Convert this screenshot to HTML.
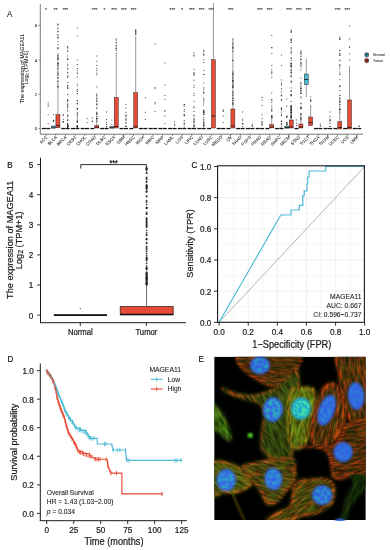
<!DOCTYPE html><html><head><meta charset="utf-8"><style>html,body{margin:0;padding:0;background:#fff;width:390px;height:550px;overflow:hidden}svg{display:block}text{stroke:#1a1a1a;stroke-width:0.2px}.pa text{stroke-width:0.06px}</style></head><body>
<svg width="390" height="550" viewBox="0 0 390 550" font-family='"Liberation Sans", Arial, Helvetica, sans-serif'>
<rect width="390" height="550" fill="#fff"/>
<g class="pa">
<text transform="translate(7,17.2) scale(1,1.1)" font-size="8" fill="#111">A</text>
<line x1="40.3" y1="4" x2="40.3" y2="134.2" stroke="#222" stroke-width="0.6" />
<line x1="40.3" y1="134.2" x2="363" y2="134.2" stroke="#222" stroke-width="0.6" />
<line x1="38.5" y1="128.6" x2="40.3" y2="128.6" stroke="#222" stroke-width="0.5" />
<text x="37.3" y="130.2" font-size="4.4" text-anchor="end" fill="#333"  style="stroke-width:0.08px">0</text>
<line x1="38.5" y1="94.26" x2="40.3" y2="94.26" stroke="#222" stroke-width="0.5" />
<text x="37.3" y="95.86" font-size="4.4" text-anchor="end" fill="#333"  style="stroke-width:0.08px">2</text>
<line x1="38.5" y1="59.92" x2="40.3" y2="59.92" stroke="#222" stroke-width="0.5" />
<text x="37.3" y="61.52" font-size="4.4" text-anchor="end" fill="#333"  style="stroke-width:0.08px">4</text>
<line x1="38.5" y1="25.58" x2="40.3" y2="25.58" stroke="#222" stroke-width="0.5" />
<text x="37.3" y="27.18" font-size="4.4" text-anchor="end" fill="#333"  style="stroke-width:0.08px">6</text>
<text transform="translate(23.5,68.5) rotate(-90)" font-size="5.4" text-anchor="middle" fill="#222">The expression of MAGEA11</text>
<text transform="translate(27.6,67.5) rotate(-90)" font-size="5.4" text-anchor="middle" fill="#222">Log<tspan font-size="3.8" dy="1">2</tspan><tspan dy="-1"> (TPM+1)</tspan></text>
<line x1="46" y1="134.2" x2="46" y2="135.9" stroke="#222" stroke-width="0.5" />
<text transform="translate(47.6,137.5) rotate(-45)" font-size="4.3" text-anchor="end" fill="#222">ACC</text>
<text x="46" y="11.5" font-size="4.8" text-anchor="middle" fill="#444"  style="stroke-width:0.08px">*</text>
<rect x="41.8" y="127.9" width="4.0" height="1.3" fill="#111"/>
<rect x="47.65" y="102.55" width="1.1" height="0.9" fill="#222" fill-opacity="0.85"/>
<rect x="47.65" y="123.31" width="1.1" height="0.9" fill="#222" fill-opacity="0.85"/>
<rect x="47.65" y="114.42" width="1.1" height="0.9" fill="#222" fill-opacity="0.85"/>
<rect x="47.65" y="104.46" width="1.1" height="0.9" fill="#222" fill-opacity="0.85"/>
<rect x="47.65" y="105.77" width="1.1" height="0.9" fill="#222" fill-opacity="0.85"/>
<rect x="46.2" y="127.9" width="4.0" height="1.3" fill="#111"/>
<line x1="55.72" y1="134.2" x2="55.72" y2="135.9" stroke="#222" stroke-width="0.5" />
<text transform="translate(57.32,137.5) rotate(-45)" font-size="4.3" text-anchor="end" fill="#222">BLCA</text>
<text x="55.72" y="11.5" font-size="4.8" text-anchor="middle" fill="#444"  style="stroke-width:0.08px">**</text>
<rect x="52.97" y="114.25" width="1.1" height="0.9" fill="#222" fill-opacity="0.85"/>
<rect x="52.97" y="120.93" width="1.1" height="0.9" fill="#222" fill-opacity="0.85"/>
<rect x="52.97" y="120.25" width="1.1" height="0.9" fill="#222" fill-opacity="0.85"/>
<rect x="52.97" y="119.95" width="1.1" height="0.9" fill="#222" fill-opacity="0.85"/>
<rect x="52.97" y="119.87" width="1.1" height="0.9" fill="#222" fill-opacity="0.85"/>
<rect x="51.52" y="126" width="4.0" height="2.2" fill="#4DBBD5" stroke="#222" stroke-width="0.45"/>
<line x1="51.52" y1="127.2" x2="55.52" y2="127.2" stroke="#111" stroke-width="0.8" />
<rect x="57.37" y="23.55" width="1.1" height="0.9" fill="#222" fill-opacity="0.85"/>
<rect x="57.37" y="31.33" width="1.1" height="0.9" fill="#222" fill-opacity="0.85"/>
<rect x="57.37" y="80.6" width="1.1" height="0.9" fill="#222" fill-opacity="0.85"/>
<rect x="57.37" y="75.15" width="1.1" height="0.9" fill="#222" fill-opacity="0.85"/>
<rect x="57.37" y="37.33" width="1.1" height="0.9" fill="#222" fill-opacity="0.85"/>
<rect x="57.37" y="47.1" width="1.1" height="0.9" fill="#222" fill-opacity="0.85"/>
<rect x="57.37" y="55.32" width="1.1" height="0.9" fill="#222" fill-opacity="0.85"/>
<rect x="57.37" y="47.88" width="1.1" height="0.9" fill="#222" fill-opacity="0.85"/>
<rect x="57.37" y="72.59" width="1.1" height="0.9" fill="#222" fill-opacity="0.85"/>
<rect x="57.37" y="74.52" width="1.1" height="0.9" fill="#222" fill-opacity="0.85"/>
<rect x="57.37" y="40.9" width="1.1" height="0.9" fill="#222" fill-opacity="0.85"/>
<rect x="57.37" y="62.27" width="1.1" height="0.9" fill="#222" fill-opacity="0.85"/>
<rect x="57.37" y="69.7" width="1.1" height="0.9" fill="#222" fill-opacity="0.85"/>
<rect x="57.37" y="34.33" width="1.1" height="0.9" fill="#222" fill-opacity="0.85"/>
<rect x="57.37" y="27.55" width="1.1" height="0.9" fill="#222" fill-opacity="0.85"/>
<rect x="57.37" y="55.92" width="1.1" height="0.9" fill="#222" fill-opacity="0.85"/>
<rect x="57.37" y="68.48" width="1.1" height="0.9" fill="#222" fill-opacity="0.85"/>
<rect x="57.37" y="62.89" width="1.1" height="0.9" fill="#222" fill-opacity="0.85"/>
<rect x="57.37" y="81.32" width="1.1" height="0.9" fill="#222" fill-opacity="0.85"/>
<rect x="57.37" y="83.03" width="1.1" height="0.9" fill="#222" fill-opacity="0.85"/>
<rect x="57.37" y="78.24" width="1.1" height="0.9" fill="#222" fill-opacity="0.85"/>
<rect x="57.37" y="63.46" width="1.1" height="0.9" fill="#222" fill-opacity="0.85"/>
<rect x="57.37" y="67.59" width="1.1" height="0.9" fill="#222" fill-opacity="0.85"/>
<rect x="57.37" y="71.41" width="1.1" height="0.9" fill="#222" fill-opacity="0.85"/>
<rect x="57.37" y="67.94" width="1.1" height="0.9" fill="#222" fill-opacity="0.85"/>
<rect x="57.37" y="24.2" width="1.1" height="0.9" fill="#222" fill-opacity="0.85"/>
<rect x="57.37" y="37.45" width="1.1" height="0.9" fill="#222" fill-opacity="0.85"/>
<rect x="57.37" y="31.14" width="1.1" height="0.9" fill="#222" fill-opacity="0.85"/>
<rect x="57.37" y="43.97" width="1.1" height="0.9" fill="#222" fill-opacity="0.85"/>
<rect x="57.37" y="58.01" width="1.1" height="0.9" fill="#222" fill-opacity="0.85"/>
<rect x="57.37" y="86.47" width="1.1" height="0.9" fill="#222" fill-opacity="0.85"/>
<rect x="57.37" y="56.78" width="1.1" height="0.9" fill="#222" fill-opacity="0.85"/>
<rect x="57.37" y="63.18" width="1.1" height="0.9" fill="#222" fill-opacity="0.85"/>
<rect x="57.37" y="58.03" width="1.1" height="0.9" fill="#222" fill-opacity="0.85"/>
<rect x="57.37" y="85.89" width="1.1" height="0.9" fill="#222" fill-opacity="0.85"/>
<rect x="57.37" y="35.19" width="1.1" height="0.9" fill="#222" fill-opacity="0.85"/>
<rect x="57.37" y="77.2" width="1.1" height="0.9" fill="#222" fill-opacity="0.85"/>
<rect x="57.37" y="59.7" width="1.1" height="0.9" fill="#222" fill-opacity="0.85"/>
<rect x="57.37" y="24.62" width="1.1" height="0.9" fill="#222" fill-opacity="0.85"/>
<rect x="57.37" y="58.05" width="1.1" height="0.9" fill="#222" fill-opacity="0.85"/>
<rect x="57.37" y="65.14" width="1.1" height="0.9" fill="#222" fill-opacity="0.85"/>
<rect x="57.37" y="36.99" width="1.1" height="0.9" fill="#222" fill-opacity="0.85"/>
<rect x="57.37" y="53.33" width="1.1" height="0.9" fill="#222" fill-opacity="0.85"/>
<rect x="57.37" y="63.88" width="1.1" height="0.9" fill="#222" fill-opacity="0.85"/>
<rect x="57.37" y="48.31" width="1.1" height="0.9" fill="#222" fill-opacity="0.85"/>
<rect x="57.37" y="28.64" width="1.1" height="0.9" fill="#222" fill-opacity="0.85"/>
<rect x="57.37" y="66.08" width="1.1" height="0.9" fill="#222" fill-opacity="0.85"/>
<rect x="57.37" y="80.73" width="1.1" height="0.9" fill="#222" fill-opacity="0.85"/>
<rect x="57.37" y="54.83" width="1.1" height="0.9" fill="#222" fill-opacity="0.85"/>
<rect x="57.37" y="76.92" width="1.1" height="0.9" fill="#222" fill-opacity="0.85"/>
<rect x="57.37" y="72.69" width="1.1" height="0.9" fill="#222" fill-opacity="0.85"/>
<rect x="57.37" y="84.75" width="1.1" height="0.9" fill="#222" fill-opacity="0.85"/>
<rect x="57.37" y="86.29" width="1.1" height="0.9" fill="#222" fill-opacity="0.85"/>
<rect x="57.37" y="73.54" width="1.1" height="0.9" fill="#222" fill-opacity="0.85"/>
<rect x="57.37" y="59.16" width="1.1" height="0.9" fill="#222" fill-opacity="0.85"/>
<line x1="57.92" y1="87" x2="57.92" y2="114.6" stroke="#333" stroke-width="0.5" />
<rect x="55.92" y="114.6" width="4.0" height="13.2" fill="#E64B35" stroke="#222" stroke-width="0.45"/>
<line x1="55.92" y1="125.4" x2="59.92" y2="125.4" stroke="#111" stroke-width="0.8" />
<line x1="65.44" y1="134.2" x2="65.44" y2="135.9" stroke="#222" stroke-width="0.5" />
<text transform="translate(67.04,137.5) rotate(-45)" font-size="4.3" text-anchor="end" fill="#222">BRCA</text>
<text x="65.44" y="11.5" font-size="4.8" text-anchor="middle" fill="#444"  style="stroke-width:0.08px">***</text>
<rect x="62.69" y="114.25" width="1.1" height="0.9" fill="#222" fill-opacity="0.85"/>
<rect x="62.69" y="121.25" width="1.1" height="0.9" fill="#222" fill-opacity="0.85"/>
<rect x="62.69" y="121.81" width="1.1" height="0.9" fill="#222" fill-opacity="0.85"/>
<rect x="62.69" y="115.24" width="1.1" height="0.9" fill="#222" fill-opacity="0.85"/>
<rect x="62.69" y="120.96" width="1.1" height="0.9" fill="#222" fill-opacity="0.85"/>
<rect x="62.69" y="118.77" width="1.1" height="0.9" fill="#222" fill-opacity="0.85"/>
<rect x="61.24" y="127.9" width="4.0" height="1.3" fill="#111"/>
<rect x="67.09" y="46.05" width="1.1" height="0.9" fill="#222" fill-opacity="0.85"/>
<rect x="67.09" y="126.38" width="1.1" height="0.9" fill="#222" fill-opacity="0.85"/>
<rect x="67.09" y="85.57" width="1.1" height="0.9" fill="#222" fill-opacity="0.85"/>
<rect x="67.09" y="125.2" width="1.1" height="0.9" fill="#222" fill-opacity="0.85"/>
<rect x="67.09" y="65.58" width="1.1" height="0.9" fill="#222" fill-opacity="0.85"/>
<rect x="67.09" y="115.78" width="1.1" height="0.9" fill="#222" fill-opacity="0.85"/>
<rect x="67.09" y="118.6" width="1.1" height="0.9" fill="#222" fill-opacity="0.85"/>
<rect x="67.09" y="99.49" width="1.1" height="0.9" fill="#222" fill-opacity="0.85"/>
<rect x="67.09" y="126.17" width="1.1" height="0.9" fill="#222" fill-opacity="0.85"/>
<rect x="67.09" y="125.5" width="1.1" height="0.9" fill="#222" fill-opacity="0.85"/>
<rect x="67.09" y="77.05" width="1.1" height="0.9" fill="#222" fill-opacity="0.85"/>
<rect x="67.09" y="126.55" width="1.1" height="0.9" fill="#222" fill-opacity="0.85"/>
<rect x="67.09" y="107.41" width="1.1" height="0.9" fill="#222" fill-opacity="0.85"/>
<rect x="67.09" y="82.04" width="1.1" height="0.9" fill="#222" fill-opacity="0.85"/>
<rect x="67.09" y="94.1" width="1.1" height="0.9" fill="#222" fill-opacity="0.85"/>
<rect x="67.09" y="104.31" width="1.1" height="0.9" fill="#222" fill-opacity="0.85"/>
<rect x="67.09" y="50.48" width="1.1" height="0.9" fill="#222" fill-opacity="0.85"/>
<rect x="67.09" y="115.45" width="1.1" height="0.9" fill="#222" fill-opacity="0.85"/>
<rect x="67.09" y="63.77" width="1.1" height="0.9" fill="#222" fill-opacity="0.85"/>
<rect x="67.09" y="75.54" width="1.1" height="0.9" fill="#222" fill-opacity="0.85"/>
<rect x="67.09" y="68.04" width="1.1" height="0.9" fill="#222" fill-opacity="0.85"/>
<rect x="67.09" y="71.9" width="1.1" height="0.9" fill="#222" fill-opacity="0.85"/>
<rect x="67.09" y="103.31" width="1.1" height="0.9" fill="#222" fill-opacity="0.85"/>
<rect x="67.09" y="124.42" width="1.1" height="0.9" fill="#222" fill-opacity="0.85"/>
<rect x="67.09" y="85.36" width="1.1" height="0.9" fill="#222" fill-opacity="0.85"/>
<rect x="67.09" y="75.56" width="1.1" height="0.9" fill="#222" fill-opacity="0.85"/>
<rect x="67.09" y="86.68" width="1.1" height="0.9" fill="#222" fill-opacity="0.85"/>
<rect x="67.09" y="68.58" width="1.1" height="0.9" fill="#222" fill-opacity="0.85"/>
<rect x="67.09" y="125.94" width="1.1" height="0.9" fill="#222" fill-opacity="0.85"/>
<rect x="67.09" y="99.5" width="1.1" height="0.9" fill="#222" fill-opacity="0.85"/>
<rect x="67.09" y="122.98" width="1.1" height="0.9" fill="#222" fill-opacity="0.85"/>
<rect x="67.09" y="126.53" width="1.1" height="0.9" fill="#222" fill-opacity="0.85"/>
<rect x="67.09" y="47.6" width="1.1" height="0.9" fill="#222" fill-opacity="0.85"/>
<rect x="67.09" y="50.65" width="1.1" height="0.9" fill="#222" fill-opacity="0.85"/>
<rect x="67.09" y="125.57" width="1.1" height="0.9" fill="#222" fill-opacity="0.85"/>
<rect x="67.09" y="124.13" width="1.1" height="0.9" fill="#222" fill-opacity="0.85"/>
<rect x="67.09" y="126.34" width="1.1" height="0.9" fill="#222" fill-opacity="0.85"/>
<rect x="67.09" y="105.07" width="1.1" height="0.9" fill="#222" fill-opacity="0.85"/>
<rect x="67.09" y="106.38" width="1.1" height="0.9" fill="#222" fill-opacity="0.85"/>
<rect x="67.09" y="101.01" width="1.1" height="0.9" fill="#222" fill-opacity="0.85"/>
<rect x="67.09" y="125.5" width="1.1" height="0.9" fill="#222" fill-opacity="0.85"/>
<rect x="67.09" y="124.62" width="1.1" height="0.9" fill="#222" fill-opacity="0.85"/>
<rect x="67.09" y="123.36" width="1.1" height="0.9" fill="#222" fill-opacity="0.85"/>
<rect x="67.09" y="87.72" width="1.1" height="0.9" fill="#222" fill-opacity="0.85"/>
<rect x="67.09" y="46.49" width="1.1" height="0.9" fill="#222" fill-opacity="0.85"/>
<rect x="67.09" y="126.42" width="1.1" height="0.9" fill="#222" fill-opacity="0.85"/>
<rect x="67.09" y="59.14" width="1.1" height="0.9" fill="#222" fill-opacity="0.85"/>
<rect x="67.09" y="59.11" width="1.1" height="0.9" fill="#222" fill-opacity="0.85"/>
<rect x="67.09" y="55.57" width="1.1" height="0.9" fill="#222" fill-opacity="0.85"/>
<rect x="67.09" y="119.77" width="1.1" height="0.9" fill="#222" fill-opacity="0.85"/>
<rect x="67.09" y="109.65" width="1.1" height="0.9" fill="#222" fill-opacity="0.85"/>
<rect x="67.09" y="126.38" width="1.1" height="0.9" fill="#222" fill-opacity="0.85"/>
<rect x="67.09" y="119.99" width="1.1" height="0.9" fill="#222" fill-opacity="0.85"/>
<rect x="67.09" y="110.6" width="1.1" height="0.9" fill="#222" fill-opacity="0.85"/>
<rect x="67.09" y="125.44" width="1.1" height="0.9" fill="#222" fill-opacity="0.85"/>
<rect x="67.09" y="87.69" width="1.1" height="0.9" fill="#222" fill-opacity="0.85"/>
<rect x="67.09" y="72.53" width="1.1" height="0.9" fill="#222" fill-opacity="0.85"/>
<rect x="67.09" y="58.23" width="1.1" height="0.9" fill="#222" fill-opacity="0.85"/>
<rect x="67.09" y="114.6" width="1.1" height="0.9" fill="#222" fill-opacity="0.85"/>
<rect x="67.09" y="99.72" width="1.1" height="0.9" fill="#222" fill-opacity="0.85"/>
<rect x="65.64" y="127.9" width="4.0" height="1.3" fill="#111"/>
<line x1="75.16" y1="134.2" x2="75.16" y2="135.9" stroke="#222" stroke-width="0.5" />
<text transform="translate(76.76,137.5) rotate(-45)" font-size="4.3" text-anchor="end" fill="#222">CESC</text>
<rect x="70.96" y="127.9" width="4.0" height="1.3" fill="#111"/>
<rect x="76.81" y="27.55" width="1.1" height="0.9" fill="#222" fill-opacity="0.85"/>
<rect x="76.81" y="35.68" width="1.1" height="0.9" fill="#222" fill-opacity="0.85"/>
<rect x="76.81" y="85.45" width="1.1" height="0.9" fill="#222" fill-opacity="0.85"/>
<rect x="76.81" y="121.73" width="1.1" height="0.9" fill="#222" fill-opacity="0.85"/>
<rect x="76.81" y="88.97" width="1.1" height="0.9" fill="#222" fill-opacity="0.85"/>
<rect x="76.81" y="70.28" width="1.1" height="0.9" fill="#222" fill-opacity="0.85"/>
<rect x="76.81" y="68" width="1.1" height="0.9" fill="#222" fill-opacity="0.85"/>
<rect x="76.81" y="59.64" width="1.1" height="0.9" fill="#222" fill-opacity="0.85"/>
<rect x="76.81" y="83.46" width="1.1" height="0.9" fill="#222" fill-opacity="0.85"/>
<rect x="76.81" y="126.16" width="1.1" height="0.9" fill="#222" fill-opacity="0.85"/>
<rect x="76.81" y="125.21" width="1.1" height="0.9" fill="#222" fill-opacity="0.85"/>
<rect x="76.81" y="121.38" width="1.1" height="0.9" fill="#222" fill-opacity="0.85"/>
<rect x="76.81" y="72.58" width="1.1" height="0.9" fill="#222" fill-opacity="0.85"/>
<rect x="76.81" y="116.48" width="1.1" height="0.9" fill="#222" fill-opacity="0.85"/>
<rect x="76.81" y="125.32" width="1.1" height="0.9" fill="#222" fill-opacity="0.85"/>
<rect x="76.81" y="115.45" width="1.1" height="0.9" fill="#222" fill-opacity="0.85"/>
<rect x="76.81" y="99.88" width="1.1" height="0.9" fill="#222" fill-opacity="0.85"/>
<rect x="76.81" y="118.61" width="1.1" height="0.9" fill="#222" fill-opacity="0.85"/>
<rect x="76.81" y="126.53" width="1.1" height="0.9" fill="#222" fill-opacity="0.85"/>
<rect x="76.81" y="90.85" width="1.1" height="0.9" fill="#222" fill-opacity="0.85"/>
<rect x="76.81" y="100.6" width="1.1" height="0.9" fill="#222" fill-opacity="0.85"/>
<rect x="76.81" y="121.99" width="1.1" height="0.9" fill="#222" fill-opacity="0.85"/>
<rect x="76.81" y="113.93" width="1.1" height="0.9" fill="#222" fill-opacity="0.85"/>
<rect x="76.81" y="126.38" width="1.1" height="0.9" fill="#222" fill-opacity="0.85"/>
<rect x="76.81" y="64.08" width="1.1" height="0.9" fill="#222" fill-opacity="0.85"/>
<rect x="76.81" y="113.52" width="1.1" height="0.9" fill="#222" fill-opacity="0.85"/>
<rect x="76.81" y="103.42" width="1.1" height="0.9" fill="#222" fill-opacity="0.85"/>
<rect x="76.81" y="92.96" width="1.1" height="0.9" fill="#222" fill-opacity="0.85"/>
<rect x="76.81" y="126.29" width="1.1" height="0.9" fill="#222" fill-opacity="0.85"/>
<rect x="76.81" y="120.1" width="1.1" height="0.9" fill="#222" fill-opacity="0.85"/>
<rect x="76.81" y="109.01" width="1.1" height="0.9" fill="#222" fill-opacity="0.85"/>
<rect x="76.81" y="126.13" width="1.1" height="0.9" fill="#222" fill-opacity="0.85"/>
<rect x="76.81" y="125.43" width="1.1" height="0.9" fill="#222" fill-opacity="0.85"/>
<rect x="76.81" y="125.93" width="1.1" height="0.9" fill="#222" fill-opacity="0.85"/>
<rect x="76.81" y="121.01" width="1.1" height="0.9" fill="#222" fill-opacity="0.85"/>
<rect x="76.81" y="107.91" width="1.1" height="0.9" fill="#222" fill-opacity="0.85"/>
<rect x="76.81" y="126.55" width="1.1" height="0.9" fill="#222" fill-opacity="0.85"/>
<rect x="76.81" y="102.94" width="1.1" height="0.9" fill="#222" fill-opacity="0.85"/>
<rect x="76.81" y="93.3" width="1.1" height="0.9" fill="#222" fill-opacity="0.85"/>
<rect x="76.81" y="90.76" width="1.1" height="0.9" fill="#222" fill-opacity="0.85"/>
<rect x="76.81" y="111.94" width="1.1" height="0.9" fill="#222" fill-opacity="0.85"/>
<rect x="76.81" y="76.59" width="1.1" height="0.9" fill="#222" fill-opacity="0.85"/>
<rect x="76.81" y="126.51" width="1.1" height="0.9" fill="#222" fill-opacity="0.85"/>
<rect x="76.81" y="72.8" width="1.1" height="0.9" fill="#222" fill-opacity="0.85"/>
<rect x="76.81" y="107.95" width="1.1" height="0.9" fill="#222" fill-opacity="0.85"/>
<rect x="75.36" y="127.9" width="4.0" height="1.3" fill="#111"/>
<line x1="84.88" y1="134.2" x2="84.88" y2="135.9" stroke="#222" stroke-width="0.5" />
<text transform="translate(86.48,137.5) rotate(-45)" font-size="4.3" text-anchor="end" fill="#222">CHOL</text>
<rect x="80.68" y="127.9" width="4.0" height="1.3" fill="#111"/>
<rect x="86.53" y="118.25" width="1.1" height="0.9" fill="#222" fill-opacity="0.85"/>
<rect x="86.53" y="122.22" width="1.1" height="0.9" fill="#222" fill-opacity="0.85"/>
<rect x="85.08" y="127.9" width="4.0" height="1.3" fill="#111"/>
<line x1="94.6" y1="134.2" x2="94.6" y2="135.9" stroke="#222" stroke-width="0.5" />
<text transform="translate(96.2,137.5) rotate(-45)" font-size="4.3" text-anchor="end" fill="#222">COAD</text>
<text x="94.6" y="11.5" font-size="4.8" text-anchor="middle" fill="#444"  style="stroke-width:0.08px">***</text>
<rect x="91.85" y="117.55" width="1.1" height="0.9" fill="#222" fill-opacity="0.85"/>
<rect x="91.85" y="120.77" width="1.1" height="0.9" fill="#222" fill-opacity="0.85"/>
<rect x="91.85" y="120.84" width="1.1" height="0.9" fill="#222" fill-opacity="0.85"/>
<rect x="90.4" y="127.9" width="4.0" height="1.3" fill="#111"/>
<rect x="96.25" y="55.55" width="1.1" height="0.9" fill="#222" fill-opacity="0.85"/>
<rect x="96.25" y="115.68" width="1.1" height="0.9" fill="#222" fill-opacity="0.85"/>
<rect x="96.25" y="68.24" width="1.1" height="0.9" fill="#222" fill-opacity="0.85"/>
<rect x="96.25" y="95.57" width="1.1" height="0.9" fill="#222" fill-opacity="0.85"/>
<rect x="96.25" y="104.29" width="1.1" height="0.9" fill="#222" fill-opacity="0.85"/>
<rect x="96.25" y="118.36" width="1.1" height="0.9" fill="#222" fill-opacity="0.85"/>
<rect x="96.25" y="74.25" width="1.1" height="0.9" fill="#222" fill-opacity="0.85"/>
<rect x="96.25" y="118.18" width="1.1" height="0.9" fill="#222" fill-opacity="0.85"/>
<rect x="96.25" y="121.05" width="1.1" height="0.9" fill="#222" fill-opacity="0.85"/>
<rect x="96.25" y="97.39" width="1.1" height="0.9" fill="#222" fill-opacity="0.85"/>
<rect x="96.25" y="117.96" width="1.1" height="0.9" fill="#222" fill-opacity="0.85"/>
<rect x="96.25" y="102.74" width="1.1" height="0.9" fill="#222" fill-opacity="0.85"/>
<rect x="96.25" y="116.38" width="1.1" height="0.9" fill="#222" fill-opacity="0.85"/>
<rect x="96.25" y="117.82" width="1.1" height="0.9" fill="#222" fill-opacity="0.85"/>
<rect x="96.25" y="108.35" width="1.1" height="0.9" fill="#222" fill-opacity="0.85"/>
<rect x="96.25" y="98.05" width="1.1" height="0.9" fill="#222" fill-opacity="0.85"/>
<rect x="96.25" y="86.42" width="1.1" height="0.9" fill="#222" fill-opacity="0.85"/>
<rect x="96.25" y="114.19" width="1.1" height="0.9" fill="#222" fill-opacity="0.85"/>
<rect x="96.25" y="100.76" width="1.1" height="0.9" fill="#222" fill-opacity="0.85"/>
<rect x="96.25" y="113.31" width="1.1" height="0.9" fill="#222" fill-opacity="0.85"/>
<rect x="96.25" y="60.74" width="1.1" height="0.9" fill="#222" fill-opacity="0.85"/>
<rect x="96.25" y="104.44" width="1.1" height="0.9" fill="#222" fill-opacity="0.85"/>
<rect x="96.25" y="93.42" width="1.1" height="0.9" fill="#222" fill-opacity="0.85"/>
<rect x="96.25" y="99.56" width="1.1" height="0.9" fill="#222" fill-opacity="0.85"/>
<rect x="96.25" y="111.77" width="1.1" height="0.9" fill="#222" fill-opacity="0.85"/>
<rect x="96.25" y="112.61" width="1.1" height="0.9" fill="#222" fill-opacity="0.85"/>
<rect x="96.25" y="64.81" width="1.1" height="0.9" fill="#222" fill-opacity="0.85"/>
<rect x="96.25" y="100.53" width="1.1" height="0.9" fill="#222" fill-opacity="0.85"/>
<rect x="96.25" y="70.24" width="1.1" height="0.9" fill="#222" fill-opacity="0.85"/>
<rect x="96.25" y="72.66" width="1.1" height="0.9" fill="#222" fill-opacity="0.85"/>
<rect x="96.25" y="119.25" width="1.1" height="0.9" fill="#222" fill-opacity="0.85"/>
<rect x="96.25" y="107.2" width="1.1" height="0.9" fill="#222" fill-opacity="0.85"/>
<rect x="96.25" y="120.39" width="1.1" height="0.9" fill="#222" fill-opacity="0.85"/>
<rect x="96.25" y="113.28" width="1.1" height="0.9" fill="#222" fill-opacity="0.85"/>
<rect x="96.25" y="94.77" width="1.1" height="0.9" fill="#222" fill-opacity="0.85"/>
<line x1="96.8" y1="122" x2="96.8" y2="125.6" stroke="#333" stroke-width="0.5" />
<rect x="94.8" y="125.6" width="4.0" height="2.4" fill="#E64B35" stroke="#222" stroke-width="0.45"/>
<line x1="94.8" y1="127.2" x2="98.8" y2="127.2" stroke="#111" stroke-width="0.8" />
<line x1="104.32" y1="134.2" x2="104.32" y2="135.9" stroke="#222" stroke-width="0.5" />
<text transform="translate(105.92,137.5) rotate(-45)" font-size="4.3" text-anchor="end" fill="#222">DLBC</text>
<text x="104.32" y="11.5" font-size="4.8" text-anchor="middle" fill="#444"  style="stroke-width:0.08px">*</text>
<rect x="100.12" y="127.9" width="4.0" height="1.3" fill="#111"/>
<rect x="105.97" y="111.55" width="1.1" height="0.9" fill="#222" fill-opacity="0.85"/>
<rect x="105.97" y="124.16" width="1.1" height="0.9" fill="#222" fill-opacity="0.85"/>
<rect x="105.97" y="126.17" width="1.1" height="0.9" fill="#222" fill-opacity="0.85"/>
<rect x="105.97" y="122.39" width="1.1" height="0.9" fill="#222" fill-opacity="0.85"/>
<rect x="105.97" y="126.49" width="1.1" height="0.9" fill="#222" fill-opacity="0.85"/>
<rect x="105.97" y="119.2" width="1.1" height="0.9" fill="#222" fill-opacity="0.85"/>
<rect x="104.52" y="127.9" width="4.0" height="1.3" fill="#111"/>
<line x1="114.04" y1="134.2" x2="114.04" y2="135.9" stroke="#222" stroke-width="0.5" />
<text transform="translate(115.64,137.5) rotate(-45)" font-size="4.3" text-anchor="end" fill="#222">ESCA</text>
<text x="114.04" y="11.5" font-size="4.8" text-anchor="middle" fill="#444"  style="stroke-width:0.08px">***</text>
<rect x="111.29" y="119.55" width="1.1" height="0.9" fill="#222" fill-opacity="0.85"/>
<rect x="111.29" y="123.94" width="1.1" height="0.9" fill="#222" fill-opacity="0.85"/>
<rect x="109.84" y="126.6" width="4.0" height="1.6" fill="#4DBBD5" stroke="#222" stroke-width="0.45"/>
<line x1="109.84" y1="127.6" x2="113.84" y2="127.6" stroke="#111" stroke-width="0.8" />
<rect x="115.69" y="38.55" width="1.1" height="0.9" fill="#222" fill-opacity="0.85"/>
<rect x="115.69" y="48.28" width="1.1" height="0.9" fill="#222" fill-opacity="0.85"/>
<rect x="115.69" y="45.9" width="1.1" height="0.9" fill="#222" fill-opacity="0.85"/>
<rect x="115.69" y="39.68" width="1.1" height="0.9" fill="#222" fill-opacity="0.85"/>
<rect x="115.69" y="42.38" width="1.1" height="0.9" fill="#222" fill-opacity="0.85"/>
<rect x="115.69" y="44.84" width="1.1" height="0.9" fill="#222" fill-opacity="0.85"/>
<rect x="115.69" y="42.14" width="1.1" height="0.9" fill="#222" fill-opacity="0.85"/>
<rect x="115.69" y="48.17" width="1.1" height="0.9" fill="#222" fill-opacity="0.85"/>
<rect x="115.69" y="47.57" width="1.1" height="0.9" fill="#222" fill-opacity="0.85"/>
<rect x="115.69" y="49.97" width="1.1" height="0.9" fill="#222" fill-opacity="0.85"/>
<line x1="116.24" y1="52" x2="116.24" y2="97.4" stroke="#333" stroke-width="0.5" />
<rect x="114.24" y="97.4" width="4.0" height="30.6" fill="#E64B35" stroke="#222" stroke-width="0.45"/>
<line x1="114.24" y1="126.5" x2="118.24" y2="126.5" stroke="#111" stroke-width="0.8" />
<line x1="123.76" y1="134.2" x2="123.76" y2="135.9" stroke="#222" stroke-width="0.5" />
<text transform="translate(125.36,137.5) rotate(-45)" font-size="4.3" text-anchor="end" fill="#222">GBM</text>
<text x="123.76" y="11.5" font-size="4.8" text-anchor="middle" fill="#444"  style="stroke-width:0.08px">***</text>
<rect x="119.56" y="127.9" width="4.0" height="1.3" fill="#111"/>
<rect x="125.41" y="104.15" width="1.1" height="0.9" fill="#222" fill-opacity="0.85"/>
<rect x="125.41" y="125.56" width="1.1" height="0.9" fill="#222" fill-opacity="0.85"/>
<rect x="125.41" y="118.56" width="1.1" height="0.9" fill="#222" fill-opacity="0.85"/>
<rect x="125.41" y="107.58" width="1.1" height="0.9" fill="#222" fill-opacity="0.85"/>
<rect x="125.41" y="120.03" width="1.1" height="0.9" fill="#222" fill-opacity="0.85"/>
<rect x="125.41" y="115.12" width="1.1" height="0.9" fill="#222" fill-opacity="0.85"/>
<rect x="125.41" y="126.11" width="1.1" height="0.9" fill="#222" fill-opacity="0.85"/>
<rect x="125.41" y="118.72" width="1.1" height="0.9" fill="#222" fill-opacity="0.85"/>
<rect x="125.41" y="114.66" width="1.1" height="0.9" fill="#222" fill-opacity="0.85"/>
<rect x="125.41" y="126.1" width="1.1" height="0.9" fill="#222" fill-opacity="0.85"/>
<rect x="125.41" y="122.38" width="1.1" height="0.9" fill="#222" fill-opacity="0.85"/>
<rect x="125.41" y="112.16" width="1.1" height="0.9" fill="#222" fill-opacity="0.85"/>
<rect x="125.41" y="116.43" width="1.1" height="0.9" fill="#222" fill-opacity="0.85"/>
<rect x="125.41" y="122.36" width="1.1" height="0.9" fill="#222" fill-opacity="0.85"/>
<rect x="123.96" y="127.9" width="4.0" height="1.3" fill="#111"/>
<line x1="133.48" y1="134.2" x2="133.48" y2="135.9" stroke="#222" stroke-width="0.5" />
<text transform="translate(135.08,137.5) rotate(-45)" font-size="4.3" text-anchor="end" fill="#222">HNSC</text>
<text x="133.48" y="11.5" font-size="4.8" text-anchor="middle" fill="#444"  style="stroke-width:0.08px">***</text>
<rect x="129.28" y="127.9" width="4.0" height="1.3" fill="#111"/>
<rect x="135.13" y="29.55" width="1.1" height="0.9" fill="#222" fill-opacity="0.85"/>
<rect x="135.13" y="29.66" width="1.1" height="0.9" fill="#222" fill-opacity="0.85"/>
<rect x="135.13" y="34.66" width="1.1" height="0.9" fill="#222" fill-opacity="0.85"/>
<rect x="135.13" y="31.2" width="1.1" height="0.9" fill="#222" fill-opacity="0.85"/>
<rect x="135.13" y="37.14" width="1.1" height="0.9" fill="#222" fill-opacity="0.85"/>
<rect x="135.13" y="32.76" width="1.1" height="0.9" fill="#222" fill-opacity="0.85"/>
<rect x="135.13" y="32.37" width="1.1" height="0.9" fill="#222" fill-opacity="0.85"/>
<rect x="135.13" y="30.6" width="1.1" height="0.9" fill="#222" fill-opacity="0.85"/>
<rect x="135.13" y="33" width="1.1" height="0.9" fill="#222" fill-opacity="0.85"/>
<rect x="135.13" y="33.3" width="1.1" height="0.9" fill="#222" fill-opacity="0.85"/>
<line x1="135.68" y1="38" x2="135.68" y2="92.6" stroke="#333" stroke-width="0.5" />
<rect x="133.68" y="92.6" width="4.0" height="35.4" fill="#E64B35" stroke="#222" stroke-width="0.45"/>
<line x1="133.68" y1="126.8" x2="137.68" y2="126.8" stroke="#111" stroke-width="0.8" />
<line x1="143.2" y1="134.2" x2="143.2" y2="135.9" stroke="#222" stroke-width="0.5" />
<text transform="translate(144.8,137.5) rotate(-45)" font-size="4.3" text-anchor="end" fill="#222">KICH</text>
<rect x="139" y="127.9" width="4.0" height="1.3" fill="#111"/>
<rect x="144.85" y="97.25" width="1.1" height="0.9" fill="#222" fill-opacity="0.85"/>
<rect x="144.85" y="111.78" width="1.1" height="0.9" fill="#222" fill-opacity="0.85"/>
<rect x="144.85" y="119.08" width="1.1" height="0.9" fill="#222" fill-opacity="0.85"/>
<rect x="143.4" y="127.9" width="4.0" height="1.3" fill="#111"/>
<line x1="152.92" y1="134.2" x2="152.92" y2="135.9" stroke="#222" stroke-width="0.5" />
<text transform="translate(154.52,137.5) rotate(-45)" font-size="4.3" text-anchor="end" fill="#222">KIRC</text>
<rect x="148.72" y="127.9" width="4.0" height="1.3" fill="#111"/>
<rect x="154.57" y="43.55" width="1.1" height="0.9" fill="#222" fill-opacity="0.85"/>
<rect x="154.57" y="103.41" width="1.1" height="0.9" fill="#222" fill-opacity="0.85"/>
<rect x="154.57" y="88.33" width="1.1" height="0.9" fill="#222" fill-opacity="0.85"/>
<rect x="154.57" y="111.16" width="1.1" height="0.9" fill="#222" fill-opacity="0.85"/>
<rect x="154.57" y="101.99" width="1.1" height="0.9" fill="#222" fill-opacity="0.85"/>
<rect x="154.57" y="87.17" width="1.1" height="0.9" fill="#222" fill-opacity="0.85"/>
<rect x="153.12" y="127.9" width="4.0" height="1.3" fill="#111"/>
<line x1="162.64" y1="134.2" x2="162.64" y2="135.9" stroke="#222" stroke-width="0.5" />
<text transform="translate(164.24,137.5) rotate(-45)" font-size="4.3" text-anchor="end" fill="#222">KIRP</text>
<rect x="158.44" y="127.9" width="4.0" height="1.3" fill="#111"/>
<rect x="164.29" y="62.55" width="1.1" height="0.9" fill="#222" fill-opacity="0.85"/>
<rect x="164.29" y="84.54" width="1.1" height="0.9" fill="#222" fill-opacity="0.85"/>
<rect x="164.29" y="94.97" width="1.1" height="0.9" fill="#222" fill-opacity="0.85"/>
<rect x="164.29" y="110.41" width="1.1" height="0.9" fill="#222" fill-opacity="0.85"/>
<rect x="164.29" y="98.88" width="1.1" height="0.9" fill="#222" fill-opacity="0.85"/>
<rect x="164.29" y="110.6" width="1.1" height="0.9" fill="#222" fill-opacity="0.85"/>
<rect x="164.29" y="115.37" width="1.1" height="0.9" fill="#222" fill-opacity="0.85"/>
<rect x="164.29" y="123.15" width="1.1" height="0.9" fill="#222" fill-opacity="0.85"/>
<rect x="162.84" y="127.9" width="4.0" height="1.3" fill="#111"/>
<line x1="172.36" y1="134.2" x2="172.36" y2="135.9" stroke="#222" stroke-width="0.5" />
<text transform="translate(173.96,137.5) rotate(-45)" font-size="4.3" text-anchor="end" fill="#222">LAML</text>
<text x="172.36" y="11.5" font-size="4.8" text-anchor="middle" fill="#444"  style="stroke-width:0.08px">***</text>
<rect x="168.16" y="127.9" width="4.0" height="1.3" fill="#111"/>
<rect x="174.01" y="121.55" width="1.1" height="0.9" fill="#222" fill-opacity="0.85"/>
<rect x="174.01" y="124.27" width="1.1" height="0.9" fill="#222" fill-opacity="0.85"/>
<rect x="174.01" y="125.25" width="1.1" height="0.9" fill="#222" fill-opacity="0.85"/>
<rect x="172.56" y="127.9" width="4.0" height="1.3" fill="#111"/>
<line x1="182.08" y1="134.2" x2="182.08" y2="135.9" stroke="#222" stroke-width="0.5" />
<text transform="translate(183.68,137.5) rotate(-45)" font-size="4.3" text-anchor="end" fill="#222">LGG</text>
<text x="182.08" y="11.5" font-size="4.8" text-anchor="middle" fill="#444"  style="stroke-width:0.08px">*</text>
<rect x="177.88" y="127.9" width="4.0" height="1.3" fill="#111"/>
<rect x="183.73" y="104.15" width="1.1" height="0.9" fill="#222" fill-opacity="0.85"/>
<rect x="183.73" y="120.06" width="1.1" height="0.9" fill="#222" fill-opacity="0.85"/>
<rect x="183.73" y="122.34" width="1.1" height="0.9" fill="#222" fill-opacity="0.85"/>
<rect x="183.73" y="114.95" width="1.1" height="0.9" fill="#222" fill-opacity="0.85"/>
<rect x="183.73" y="123.51" width="1.1" height="0.9" fill="#222" fill-opacity="0.85"/>
<rect x="183.73" y="126.55" width="1.1" height="0.9" fill="#222" fill-opacity="0.85"/>
<rect x="183.73" y="110.92" width="1.1" height="0.9" fill="#222" fill-opacity="0.85"/>
<rect x="183.73" y="115.32" width="1.1" height="0.9" fill="#222" fill-opacity="0.85"/>
<rect x="183.73" y="105.57" width="1.1" height="0.9" fill="#222" fill-opacity="0.85"/>
<rect x="183.73" y="115.07" width="1.1" height="0.9" fill="#222" fill-opacity="0.85"/>
<rect x="183.73" y="113.75" width="1.1" height="0.9" fill="#222" fill-opacity="0.85"/>
<rect x="183.73" y="104.33" width="1.1" height="0.9" fill="#222" fill-opacity="0.85"/>
<rect x="183.73" y="123.6" width="1.1" height="0.9" fill="#222" fill-opacity="0.85"/>
<rect x="183.73" y="109.03" width="1.1" height="0.9" fill="#222" fill-opacity="0.85"/>
<rect x="182.28" y="127.9" width="4.0" height="1.3" fill="#111"/>
<line x1="191.8" y1="134.2" x2="191.8" y2="135.9" stroke="#222" stroke-width="0.5" />
<text transform="translate(193.4,137.5) rotate(-45)" font-size="4.3" text-anchor="end" fill="#222">LIHC</text>
<text x="191.8" y="11.5" font-size="4.8" text-anchor="middle" fill="#444"  style="stroke-width:0.08px">***</text>
<rect x="187.6" y="127.9" width="4.0" height="1.3" fill="#111"/>
<rect x="193.45" y="52.55" width="1.1" height="0.9" fill="#222" fill-opacity="0.85"/>
<rect x="193.45" y="117.84" width="1.1" height="0.9" fill="#222" fill-opacity="0.85"/>
<rect x="193.45" y="118.92" width="1.1" height="0.9" fill="#222" fill-opacity="0.85"/>
<rect x="193.45" y="107.25" width="1.1" height="0.9" fill="#222" fill-opacity="0.85"/>
<rect x="193.45" y="86.98" width="1.1" height="0.9" fill="#222" fill-opacity="0.85"/>
<rect x="193.45" y="73.26" width="1.1" height="0.9" fill="#222" fill-opacity="0.85"/>
<rect x="193.45" y="111" width="1.1" height="0.9" fill="#222" fill-opacity="0.85"/>
<rect x="193.45" y="74.64" width="1.1" height="0.9" fill="#222" fill-opacity="0.85"/>
<rect x="193.45" y="125.57" width="1.1" height="0.9" fill="#222" fill-opacity="0.85"/>
<rect x="193.45" y="68.8" width="1.1" height="0.9" fill="#222" fill-opacity="0.85"/>
<rect x="193.45" y="115.25" width="1.1" height="0.9" fill="#222" fill-opacity="0.85"/>
<rect x="193.45" y="55.57" width="1.1" height="0.9" fill="#222" fill-opacity="0.85"/>
<rect x="193.45" y="92.91" width="1.1" height="0.9" fill="#222" fill-opacity="0.85"/>
<rect x="193.45" y="126.55" width="1.1" height="0.9" fill="#222" fill-opacity="0.85"/>
<rect x="193.45" y="126.07" width="1.1" height="0.9" fill="#222" fill-opacity="0.85"/>
<rect x="193.45" y="121.25" width="1.1" height="0.9" fill="#222" fill-opacity="0.85"/>
<rect x="193.45" y="79.78" width="1.1" height="0.9" fill="#222" fill-opacity="0.85"/>
<rect x="193.45" y="125.05" width="1.1" height="0.9" fill="#222" fill-opacity="0.85"/>
<rect x="193.45" y="123.83" width="1.1" height="0.9" fill="#222" fill-opacity="0.85"/>
<rect x="193.45" y="120.92" width="1.1" height="0.9" fill="#222" fill-opacity="0.85"/>
<rect x="193.45" y="122.5" width="1.1" height="0.9" fill="#222" fill-opacity="0.85"/>
<rect x="193.45" y="106.45" width="1.1" height="0.9" fill="#222" fill-opacity="0.85"/>
<rect x="193.45" y="54.68" width="1.1" height="0.9" fill="#222" fill-opacity="0.85"/>
<rect x="193.45" y="94.99" width="1.1" height="0.9" fill="#222" fill-opacity="0.85"/>
<rect x="193.45" y="115.27" width="1.1" height="0.9" fill="#222" fill-opacity="0.85"/>
<rect x="193.45" y="72.17" width="1.1" height="0.9" fill="#222" fill-opacity="0.85"/>
<rect x="193.45" y="100.8" width="1.1" height="0.9" fill="#222" fill-opacity="0.85"/>
<rect x="193.45" y="74.2" width="1.1" height="0.9" fill="#222" fill-opacity="0.85"/>
<rect x="193.45" y="119.76" width="1.1" height="0.9" fill="#222" fill-opacity="0.85"/>
<rect x="193.45" y="84.73" width="1.1" height="0.9" fill="#222" fill-opacity="0.85"/>
<rect x="192" y="127.9" width="4.0" height="1.3" fill="#111"/>
<line x1="201.52" y1="134.2" x2="201.52" y2="135.9" stroke="#222" stroke-width="0.5" />
<text transform="translate(203.12,137.5) rotate(-45)" font-size="4.3" text-anchor="end" fill="#222">LUAD</text>
<text x="201.52" y="11.5" font-size="4.8" text-anchor="middle" fill="#444"  style="stroke-width:0.08px">***</text>
<rect x="197.32" y="127.9" width="4.0" height="1.3" fill="#111"/>
<rect x="203.17" y="50.35" width="1.1" height="0.9" fill="#222" fill-opacity="0.85"/>
<rect x="203.17" y="110.7" width="1.1" height="0.9" fill="#222" fill-opacity="0.85"/>
<rect x="203.17" y="121.36" width="1.1" height="0.9" fill="#222" fill-opacity="0.85"/>
<rect x="203.17" y="110.96" width="1.1" height="0.9" fill="#222" fill-opacity="0.85"/>
<rect x="203.17" y="125.05" width="1.1" height="0.9" fill="#222" fill-opacity="0.85"/>
<rect x="203.17" y="74.08" width="1.1" height="0.9" fill="#222" fill-opacity="0.85"/>
<rect x="203.17" y="109.49" width="1.1" height="0.9" fill="#222" fill-opacity="0.85"/>
<rect x="203.17" y="70" width="1.1" height="0.9" fill="#222" fill-opacity="0.85"/>
<rect x="203.17" y="91.95" width="1.1" height="0.9" fill="#222" fill-opacity="0.85"/>
<rect x="203.17" y="124.52" width="1.1" height="0.9" fill="#222" fill-opacity="0.85"/>
<rect x="203.17" y="88.91" width="1.1" height="0.9" fill="#222" fill-opacity="0.85"/>
<rect x="203.17" y="87.42" width="1.1" height="0.9" fill="#222" fill-opacity="0.85"/>
<rect x="203.17" y="122.31" width="1.1" height="0.9" fill="#222" fill-opacity="0.85"/>
<rect x="203.17" y="119.27" width="1.1" height="0.9" fill="#222" fill-opacity="0.85"/>
<rect x="203.17" y="50.51" width="1.1" height="0.9" fill="#222" fill-opacity="0.85"/>
<rect x="203.17" y="124.4" width="1.1" height="0.9" fill="#222" fill-opacity="0.85"/>
<rect x="203.17" y="123.06" width="1.1" height="0.9" fill="#222" fill-opacity="0.85"/>
<rect x="203.17" y="54.64" width="1.1" height="0.9" fill="#222" fill-opacity="0.85"/>
<rect x="203.17" y="112.37" width="1.1" height="0.9" fill="#222" fill-opacity="0.85"/>
<rect x="203.17" y="111.26" width="1.1" height="0.9" fill="#222" fill-opacity="0.85"/>
<rect x="203.17" y="59.34" width="1.1" height="0.9" fill="#222" fill-opacity="0.85"/>
<rect x="203.17" y="97.74" width="1.1" height="0.9" fill="#222" fill-opacity="0.85"/>
<rect x="203.17" y="73.9" width="1.1" height="0.9" fill="#222" fill-opacity="0.85"/>
<rect x="203.17" y="54.44" width="1.1" height="0.9" fill="#222" fill-opacity="0.85"/>
<rect x="203.17" y="104.73" width="1.1" height="0.9" fill="#222" fill-opacity="0.85"/>
<rect x="203.17" y="82.51" width="1.1" height="0.9" fill="#222" fill-opacity="0.85"/>
<rect x="203.17" y="102.73" width="1.1" height="0.9" fill="#222" fill-opacity="0.85"/>
<rect x="203.17" y="112.46" width="1.1" height="0.9" fill="#222" fill-opacity="0.85"/>
<rect x="203.17" y="52.82" width="1.1" height="0.9" fill="#222" fill-opacity="0.85"/>
<rect x="203.17" y="119.61" width="1.1" height="0.9" fill="#222" fill-opacity="0.85"/>
<rect x="203.17" y="113.8" width="1.1" height="0.9" fill="#222" fill-opacity="0.85"/>
<rect x="203.17" y="92.79" width="1.1" height="0.9" fill="#222" fill-opacity="0.85"/>
<rect x="203.17" y="112.31" width="1.1" height="0.9" fill="#222" fill-opacity="0.85"/>
<rect x="203.17" y="125.2" width="1.1" height="0.9" fill="#222" fill-opacity="0.85"/>
<rect x="203.17" y="110.24" width="1.1" height="0.9" fill="#222" fill-opacity="0.85"/>
<rect x="203.17" y="117.3" width="1.1" height="0.9" fill="#222" fill-opacity="0.85"/>
<rect x="203.17" y="126.53" width="1.1" height="0.9" fill="#222" fill-opacity="0.85"/>
<rect x="203.17" y="125.41" width="1.1" height="0.9" fill="#222" fill-opacity="0.85"/>
<rect x="203.17" y="122.4" width="1.1" height="0.9" fill="#222" fill-opacity="0.85"/>
<rect x="203.17" y="114.29" width="1.1" height="0.9" fill="#222" fill-opacity="0.85"/>
<rect x="203.17" y="99.37" width="1.1" height="0.9" fill="#222" fill-opacity="0.85"/>
<rect x="203.17" y="112.52" width="1.1" height="0.9" fill="#222" fill-opacity="0.85"/>
<rect x="203.17" y="62.17" width="1.1" height="0.9" fill="#222" fill-opacity="0.85"/>
<rect x="203.17" y="91.4" width="1.1" height="0.9" fill="#222" fill-opacity="0.85"/>
<rect x="203.17" y="100.63" width="1.1" height="0.9" fill="#222" fill-opacity="0.85"/>
<rect x="201.72" y="127.9" width="4.0" height="1.3" fill="#111"/>
<line x1="211.24" y1="134.2" x2="211.24" y2="135.9" stroke="#222" stroke-width="0.5" />
<text transform="translate(212.84,137.5) rotate(-45)" font-size="4.3" text-anchor="end" fill="#222">LUSC</text>
<text x="211.24" y="11.5" font-size="4.8" text-anchor="middle" fill="#444"  style="stroke-width:0.08px">***</text>
<rect x="207.04" y="127.9" width="4.0" height="1.3" fill="#111"/>
<line x1="213.44" y1="3" x2="213.44" y2="59.7" stroke="#333" stroke-width="0.5" />
<rect x="211.44" y="59.7" width="4.0" height="68.3" fill="#E64B35" stroke="#222" stroke-width="0.45"/>
<line x1="211.44" y1="116" x2="215.44" y2="116" stroke="#111" stroke-width="0.8" />
<line x1="220.96" y1="134.2" x2="220.96" y2="135.9" stroke="#222" stroke-width="0.5" />
<text transform="translate(222.56,137.5) rotate(-45)" font-size="4.3" text-anchor="end" fill="#222">MESO</text>
<rect x="216.76" y="127.9" width="4.0" height="1.3" fill="#111"/>
<rect x="222.61" y="109.55" width="1.1" height="0.9" fill="#222" fill-opacity="0.85"/>
<rect x="222.61" y="110.77" width="1.1" height="0.9" fill="#222" fill-opacity="0.85"/>
<rect x="222.61" y="110.55" width="1.1" height="0.9" fill="#222" fill-opacity="0.85"/>
<rect x="222.61" y="115.61" width="1.1" height="0.9" fill="#222" fill-opacity="0.85"/>
<rect x="222.61" y="121.93" width="1.1" height="0.9" fill="#222" fill-opacity="0.85"/>
<rect x="221.16" y="127.9" width="4.0" height="1.3" fill="#111"/>
<line x1="230.68" y1="134.2" x2="230.68" y2="135.9" stroke="#222" stroke-width="0.5" />
<text transform="translate(232.28,137.5) rotate(-45)" font-size="4.3" text-anchor="end" fill="#222">OV</text>
<text x="230.68" y="11.5" font-size="4.8" text-anchor="middle" fill="#444"  style="stroke-width:0.08px">***</text>
<rect x="226.48" y="127.9" width="4.0" height="1.3" fill="#111"/>
<rect x="232.33" y="38.55" width="1.1" height="0.9" fill="#222" fill-opacity="0.85"/>
<rect x="232.33" y="84.71" width="1.1" height="0.9" fill="#222" fill-opacity="0.85"/>
<rect x="232.33" y="85.94" width="1.1" height="0.9" fill="#222" fill-opacity="0.85"/>
<rect x="232.33" y="79.95" width="1.1" height="0.9" fill="#222" fill-opacity="0.85"/>
<rect x="232.33" y="102.49" width="1.1" height="0.9" fill="#222" fill-opacity="0.85"/>
<rect x="232.33" y="48" width="1.1" height="0.9" fill="#222" fill-opacity="0.85"/>
<rect x="232.33" y="74.24" width="1.1" height="0.9" fill="#222" fill-opacity="0.85"/>
<rect x="232.33" y="73.24" width="1.1" height="0.9" fill="#222" fill-opacity="0.85"/>
<rect x="232.33" y="42.63" width="1.1" height="0.9" fill="#222" fill-opacity="0.85"/>
<rect x="232.33" y="78.14" width="1.1" height="0.9" fill="#222" fill-opacity="0.85"/>
<rect x="232.33" y="81.34" width="1.1" height="0.9" fill="#222" fill-opacity="0.85"/>
<rect x="232.33" y="79.77" width="1.1" height="0.9" fill="#222" fill-opacity="0.85"/>
<rect x="232.33" y="91.39" width="1.1" height="0.9" fill="#222" fill-opacity="0.85"/>
<rect x="232.33" y="59.96" width="1.1" height="0.9" fill="#222" fill-opacity="0.85"/>
<rect x="232.33" y="76.56" width="1.1" height="0.9" fill="#222" fill-opacity="0.85"/>
<rect x="232.33" y="97.98" width="1.1" height="0.9" fill="#222" fill-opacity="0.85"/>
<rect x="232.33" y="93.68" width="1.1" height="0.9" fill="#222" fill-opacity="0.85"/>
<rect x="232.33" y="72.99" width="1.1" height="0.9" fill="#222" fill-opacity="0.85"/>
<rect x="232.33" y="86.34" width="1.1" height="0.9" fill="#222" fill-opacity="0.85"/>
<rect x="232.33" y="46.7" width="1.1" height="0.9" fill="#222" fill-opacity="0.85"/>
<rect x="232.33" y="102.36" width="1.1" height="0.9" fill="#222" fill-opacity="0.85"/>
<rect x="232.33" y="75.46" width="1.1" height="0.9" fill="#222" fill-opacity="0.85"/>
<rect x="232.33" y="86.73" width="1.1" height="0.9" fill="#222" fill-opacity="0.85"/>
<rect x="232.33" y="92.01" width="1.1" height="0.9" fill="#222" fill-opacity="0.85"/>
<rect x="232.33" y="94.89" width="1.1" height="0.9" fill="#222" fill-opacity="0.85"/>
<rect x="232.33" y="60.09" width="1.1" height="0.9" fill="#222" fill-opacity="0.85"/>
<rect x="232.33" y="100.18" width="1.1" height="0.9" fill="#222" fill-opacity="0.85"/>
<rect x="232.33" y="71.58" width="1.1" height="0.9" fill="#222" fill-opacity="0.85"/>
<rect x="232.33" y="87.17" width="1.1" height="0.9" fill="#222" fill-opacity="0.85"/>
<rect x="232.33" y="82.86" width="1.1" height="0.9" fill="#222" fill-opacity="0.85"/>
<rect x="232.33" y="97.31" width="1.1" height="0.9" fill="#222" fill-opacity="0.85"/>
<rect x="232.33" y="99.83" width="1.1" height="0.9" fill="#222" fill-opacity="0.85"/>
<rect x="232.33" y="104.02" width="1.1" height="0.9" fill="#222" fill-opacity="0.85"/>
<rect x="232.33" y="50.91" width="1.1" height="0.9" fill="#222" fill-opacity="0.85"/>
<rect x="232.33" y="81.17" width="1.1" height="0.9" fill="#222" fill-opacity="0.85"/>
<rect x="232.33" y="80.36" width="1.1" height="0.9" fill="#222" fill-opacity="0.85"/>
<rect x="232.33" y="85.01" width="1.1" height="0.9" fill="#222" fill-opacity="0.85"/>
<rect x="232.33" y="103.27" width="1.1" height="0.9" fill="#222" fill-opacity="0.85"/>
<rect x="232.33" y="44.23" width="1.1" height="0.9" fill="#222" fill-opacity="0.85"/>
<rect x="232.33" y="46.82" width="1.1" height="0.9" fill="#222" fill-opacity="0.85"/>
<line x1="232.88" y1="39" x2="232.88" y2="109" stroke="#333" stroke-width="0.5" />
<rect x="230.88" y="109" width="4.0" height="19" fill="#E64B35" stroke="#222" stroke-width="0.45"/>
<line x1="230.88" y1="126" x2="234.88" y2="126" stroke="#111" stroke-width="0.8" />
<line x1="240.4" y1="134.2" x2="240.4" y2="135.9" stroke="#222" stroke-width="0.5" />
<text transform="translate(242,137.5) rotate(-45)" font-size="4.3" text-anchor="end" fill="#222">PAAD</text>
<rect x="236.2" y="127.9" width="4.0" height="1.3" fill="#111"/>
<rect x="242.05" y="111.55" width="1.1" height="0.9" fill="#222" fill-opacity="0.85"/>
<rect x="242.05" y="120.35" width="1.1" height="0.9" fill="#222" fill-opacity="0.85"/>
<rect x="242.05" y="126.31" width="1.1" height="0.9" fill="#222" fill-opacity="0.85"/>
<rect x="242.05" y="123.39" width="1.1" height="0.9" fill="#222" fill-opacity="0.85"/>
<rect x="242.05" y="118.71" width="1.1" height="0.9" fill="#222" fill-opacity="0.85"/>
<rect x="242.05" y="123.31" width="1.1" height="0.9" fill="#222" fill-opacity="0.85"/>
<rect x="242.05" y="123.42" width="1.1" height="0.9" fill="#222" fill-opacity="0.85"/>
<rect x="240.6" y="127.9" width="4.0" height="1.3" fill="#111"/>
<line x1="250.12" y1="134.2" x2="250.12" y2="135.9" stroke="#222" stroke-width="0.5" />
<text transform="translate(251.72,137.5) rotate(-45)" font-size="4.3" text-anchor="end" fill="#222">PCPG</text>
<rect x="245.92" y="127.9" width="4.0" height="1.3" fill="#111"/>
<rect x="251.77" y="123.55" width="1.1" height="0.9" fill="#222" fill-opacity="0.85"/>
<rect x="251.77" y="126.1" width="1.1" height="0.9" fill="#222" fill-opacity="0.85"/>
<rect x="251.77" y="125.17" width="1.1" height="0.9" fill="#222" fill-opacity="0.85"/>
<rect x="250.32" y="127.9" width="4.0" height="1.3" fill="#111"/>
<line x1="259.84" y1="134.2" x2="259.84" y2="135.9" stroke="#222" stroke-width="0.5" />
<text transform="translate(261.44,137.5) rotate(-45)" font-size="4.3" text-anchor="end" fill="#222">PRAD</text>
<text x="259.84" y="11.5" font-size="4.8" text-anchor="middle" fill="#444"  style="stroke-width:0.08px">***</text>
<rect x="255.64" y="127.9" width="4.0" height="1.3" fill="#111"/>
<rect x="261.49" y="96.95" width="1.1" height="0.9" fill="#222" fill-opacity="0.85"/>
<rect x="261.49" y="123.98" width="1.1" height="0.9" fill="#222" fill-opacity="0.85"/>
<rect x="261.49" y="122.29" width="1.1" height="0.9" fill="#222" fill-opacity="0.85"/>
<rect x="261.49" y="121.09" width="1.1" height="0.9" fill="#222" fill-opacity="0.85"/>
<rect x="261.49" y="122.93" width="1.1" height="0.9" fill="#222" fill-opacity="0.85"/>
<rect x="261.49" y="104.86" width="1.1" height="0.9" fill="#222" fill-opacity="0.85"/>
<rect x="261.49" y="118.22" width="1.1" height="0.9" fill="#222" fill-opacity="0.85"/>
<rect x="261.49" y="124.99" width="1.1" height="0.9" fill="#222" fill-opacity="0.85"/>
<rect x="261.49" y="99.67" width="1.1" height="0.9" fill="#222" fill-opacity="0.85"/>
<rect x="261.49" y="114.34" width="1.1" height="0.9" fill="#222" fill-opacity="0.85"/>
<rect x="260.04" y="127.9" width="4.0" height="1.3" fill="#111"/>
<line x1="269.56" y1="134.2" x2="269.56" y2="135.9" stroke="#222" stroke-width="0.5" />
<text transform="translate(271.16,137.5) rotate(-45)" font-size="4.3" text-anchor="end" fill="#222">READ</text>
<text x="269.56" y="11.5" font-size="4.8" text-anchor="middle" fill="#444"  style="stroke-width:0.08px">***</text>
<rect x="265.36" y="127.9" width="4.0" height="1.3" fill="#111"/>
<rect x="271.21" y="34.95" width="1.1" height="0.9" fill="#222" fill-opacity="0.85"/>
<rect x="271.21" y="110.66" width="1.1" height="0.9" fill="#222" fill-opacity="0.85"/>
<rect x="271.21" y="99.13" width="1.1" height="0.9" fill="#222" fill-opacity="0.85"/>
<rect x="271.21" y="47.39" width="1.1" height="0.9" fill="#222" fill-opacity="0.85"/>
<rect x="271.21" y="73.47" width="1.1" height="0.9" fill="#222" fill-opacity="0.85"/>
<rect x="271.21" y="92.46" width="1.1" height="0.9" fill="#222" fill-opacity="0.85"/>
<rect x="271.21" y="71.38" width="1.1" height="0.9" fill="#222" fill-opacity="0.85"/>
<rect x="271.21" y="110.24" width="1.1" height="0.9" fill="#222" fill-opacity="0.85"/>
<rect x="271.21" y="107.73" width="1.1" height="0.9" fill="#222" fill-opacity="0.85"/>
<rect x="271.21" y="115.7" width="1.1" height="0.9" fill="#222" fill-opacity="0.85"/>
<rect x="271.21" y="76.88" width="1.1" height="0.9" fill="#222" fill-opacity="0.85"/>
<rect x="271.21" y="69.42" width="1.1" height="0.9" fill="#222" fill-opacity="0.85"/>
<rect x="271.21" y="72.36" width="1.1" height="0.9" fill="#222" fill-opacity="0.85"/>
<rect x="271.21" y="115.46" width="1.1" height="0.9" fill="#222" fill-opacity="0.85"/>
<rect x="271.21" y="65.01" width="1.1" height="0.9" fill="#222" fill-opacity="0.85"/>
<rect x="271.21" y="53.27" width="1.1" height="0.9" fill="#222" fill-opacity="0.85"/>
<rect x="271.21" y="47.14" width="1.1" height="0.9" fill="#222" fill-opacity="0.85"/>
<rect x="271.21" y="109.3" width="1.1" height="0.9" fill="#222" fill-opacity="0.85"/>
<rect x="271.21" y="115.17" width="1.1" height="0.9" fill="#222" fill-opacity="0.85"/>
<rect x="271.21" y="105.49" width="1.1" height="0.9" fill="#222" fill-opacity="0.85"/>
<rect x="271.21" y="117.44" width="1.1" height="0.9" fill="#222" fill-opacity="0.85"/>
<rect x="271.21" y="101.88" width="1.1" height="0.9" fill="#222" fill-opacity="0.85"/>
<rect x="271.21" y="99.93" width="1.1" height="0.9" fill="#222" fill-opacity="0.85"/>
<rect x="271.21" y="116.27" width="1.1" height="0.9" fill="#222" fill-opacity="0.85"/>
<rect x="271.21" y="116.46" width="1.1" height="0.9" fill="#222" fill-opacity="0.85"/>
<rect x="271.21" y="117.29" width="1.1" height="0.9" fill="#222" fill-opacity="0.85"/>
<line x1="271.76" y1="118" x2="271.76" y2="124.6" stroke="#333" stroke-width="0.5" />
<rect x="269.76" y="124.6" width="4.0" height="3.4" fill="#E64B35" stroke="#222" stroke-width="0.45"/>
<line x1="269.76" y1="127" x2="273.76" y2="127" stroke="#111" stroke-width="0.8" />
<line x1="279.28" y1="134.2" x2="279.28" y2="135.9" stroke="#222" stroke-width="0.5" />
<text transform="translate(280.88,137.5) rotate(-45)" font-size="4.3" text-anchor="end" fill="#222">SARC</text>
<rect x="275.08" y="127.9" width="4.0" height="1.3" fill="#111"/>
<rect x="280.93" y="54.55" width="1.1" height="0.9" fill="#222" fill-opacity="0.85"/>
<rect x="280.93" y="108.73" width="1.1" height="0.9" fill="#222" fill-opacity="0.85"/>
<rect x="280.93" y="95.55" width="1.1" height="0.9" fill="#222" fill-opacity="0.85"/>
<rect x="280.93" y="115.3" width="1.1" height="0.9" fill="#222" fill-opacity="0.85"/>
<rect x="280.93" y="107.51" width="1.1" height="0.9" fill="#222" fill-opacity="0.85"/>
<rect x="280.93" y="94.52" width="1.1" height="0.9" fill="#222" fill-opacity="0.85"/>
<rect x="280.93" y="88.39" width="1.1" height="0.9" fill="#222" fill-opacity="0.85"/>
<rect x="280.93" y="91.39" width="1.1" height="0.9" fill="#222" fill-opacity="0.85"/>
<rect x="280.93" y="123.44" width="1.1" height="0.9" fill="#222" fill-opacity="0.85"/>
<rect x="280.93" y="120.9" width="1.1" height="0.9" fill="#222" fill-opacity="0.85"/>
<rect x="280.93" y="109.16" width="1.1" height="0.9" fill="#222" fill-opacity="0.85"/>
<rect x="280.93" y="120.94" width="1.1" height="0.9" fill="#222" fill-opacity="0.85"/>
<rect x="280.93" y="100.21" width="1.1" height="0.9" fill="#222" fill-opacity="0.85"/>
<rect x="280.93" y="84.34" width="1.1" height="0.9" fill="#222" fill-opacity="0.85"/>
<rect x="280.93" y="123.48" width="1.1" height="0.9" fill="#222" fill-opacity="0.85"/>
<rect x="280.93" y="108.56" width="1.1" height="0.9" fill="#222" fill-opacity="0.85"/>
<rect x="280.93" y="111.59" width="1.1" height="0.9" fill="#222" fill-opacity="0.85"/>
<rect x="280.93" y="126.49" width="1.1" height="0.9" fill="#222" fill-opacity="0.85"/>
<rect x="280.93" y="120.6" width="1.1" height="0.9" fill="#222" fill-opacity="0.85"/>
<rect x="280.93" y="64.82" width="1.1" height="0.9" fill="#222" fill-opacity="0.85"/>
<rect x="280.93" y="114.21" width="1.1" height="0.9" fill="#222" fill-opacity="0.85"/>
<rect x="280.93" y="79.51" width="1.1" height="0.9" fill="#222" fill-opacity="0.85"/>
<rect x="280.93" y="99.03" width="1.1" height="0.9" fill="#222" fill-opacity="0.85"/>
<rect x="280.93" y="84.51" width="1.1" height="0.9" fill="#222" fill-opacity="0.85"/>
<rect x="280.93" y="95.09" width="1.1" height="0.9" fill="#222" fill-opacity="0.85"/>
<rect x="280.93" y="82.42" width="1.1" height="0.9" fill="#222" fill-opacity="0.85"/>
<rect x="280.93" y="124.37" width="1.1" height="0.9" fill="#222" fill-opacity="0.85"/>
<rect x="280.93" y="108.63" width="1.1" height="0.9" fill="#222" fill-opacity="0.85"/>
<rect x="279.48" y="127.9" width="4.0" height="1.3" fill="#111"/>
<line x1="289" y1="134.2" x2="289" y2="135.9" stroke="#222" stroke-width="0.5" />
<text transform="translate(290.6,137.5) rotate(-45)" font-size="4.3" text-anchor="end" fill="#222">SKCM</text>
<text x="289" y="11.5" font-size="4.8" text-anchor="middle" fill="#444"  style="stroke-width:0.08px">***</text>
<rect x="286.25" y="98.55" width="1.1" height="0.9" fill="#222" fill-opacity="0.85"/>
<rect x="286.25" y="122.27" width="1.1" height="0.9" fill="#222" fill-opacity="0.85"/>
<rect x="286.25" y="116.9" width="1.1" height="0.9" fill="#222" fill-opacity="0.85"/>
<rect x="286.25" y="115.7" width="1.1" height="0.9" fill="#222" fill-opacity="0.85"/>
<rect x="286.25" y="116.11" width="1.1" height="0.9" fill="#222" fill-opacity="0.85"/>
<rect x="286.25" y="124.31" width="1.1" height="0.9" fill="#222" fill-opacity="0.85"/>
<rect x="286.25" y="121.74" width="1.1" height="0.9" fill="#222" fill-opacity="0.85"/>
<rect x="286.25" y="105.55" width="1.1" height="0.9" fill="#222" fill-opacity="0.85"/>
<rect x="286.25" y="124.31" width="1.1" height="0.9" fill="#222" fill-opacity="0.85"/>
<rect x="286.25" y="123.27" width="1.1" height="0.9" fill="#222" fill-opacity="0.85"/>
<rect x="286.25" y="122.36" width="1.1" height="0.9" fill="#222" fill-opacity="0.85"/>
<rect x="286.25" y="124.49" width="1.1" height="0.9" fill="#222" fill-opacity="0.85"/>
<rect x="286.25" y="124.21" width="1.1" height="0.9" fill="#222" fill-opacity="0.85"/>
<rect x="286.25" y="116.36" width="1.1" height="0.9" fill="#222" fill-opacity="0.85"/>
<rect x="284.8" y="126.2" width="4.0" height="2" fill="#4DBBD5" stroke="#222" stroke-width="0.45"/>
<line x1="284.8" y1="127.5" x2="288.8" y2="127.5" stroke="#111" stroke-width="0.8" />
<rect x="290.65" y="29.55" width="1.1" height="0.9" fill="#222" fill-opacity="0.85"/>
<rect x="290.65" y="95.39" width="1.1" height="0.9" fill="#222" fill-opacity="0.85"/>
<rect x="290.65" y="104.99" width="1.1" height="0.9" fill="#222" fill-opacity="0.85"/>
<rect x="290.65" y="59.94" width="1.1" height="0.9" fill="#222" fill-opacity="0.85"/>
<rect x="290.65" y="40.12" width="1.1" height="0.9" fill="#222" fill-opacity="0.85"/>
<rect x="290.65" y="106.09" width="1.1" height="0.9" fill="#222" fill-opacity="0.85"/>
<rect x="290.65" y="52.8" width="1.1" height="0.9" fill="#222" fill-opacity="0.85"/>
<rect x="290.65" y="94.92" width="1.1" height="0.9" fill="#222" fill-opacity="0.85"/>
<rect x="290.65" y="107.78" width="1.1" height="0.9" fill="#222" fill-opacity="0.85"/>
<rect x="290.65" y="115.18" width="1.1" height="0.9" fill="#222" fill-opacity="0.85"/>
<rect x="290.65" y="109.57" width="1.1" height="0.9" fill="#222" fill-opacity="0.85"/>
<rect x="290.65" y="47.31" width="1.1" height="0.9" fill="#222" fill-opacity="0.85"/>
<rect x="290.65" y="112.03" width="1.1" height="0.9" fill="#222" fill-opacity="0.85"/>
<rect x="290.65" y="94.49" width="1.1" height="0.9" fill="#222" fill-opacity="0.85"/>
<rect x="290.65" y="115.64" width="1.1" height="0.9" fill="#222" fill-opacity="0.85"/>
<rect x="290.65" y="91.04" width="1.1" height="0.9" fill="#222" fill-opacity="0.85"/>
<rect x="290.65" y="117.09" width="1.1" height="0.9" fill="#222" fill-opacity="0.85"/>
<rect x="290.65" y="112.66" width="1.1" height="0.9" fill="#222" fill-opacity="0.85"/>
<rect x="290.65" y="63.51" width="1.1" height="0.9" fill="#222" fill-opacity="0.85"/>
<rect x="290.65" y="106.69" width="1.1" height="0.9" fill="#222" fill-opacity="0.85"/>
<rect x="290.65" y="38.36" width="1.1" height="0.9" fill="#222" fill-opacity="0.85"/>
<rect x="290.65" y="105.41" width="1.1" height="0.9" fill="#222" fill-opacity="0.85"/>
<rect x="290.65" y="106.82" width="1.1" height="0.9" fill="#222" fill-opacity="0.85"/>
<rect x="290.65" y="107.7" width="1.1" height="0.9" fill="#222" fill-opacity="0.85"/>
<rect x="290.65" y="108.82" width="1.1" height="0.9" fill="#222" fill-opacity="0.85"/>
<rect x="290.65" y="75.58" width="1.1" height="0.9" fill="#222" fill-opacity="0.85"/>
<rect x="290.65" y="41.8" width="1.1" height="0.9" fill="#222" fill-opacity="0.85"/>
<rect x="290.65" y="116.21" width="1.1" height="0.9" fill="#222" fill-opacity="0.85"/>
<rect x="290.65" y="31.8" width="1.1" height="0.9" fill="#222" fill-opacity="0.85"/>
<rect x="290.65" y="81.8" width="1.1" height="0.9" fill="#222" fill-opacity="0.85"/>
<rect x="290.65" y="94.52" width="1.1" height="0.9" fill="#222" fill-opacity="0.85"/>
<rect x="290.65" y="106.88" width="1.1" height="0.9" fill="#222" fill-opacity="0.85"/>
<rect x="290.65" y="81.34" width="1.1" height="0.9" fill="#222" fill-opacity="0.85"/>
<rect x="290.65" y="31.41" width="1.1" height="0.9" fill="#222" fill-opacity="0.85"/>
<rect x="290.65" y="68.91" width="1.1" height="0.9" fill="#222" fill-opacity="0.85"/>
<rect x="290.65" y="109.63" width="1.1" height="0.9" fill="#222" fill-opacity="0.85"/>
<rect x="290.65" y="112.17" width="1.1" height="0.9" fill="#222" fill-opacity="0.85"/>
<rect x="290.65" y="110.4" width="1.1" height="0.9" fill="#222" fill-opacity="0.85"/>
<rect x="290.65" y="116.3" width="1.1" height="0.9" fill="#222" fill-opacity="0.85"/>
<rect x="290.65" y="50.74" width="1.1" height="0.9" fill="#222" fill-opacity="0.85"/>
<rect x="290.65" y="66.79" width="1.1" height="0.9" fill="#222" fill-opacity="0.85"/>
<rect x="290.65" y="111.72" width="1.1" height="0.9" fill="#222" fill-opacity="0.85"/>
<rect x="290.65" y="63.01" width="1.1" height="0.9" fill="#222" fill-opacity="0.85"/>
<rect x="290.65" y="117.54" width="1.1" height="0.9" fill="#222" fill-opacity="0.85"/>
<rect x="290.65" y="112.02" width="1.1" height="0.9" fill="#222" fill-opacity="0.85"/>
<rect x="290.65" y="87.46" width="1.1" height="0.9" fill="#222" fill-opacity="0.85"/>
<rect x="290.65" y="64.72" width="1.1" height="0.9" fill="#222" fill-opacity="0.85"/>
<rect x="290.65" y="109.13" width="1.1" height="0.9" fill="#222" fill-opacity="0.85"/>
<rect x="290.65" y="63.61" width="1.1" height="0.9" fill="#222" fill-opacity="0.85"/>
<rect x="290.65" y="57.52" width="1.1" height="0.9" fill="#222" fill-opacity="0.85"/>
<rect x="290.65" y="100.95" width="1.1" height="0.9" fill="#222" fill-opacity="0.85"/>
<rect x="290.65" y="30.83" width="1.1" height="0.9" fill="#222" fill-opacity="0.85"/>
<rect x="290.65" y="51.62" width="1.1" height="0.9" fill="#222" fill-opacity="0.85"/>
<rect x="290.65" y="76.53" width="1.1" height="0.9" fill="#222" fill-opacity="0.85"/>
<rect x="290.65" y="109.58" width="1.1" height="0.9" fill="#222" fill-opacity="0.85"/>
<rect x="290.65" y="75.12" width="1.1" height="0.9" fill="#222" fill-opacity="0.85"/>
<rect x="290.65" y="114.1" width="1.1" height="0.9" fill="#222" fill-opacity="0.85"/>
<rect x="290.65" y="66.39" width="1.1" height="0.9" fill="#222" fill-opacity="0.85"/>
<rect x="290.65" y="111.21" width="1.1" height="0.9" fill="#222" fill-opacity="0.85"/>
<rect x="290.65" y="65.64" width="1.1" height="0.9" fill="#222" fill-opacity="0.85"/>
<rect x="290.65" y="71.73" width="1.1" height="0.9" fill="#222" fill-opacity="0.85"/>
<rect x="290.65" y="80.66" width="1.1" height="0.9" fill="#222" fill-opacity="0.85"/>
<rect x="290.65" y="64.97" width="1.1" height="0.9" fill="#222" fill-opacity="0.85"/>
<rect x="290.65" y="72.14" width="1.1" height="0.9" fill="#222" fill-opacity="0.85"/>
<rect x="290.65" y="63.19" width="1.1" height="0.9" fill="#222" fill-opacity="0.85"/>
<rect x="290.65" y="117.49" width="1.1" height="0.9" fill="#222" fill-opacity="0.85"/>
<rect x="290.65" y="70.39" width="1.1" height="0.9" fill="#222" fill-opacity="0.85"/>
<rect x="290.65" y="48.39" width="1.1" height="0.9" fill="#222" fill-opacity="0.85"/>
<rect x="290.65" y="89.91" width="1.1" height="0.9" fill="#222" fill-opacity="0.85"/>
<rect x="290.65" y="116.28" width="1.1" height="0.9" fill="#222" fill-opacity="0.85"/>
<rect x="290.65" y="39.29" width="1.1" height="0.9" fill="#222" fill-opacity="0.85"/>
<rect x="290.65" y="69.76" width="1.1" height="0.9" fill="#222" fill-opacity="0.85"/>
<rect x="290.65" y="41.94" width="1.1" height="0.9" fill="#222" fill-opacity="0.85"/>
<rect x="290.65" y="39.43" width="1.1" height="0.9" fill="#222" fill-opacity="0.85"/>
<rect x="290.65" y="62.44" width="1.1" height="0.9" fill="#222" fill-opacity="0.85"/>
<rect x="290.65" y="65.74" width="1.1" height="0.9" fill="#222" fill-opacity="0.85"/>
<rect x="290.65" y="58.03" width="1.1" height="0.9" fill="#222" fill-opacity="0.85"/>
<rect x="290.65" y="94" width="1.1" height="0.9" fill="#222" fill-opacity="0.85"/>
<rect x="290.65" y="116.47" width="1.1" height="0.9" fill="#222" fill-opacity="0.85"/>
<rect x="290.65" y="72.69" width="1.1" height="0.9" fill="#222" fill-opacity="0.85"/>
<line x1="291.2" y1="105" x2="291.2" y2="120" stroke="#333" stroke-width="0.5" />
<rect x="289.2" y="120" width="4.0" height="8" fill="#E64B35" stroke="#222" stroke-width="0.45"/>
<line x1="289.2" y1="127" x2="293.2" y2="127" stroke="#111" stroke-width="0.8" />
<line x1="298.72" y1="134.2" x2="298.72" y2="135.9" stroke="#222" stroke-width="0.5" />
<text transform="translate(300.32,137.5) rotate(-45)" font-size="4.3" text-anchor="end" fill="#222">STAD</text>
<text x="298.72" y="11.5" font-size="4.8" text-anchor="middle" fill="#444"  style="stroke-width:0.08px">***</text>
<rect x="295.97" y="119.55" width="1.1" height="0.9" fill="#222" fill-opacity="0.85"/>
<rect x="295.97" y="122.73" width="1.1" height="0.9" fill="#222" fill-opacity="0.85"/>
<rect x="295.97" y="125.01" width="1.1" height="0.9" fill="#222" fill-opacity="0.85"/>
<rect x="294.52" y="127.9" width="4.0" height="1.3" fill="#111"/>
<rect x="300.37" y="50.35" width="1.1" height="0.9" fill="#222" fill-opacity="0.85"/>
<rect x="300.37" y="51.73" width="1.1" height="0.9" fill="#222" fill-opacity="0.85"/>
<rect x="300.37" y="102.93" width="1.1" height="0.9" fill="#222" fill-opacity="0.85"/>
<rect x="300.37" y="69.47" width="1.1" height="0.9" fill="#222" fill-opacity="0.85"/>
<rect x="300.37" y="118.47" width="1.1" height="0.9" fill="#222" fill-opacity="0.85"/>
<rect x="300.37" y="85.78" width="1.1" height="0.9" fill="#222" fill-opacity="0.85"/>
<rect x="300.37" y="81.9" width="1.1" height="0.9" fill="#222" fill-opacity="0.85"/>
<rect x="300.37" y="62.7" width="1.1" height="0.9" fill="#222" fill-opacity="0.85"/>
<rect x="300.37" y="88.11" width="1.1" height="0.9" fill="#222" fill-opacity="0.85"/>
<rect x="300.37" y="90.98" width="1.1" height="0.9" fill="#222" fill-opacity="0.85"/>
<rect x="300.37" y="92.31" width="1.1" height="0.9" fill="#222" fill-opacity="0.85"/>
<rect x="300.37" y="82.85" width="1.1" height="0.9" fill="#222" fill-opacity="0.85"/>
<rect x="300.37" y="117.72" width="1.1" height="0.9" fill="#222" fill-opacity="0.85"/>
<rect x="300.37" y="77.69" width="1.1" height="0.9" fill="#222" fill-opacity="0.85"/>
<rect x="300.37" y="113.22" width="1.1" height="0.9" fill="#222" fill-opacity="0.85"/>
<rect x="300.37" y="66.61" width="1.1" height="0.9" fill="#222" fill-opacity="0.85"/>
<rect x="300.37" y="117.15" width="1.1" height="0.9" fill="#222" fill-opacity="0.85"/>
<rect x="300.37" y="87.61" width="1.1" height="0.9" fill="#222" fill-opacity="0.85"/>
<rect x="300.37" y="52.61" width="1.1" height="0.9" fill="#222" fill-opacity="0.85"/>
<rect x="300.37" y="103.42" width="1.1" height="0.9" fill="#222" fill-opacity="0.85"/>
<rect x="300.37" y="107.66" width="1.1" height="0.9" fill="#222" fill-opacity="0.85"/>
<rect x="300.37" y="114.35" width="1.1" height="0.9" fill="#222" fill-opacity="0.85"/>
<rect x="300.37" y="86.42" width="1.1" height="0.9" fill="#222" fill-opacity="0.85"/>
<rect x="300.37" y="89.89" width="1.1" height="0.9" fill="#222" fill-opacity="0.85"/>
<rect x="300.37" y="96.27" width="1.1" height="0.9" fill="#222" fill-opacity="0.85"/>
<rect x="300.37" y="92.94" width="1.1" height="0.9" fill="#222" fill-opacity="0.85"/>
<rect x="300.37" y="88.19" width="1.1" height="0.9" fill="#222" fill-opacity="0.85"/>
<rect x="300.37" y="107.18" width="1.1" height="0.9" fill="#222" fill-opacity="0.85"/>
<rect x="300.37" y="107.79" width="1.1" height="0.9" fill="#222" fill-opacity="0.85"/>
<rect x="300.37" y="113.53" width="1.1" height="0.9" fill="#222" fill-opacity="0.85"/>
<rect x="300.37" y="57.8" width="1.1" height="0.9" fill="#222" fill-opacity="0.85"/>
<rect x="300.37" y="114.53" width="1.1" height="0.9" fill="#222" fill-opacity="0.85"/>
<rect x="300.37" y="107.6" width="1.1" height="0.9" fill="#222" fill-opacity="0.85"/>
<rect x="300.37" y="54.54" width="1.1" height="0.9" fill="#222" fill-opacity="0.85"/>
<rect x="300.37" y="59.2" width="1.1" height="0.9" fill="#222" fill-opacity="0.85"/>
<rect x="300.37" y="64.27" width="1.1" height="0.9" fill="#222" fill-opacity="0.85"/>
<rect x="300.37" y="62.56" width="1.1" height="0.9" fill="#222" fill-opacity="0.85"/>
<rect x="300.37" y="108.2" width="1.1" height="0.9" fill="#222" fill-opacity="0.85"/>
<rect x="300.37" y="90.07" width="1.1" height="0.9" fill="#222" fill-opacity="0.85"/>
<rect x="300.37" y="87.93" width="1.1" height="0.9" fill="#222" fill-opacity="0.85"/>
<rect x="300.37" y="106.38" width="1.1" height="0.9" fill="#222" fill-opacity="0.85"/>
<rect x="300.37" y="52.88" width="1.1" height="0.9" fill="#222" fill-opacity="0.85"/>
<rect x="300.37" y="65.04" width="1.1" height="0.9" fill="#222" fill-opacity="0.85"/>
<rect x="300.37" y="83.84" width="1.1" height="0.9" fill="#222" fill-opacity="0.85"/>
<rect x="300.37" y="97.64" width="1.1" height="0.9" fill="#222" fill-opacity="0.85"/>
<rect x="300.37" y="119.34" width="1.1" height="0.9" fill="#222" fill-opacity="0.85"/>
<rect x="300.37" y="62.47" width="1.1" height="0.9" fill="#222" fill-opacity="0.85"/>
<rect x="300.37" y="55.99" width="1.1" height="0.9" fill="#222" fill-opacity="0.85"/>
<rect x="300.37" y="93.09" width="1.1" height="0.9" fill="#222" fill-opacity="0.85"/>
<rect x="300.37" y="59.54" width="1.1" height="0.9" fill="#222" fill-opacity="0.85"/>
<line x1="300.92" y1="116" x2="300.92" y2="124" stroke="#333" stroke-width="0.5" />
<rect x="298.92" y="124" width="4.0" height="4" fill="#E64B35" stroke="#222" stroke-width="0.45"/>
<line x1="298.92" y1="127" x2="302.92" y2="127" stroke="#111" stroke-width="0.8" />
<line x1="308.44" y1="134.2" x2="308.44" y2="135.9" stroke="#222" stroke-width="0.5" />
<text transform="translate(310.04,137.5) rotate(-45)" font-size="4.3" text-anchor="end" fill="#222">TGCT</text>
<text x="308.44" y="11.5" font-size="4.8" text-anchor="middle" fill="#444"  style="stroke-width:0.08px">***</text>
<line x1="306.24" y1="58.5" x2="306.24" y2="74" stroke="#333" stroke-width="0.5" />
<line x1="306.24" y1="84.7" x2="306.24" y2="97" stroke="#333" stroke-width="0.5" />
<rect x="304.24" y="74" width="4.0" height="10.7" fill="#4DBBD5" stroke="#222" stroke-width="0.45"/>
<line x1="304.24" y1="79.5" x2="308.24" y2="79.5" stroke="#111" stroke-width="0.8" />
<rect x="310.09" y="96.55" width="1.1" height="0.9" fill="#222" fill-opacity="0.85"/>
<rect x="310.09" y="105.52" width="1.1" height="0.9" fill="#222" fill-opacity="0.85"/>
<rect x="310.09" y="99.45" width="1.1" height="0.9" fill="#222" fill-opacity="0.85"/>
<rect x="310.09" y="100.2" width="1.1" height="0.9" fill="#222" fill-opacity="0.85"/>
<rect x="310.09" y="99.88" width="1.1" height="0.9" fill="#222" fill-opacity="0.85"/>
<rect x="310.09" y="101.38" width="1.1" height="0.9" fill="#222" fill-opacity="0.85"/>
<line x1="310.64" y1="106" x2="310.64" y2="117" stroke="#333" stroke-width="0.5" />
<rect x="308.64" y="117" width="4.0" height="8.6" fill="#E64B35" stroke="#222" stroke-width="0.45"/>
<line x1="308.64" y1="122.6" x2="312.64" y2="122.6" stroke="#111" stroke-width="0.8" />
<line x1="318.16" y1="134.2" x2="318.16" y2="135.9" stroke="#222" stroke-width="0.5" />
<text transform="translate(319.76,137.5) rotate(-45)" font-size="4.3" text-anchor="end" fill="#222">THCA</text>
<rect x="313.96" y="127.9" width="4.0" height="1.3" fill="#111"/>
<rect x="319.81" y="123.55" width="1.1" height="0.9" fill="#222" fill-opacity="0.85"/>
<rect x="319.81" y="125.52" width="1.1" height="0.9" fill="#222" fill-opacity="0.85"/>
<rect x="319.81" y="125.59" width="1.1" height="0.9" fill="#222" fill-opacity="0.85"/>
<rect x="318.36" y="127.9" width="4.0" height="1.3" fill="#111"/>
<line x1="327.88" y1="134.2" x2="327.88" y2="135.9" stroke="#222" stroke-width="0.5" />
<text transform="translate(329.48,137.5) rotate(-45)" font-size="4.3" text-anchor="end" fill="#222">THYM</text>
<rect x="323.68" y="127.9" width="4.0" height="1.3" fill="#111"/>
<rect x="329.53" y="111.55" width="1.1" height="0.9" fill="#222" fill-opacity="0.85"/>
<rect x="329.53" y="119.64" width="1.1" height="0.9" fill="#222" fill-opacity="0.85"/>
<rect x="329.53" y="125.78" width="1.1" height="0.9" fill="#222" fill-opacity="0.85"/>
<rect x="329.53" y="122.88" width="1.1" height="0.9" fill="#222" fill-opacity="0.85"/>
<rect x="329.53" y="118.44" width="1.1" height="0.9" fill="#222" fill-opacity="0.85"/>
<rect x="329.53" y="126.1" width="1.1" height="0.9" fill="#222" fill-opacity="0.85"/>
<rect x="329.53" y="116.08" width="1.1" height="0.9" fill="#222" fill-opacity="0.85"/>
<rect x="329.53" y="120.7" width="1.1" height="0.9" fill="#222" fill-opacity="0.85"/>
<rect x="329.53" y="119.69" width="1.1" height="0.9" fill="#222" fill-opacity="0.85"/>
<rect x="328.08" y="127.9" width="4.0" height="1.3" fill="#111"/>
<line x1="337.6" y1="134.2" x2="337.6" y2="135.9" stroke="#222" stroke-width="0.5" />
<text transform="translate(339.2,137.5) rotate(-45)" font-size="4.3" text-anchor="end" fill="#222">UCEC</text>
<text x="337.6" y="11.5" font-size="4.8" text-anchor="middle" fill="#444"  style="stroke-width:0.08px">***</text>
<rect x="333.4" y="127.9" width="4.0" height="1.3" fill="#111"/>
<rect x="339.25" y="36.45" width="1.1" height="0.9" fill="#222" fill-opacity="0.85"/>
<rect x="339.25" y="97.99" width="1.1" height="0.9" fill="#222" fill-opacity="0.85"/>
<rect x="339.25" y="99.35" width="1.1" height="0.9" fill="#222" fill-opacity="0.85"/>
<rect x="339.25" y="85.92" width="1.1" height="0.9" fill="#222" fill-opacity="0.85"/>
<rect x="339.25" y="66.04" width="1.1" height="0.9" fill="#222" fill-opacity="0.85"/>
<rect x="339.25" y="53.79" width="1.1" height="0.9" fill="#222" fill-opacity="0.85"/>
<rect x="339.25" y="89.99" width="1.1" height="0.9" fill="#222" fill-opacity="0.85"/>
<rect x="339.25" y="55" width="1.1" height="0.9" fill="#222" fill-opacity="0.85"/>
<rect x="339.25" y="109.19" width="1.1" height="0.9" fill="#222" fill-opacity="0.85"/>
<rect x="339.25" y="49.97" width="1.1" height="0.9" fill="#222" fill-opacity="0.85"/>
<rect x="339.25" y="94.85" width="1.1" height="0.9" fill="#222" fill-opacity="0.85"/>
<rect x="339.25" y="38.91" width="1.1" height="0.9" fill="#222" fill-opacity="0.85"/>
<rect x="339.25" y="71.58" width="1.1" height="0.9" fill="#222" fill-opacity="0.85"/>
<rect x="339.25" y="111.53" width="1.1" height="0.9" fill="#222" fill-opacity="0.85"/>
<rect x="339.25" y="110.21" width="1.1" height="0.9" fill="#222" fill-opacity="0.85"/>
<rect x="339.25" y="102.44" width="1.1" height="0.9" fill="#222" fill-opacity="0.85"/>
<rect x="339.25" y="59.52" width="1.1" height="0.9" fill="#222" fill-opacity="0.85"/>
<rect x="339.25" y="108.23" width="1.1" height="0.9" fill="#222" fill-opacity="0.85"/>
<rect x="339.25" y="106.2" width="1.1" height="0.9" fill="#222" fill-opacity="0.85"/>
<rect x="339.25" y="101.99" width="1.1" height="0.9" fill="#222" fill-opacity="0.85"/>
<rect x="339.25" y="104.2" width="1.1" height="0.9" fill="#222" fill-opacity="0.85"/>
<rect x="339.25" y="85.07" width="1.1" height="0.9" fill="#222" fill-opacity="0.85"/>
<rect x="339.25" y="38.18" width="1.1" height="0.9" fill="#222" fill-opacity="0.85"/>
<rect x="339.25" y="73.57" width="1.1" height="0.9" fill="#222" fill-opacity="0.85"/>
<rect x="339.25" y="94.88" width="1.1" height="0.9" fill="#222" fill-opacity="0.85"/>
<rect x="339.25" y="52.85" width="1.1" height="0.9" fill="#222" fill-opacity="0.85"/>
<rect x="339.25" y="79.28" width="1.1" height="0.9" fill="#222" fill-opacity="0.85"/>
<rect x="339.25" y="54.61" width="1.1" height="0.9" fill="#222" fill-opacity="0.85"/>
<rect x="339.25" y="100.44" width="1.1" height="0.9" fill="#222" fill-opacity="0.85"/>
<rect x="339.25" y="63.98" width="1.1" height="0.9" fill="#222" fill-opacity="0.85"/>
<rect x="339.25" y="60.37" width="1.1" height="0.9" fill="#222" fill-opacity="0.85"/>
<rect x="339.25" y="49.81" width="1.1" height="0.9" fill="#222" fill-opacity="0.85"/>
<rect x="339.25" y="68.37" width="1.1" height="0.9" fill="#222" fill-opacity="0.85"/>
<rect x="339.25" y="86.24" width="1.1" height="0.9" fill="#222" fill-opacity="0.85"/>
<rect x="339.25" y="38.12" width="1.1" height="0.9" fill="#222" fill-opacity="0.85"/>
<rect x="339.25" y="97.4" width="1.1" height="0.9" fill="#222" fill-opacity="0.85"/>
<rect x="339.25" y="101.06" width="1.1" height="0.9" fill="#222" fill-opacity="0.85"/>
<rect x="339.25" y="73.81" width="1.1" height="0.9" fill="#222" fill-opacity="0.85"/>
<rect x="339.25" y="109.17" width="1.1" height="0.9" fill="#222" fill-opacity="0.85"/>
<rect x="339.25" y="107.88" width="1.1" height="0.9" fill="#222" fill-opacity="0.85"/>
<rect x="339.25" y="64.73" width="1.1" height="0.9" fill="#222" fill-opacity="0.85"/>
<rect x="339.25" y="103.93" width="1.1" height="0.9" fill="#222" fill-opacity="0.85"/>
<line x1="339.8" y1="112" x2="339.8" y2="121.6" stroke="#333" stroke-width="0.5" />
<rect x="337.8" y="121.6" width="4.0" height="7.4" fill="#E64B35" stroke="#222" stroke-width="0.45"/>
<line x1="337.8" y1="127.5" x2="341.8" y2="127.5" stroke="#111" stroke-width="0.8" />
<line x1="347.32" y1="134.2" x2="347.32" y2="135.9" stroke="#222" stroke-width="0.5" />
<text transform="translate(348.92,137.5) rotate(-45)" font-size="4.3" text-anchor="end" fill="#222">UCS</text>
<text x="347.32" y="11.5" font-size="4.8" text-anchor="middle" fill="#444"  style="stroke-width:0.08px">***</text>
<rect x="343.12" y="127.9" width="4.0" height="1.3" fill="#111"/>
<rect x="348.97" y="25.35" width="1.1" height="0.9" fill="#222" fill-opacity="0.85"/>
<rect x="348.97" y="53.34" width="1.1" height="0.9" fill="#222" fill-opacity="0.85"/>
<rect x="348.97" y="46.44" width="1.1" height="0.9" fill="#222" fill-opacity="0.85"/>
<rect x="348.97" y="38.54" width="1.1" height="0.9" fill="#222" fill-opacity="0.85"/>
<rect x="348.97" y="59.38" width="1.1" height="0.9" fill="#222" fill-opacity="0.85"/>
<rect x="348.97" y="46.68" width="1.1" height="0.9" fill="#222" fill-opacity="0.85"/>
<line x1="349.52" y1="66" x2="349.52" y2="100" stroke="#333" stroke-width="0.5" />
<rect x="347.52" y="100" width="4.0" height="29" fill="#E64B35" stroke="#222" stroke-width="0.45"/>
<line x1="347.52" y1="127.5" x2="351.52" y2="127.5" stroke="#111" stroke-width="0.8" />
<line x1="357.04" y1="134.2" x2="357.04" y2="135.9" stroke="#222" stroke-width="0.5" />
<text transform="translate(358.64,137.5) rotate(-45)" font-size="4.3" text-anchor="end" fill="#222">UVM</text>
<rect x="352.84" y="127.9" width="4.0" height="1.3" fill="#111"/>
<rect x="358.69" y="125.55" width="1.1" height="0.9" fill="#222" fill-opacity="0.85"/>
<rect x="358.69" y="125.87" width="1.1" height="0.9" fill="#222" fill-opacity="0.85"/>
<rect x="357.24" y="127.9" width="4.0" height="1.3" fill="#111"/>
<line x1="366.7" y1="51.8" x2="366.7" y2="63.6" stroke="#222" stroke-width="0.4" />
<rect x="364.9" y="53.1" width="3.6" height="3.5" rx="0.5" fill="#2f8fae" stroke="#1a1a1a" stroke-width="0.45"/>
<line x1="364.9" y1="54.85" x2="368.5" y2="54.85" stroke="#111" stroke-width="0.5" />
<rect x="364.9" y="58.8" width="3.6" height="3.5" rx="0.5" fill="#b02a1e" stroke="#1a1a1a" stroke-width="0.45"/>
<line x1="364.9" y1="60.55" x2="368.5" y2="60.55" stroke="#111" stroke-width="0.5" />
<text x="373" y="56.3" font-size="3.6" text-anchor="start" fill="#444"  style="stroke-width:0.08px">Normal</text>
<text x="373" y="61.8" font-size="3.6" text-anchor="start" fill="#444"  style="stroke-width:0.08px">Tumor</text>
</g>
<text transform="translate(7.3,167.5) scale(1,1.1)" font-size="8" fill="#111">B</text>
<line x1="40.5" y1="157.7" x2="40.5" y2="322.7" stroke="#1a1a1a" stroke-width="1.0" />
<line x1="40" y1="322.7" x2="186" y2="322.7" stroke="#1a1a1a" stroke-width="1.0" />
<line x1="37.2" y1="315.1" x2="40.5" y2="315.1" stroke="#1a1a1a" stroke-width="0.9" />
<text transform="translate(33.4,318.5) scale(1,1.17)" font-size="8.2" text-anchor="end" fill="#1a1a1a" >0</text>
<line x1="37.2" y1="285" x2="40.5" y2="285" stroke="#1a1a1a" stroke-width="0.9" />
<text transform="translate(33.4,288.4) scale(1,1.17)" font-size="8.2" text-anchor="end" fill="#1a1a1a" >1</text>
<line x1="37.2" y1="254.9" x2="40.5" y2="254.9" stroke="#1a1a1a" stroke-width="0.9" />
<text transform="translate(33.4,258.3) scale(1,1.17)" font-size="8.2" text-anchor="end" fill="#1a1a1a" >2</text>
<line x1="37.2" y1="224.8" x2="40.5" y2="224.8" stroke="#1a1a1a" stroke-width="0.9" />
<text transform="translate(33.4,228.2) scale(1,1.17)" font-size="8.2" text-anchor="end" fill="#1a1a1a" >3</text>
<line x1="37.2" y1="194.7" x2="40.5" y2="194.7" stroke="#1a1a1a" stroke-width="0.9" />
<text transform="translate(33.4,198.1) scale(1,1.17)" font-size="8.2" text-anchor="end" fill="#1a1a1a" >4</text>
<line x1="37.2" y1="164.6" x2="40.5" y2="164.6" stroke="#1a1a1a" stroke-width="0.9" />
<text transform="translate(33.4,168) scale(1,1.17)" font-size="8.2" text-anchor="end" fill="#1a1a1a" >5</text>
<text transform="translate(13.4,239.8) rotate(-90)" font-size="9.2" text-anchor="middle" fill="#1a1a1a">The expression of MAGEA11</text>
<text transform="translate(21.5,240.3) rotate(-90)" font-size="9.2" text-anchor="middle" fill="#1a1a1a">Log<tspan font-size="7" dy="1.9">2</tspan><tspan dy="-1.9"> (TPM+1)</tspan></text>
<rect x="53.8" y="314.2" width="53.2" height="1.8" fill="#111"/>
<circle cx="80.3" cy="308.7" r="0.65" fill="#444"/>
<line x1="146.6" y1="285" x2="146.6" y2="306.4" stroke="#222" stroke-width="0.65" />
<circle cx="146.6" cy="168" r="0.9" fill="#222" fill-opacity="0.85"/>
<circle cx="146.6" cy="230.31" r="0.9" fill="#222" fill-opacity="0.85"/>
<circle cx="146.6" cy="251.24" r="0.9" fill="#222" fill-opacity="0.85"/>
<circle cx="146.6" cy="222.71" r="0.9" fill="#222" fill-opacity="0.85"/>
<circle cx="146.6" cy="219.89" r="0.9" fill="#222" fill-opacity="0.85"/>
<circle cx="146.6" cy="281.12" r="0.9" fill="#222" fill-opacity="0.85"/>
<circle cx="146.6" cy="284.48" r="0.9" fill="#222" fill-opacity="0.85"/>
<circle cx="146.6" cy="191.27" r="0.9" fill="#222" fill-opacity="0.85"/>
<circle cx="146.6" cy="263.35" r="0.9" fill="#222" fill-opacity="0.85"/>
<circle cx="146.6" cy="265.92" r="0.9" fill="#222" fill-opacity="0.85"/>
<circle cx="146.6" cy="168.64" r="0.9" fill="#222" fill-opacity="0.85"/>
<circle cx="146.6" cy="239.44" r="0.9" fill="#222" fill-opacity="0.85"/>
<circle cx="146.6" cy="191.41" r="0.9" fill="#222" fill-opacity="0.85"/>
<circle cx="146.6" cy="238.7" r="0.9" fill="#222" fill-opacity="0.85"/>
<circle cx="146.6" cy="218.15" r="0.9" fill="#222" fill-opacity="0.85"/>
<circle cx="146.6" cy="274.02" r="0.9" fill="#222" fill-opacity="0.85"/>
<circle cx="146.6" cy="218.7" r="0.9" fill="#222" fill-opacity="0.85"/>
<circle cx="146.6" cy="186.97" r="0.9" fill="#222" fill-opacity="0.85"/>
<circle cx="146.6" cy="232.94" r="0.9" fill="#222" fill-opacity="0.85"/>
<circle cx="146.6" cy="204.53" r="0.9" fill="#222" fill-opacity="0.85"/>
<circle cx="146.6" cy="213.89" r="0.9" fill="#222" fill-opacity="0.85"/>
<circle cx="146.6" cy="281.23" r="0.9" fill="#222" fill-opacity="0.85"/>
<circle cx="146.6" cy="202.22" r="0.9" fill="#222" fill-opacity="0.85"/>
<circle cx="146.6" cy="224.36" r="0.9" fill="#222" fill-opacity="0.85"/>
<circle cx="146.6" cy="258.89" r="0.9" fill="#222" fill-opacity="0.85"/>
<circle cx="146.6" cy="283.48" r="0.9" fill="#222" fill-opacity="0.85"/>
<circle cx="146.6" cy="187.32" r="0.9" fill="#222" fill-opacity="0.85"/>
<circle cx="146.6" cy="239.14" r="0.9" fill="#222" fill-opacity="0.85"/>
<circle cx="146.6" cy="207.56" r="0.9" fill="#222" fill-opacity="0.85"/>
<circle cx="146.6" cy="185.45" r="0.9" fill="#222" fill-opacity="0.85"/>
<circle cx="146.6" cy="208.19" r="0.9" fill="#222" fill-opacity="0.85"/>
<circle cx="146.6" cy="179.42" r="0.9" fill="#222" fill-opacity="0.85"/>
<circle cx="146.6" cy="248.37" r="0.9" fill="#222" fill-opacity="0.85"/>
<circle cx="146.6" cy="196.35" r="0.9" fill="#222" fill-opacity="0.85"/>
<circle cx="146.6" cy="242.52" r="0.9" fill="#222" fill-opacity="0.85"/>
<circle cx="146.6" cy="177.34" r="0.9" fill="#222" fill-opacity="0.85"/>
<circle cx="146.6" cy="185.44" r="0.9" fill="#222" fill-opacity="0.85"/>
<circle cx="146.6" cy="278.63" r="0.9" fill="#222" fill-opacity="0.85"/>
<circle cx="146.6" cy="275.34" r="0.9" fill="#222" fill-opacity="0.85"/>
<circle cx="146.6" cy="267.67" r="0.9" fill="#222" fill-opacity="0.85"/>
<circle cx="146.6" cy="173.03" r="0.9" fill="#222" fill-opacity="0.85"/>
<circle cx="146.6" cy="243.53" r="0.9" fill="#222" fill-opacity="0.85"/>
<circle cx="146.6" cy="219.77" r="0.9" fill="#222" fill-opacity="0.85"/>
<circle cx="146.6" cy="258.91" r="0.9" fill="#222" fill-opacity="0.85"/>
<circle cx="146.6" cy="234.92" r="0.9" fill="#222" fill-opacity="0.85"/>
<circle cx="146.6" cy="249.42" r="0.9" fill="#222" fill-opacity="0.85"/>
<circle cx="146.6" cy="253.4" r="0.9" fill="#222" fill-opacity="0.85"/>
<circle cx="146.6" cy="225.13" r="0.9" fill="#222" fill-opacity="0.85"/>
<circle cx="146.6" cy="225.24" r="0.9" fill="#222" fill-opacity="0.85"/>
<circle cx="146.6" cy="181.84" r="0.9" fill="#222" fill-opacity="0.85"/>
<circle cx="146.6" cy="212.49" r="0.9" fill="#222" fill-opacity="0.85"/>
<circle cx="146.6" cy="178.3" r="0.9" fill="#222" fill-opacity="0.85"/>
<circle cx="146.6" cy="188.61" r="0.9" fill="#222" fill-opacity="0.85"/>
<circle cx="146.6" cy="169.32" r="0.9" fill="#222" fill-opacity="0.85"/>
<circle cx="146.6" cy="213.91" r="0.9" fill="#222" fill-opacity="0.85"/>
<circle cx="146.6" cy="272.87" r="0.9" fill="#222" fill-opacity="0.85"/>
<circle cx="146.6" cy="188.01" r="0.9" fill="#222" fill-opacity="0.85"/>
<circle cx="146.6" cy="173.15" r="0.9" fill="#222" fill-opacity="0.85"/>
<circle cx="146.6" cy="181.77" r="0.9" fill="#222" fill-opacity="0.85"/>
<circle cx="146.6" cy="227.17" r="0.9" fill="#222" fill-opacity="0.85"/>
<circle cx="146.6" cy="208.23" r="0.9" fill="#222" fill-opacity="0.85"/>
<circle cx="146.6" cy="268.26" r="0.9" fill="#222" fill-opacity="0.85"/>
<circle cx="146.6" cy="192.09" r="0.9" fill="#222" fill-opacity="0.85"/>
<circle cx="146.6" cy="226.6" r="0.9" fill="#222" fill-opacity="0.85"/>
<circle cx="146.6" cy="260.64" r="0.9" fill="#222" fill-opacity="0.85"/>
<circle cx="146.6" cy="281.27" r="0.9" fill="#222" fill-opacity="0.85"/>
<circle cx="146.6" cy="188.96" r="0.9" fill="#222" fill-opacity="0.85"/>
<circle cx="146.6" cy="169.49" r="0.9" fill="#222" fill-opacity="0.85"/>
<circle cx="146.6" cy="279.35" r="0.9" fill="#222" fill-opacity="0.85"/>
<circle cx="146.6" cy="196.4" r="0.9" fill="#222" fill-opacity="0.85"/>
<circle cx="146.6" cy="246.56" r="0.9" fill="#222" fill-opacity="0.85"/>
<circle cx="146.6" cy="274.01" r="0.9" fill="#222" fill-opacity="0.85"/>
<circle cx="146.6" cy="259.68" r="0.9" fill="#222" fill-opacity="0.85"/>
<circle cx="146.6" cy="200.77" r="0.9" fill="#222" fill-opacity="0.85"/>
<circle cx="146.6" cy="186.3" r="0.9" fill="#222" fill-opacity="0.85"/>
<circle cx="146.6" cy="282.63" r="0.9" fill="#222" fill-opacity="0.85"/>
<circle cx="146.6" cy="221.34" r="0.9" fill="#222" fill-opacity="0.85"/>
<circle cx="146.6" cy="282.58" r="0.9" fill="#222" fill-opacity="0.85"/>
<circle cx="146.6" cy="207.61" r="0.9" fill="#222" fill-opacity="0.85"/>
<circle cx="146.6" cy="255.63" r="0.9" fill="#222" fill-opacity="0.85"/>
<circle cx="146.6" cy="185.15" r="0.9" fill="#222" fill-opacity="0.85"/>
<circle cx="146.6" cy="170.83" r="0.9" fill="#222" fill-opacity="0.85"/>
<circle cx="146.6" cy="235.14" r="0.9" fill="#222" fill-opacity="0.85"/>
<circle cx="146.6" cy="168.22" r="0.9" fill="#222" fill-opacity="0.85"/>
<circle cx="146.6" cy="257.97" r="0.9" fill="#222" fill-opacity="0.85"/>
<circle cx="146.6" cy="280.26" r="0.9" fill="#222" fill-opacity="0.85"/>
<circle cx="146.6" cy="223.25" r="0.9" fill="#222" fill-opacity="0.85"/>
<circle cx="146.6" cy="283.45" r="0.9" fill="#222" fill-opacity="0.85"/>
<circle cx="146.6" cy="269.61" r="0.9" fill="#222" fill-opacity="0.85"/>
<circle cx="146.6" cy="246.86" r="0.9" fill="#222" fill-opacity="0.85"/>
<circle cx="146.6" cy="221.87" r="0.9" fill="#222" fill-opacity="0.85"/>
<circle cx="146.6" cy="273.51" r="0.9" fill="#222" fill-opacity="0.85"/>
<circle cx="146.6" cy="282.75" r="0.9" fill="#222" fill-opacity="0.85"/>
<circle cx="146.6" cy="187.01" r="0.9" fill="#222" fill-opacity="0.85"/>
<circle cx="146.6" cy="257.52" r="0.9" fill="#222" fill-opacity="0.85"/>
<circle cx="146.6" cy="284.3" r="0.9" fill="#222" fill-opacity="0.85"/>
<circle cx="146.6" cy="283.24" r="0.9" fill="#222" fill-opacity="0.85"/>
<circle cx="146.6" cy="274.42" r="0.9" fill="#222" fill-opacity="0.85"/>
<circle cx="146.6" cy="275.83" r="0.9" fill="#222" fill-opacity="0.85"/>
<circle cx="146.6" cy="276.84" r="0.9" fill="#222" fill-opacity="0.85"/>
<circle cx="146.6" cy="278.95" r="0.9" fill="#222" fill-opacity="0.85"/>
<circle cx="146.6" cy="278.13" r="0.9" fill="#222" fill-opacity="0.85"/>
<circle cx="146.6" cy="277.51" r="0.9" fill="#222" fill-opacity="0.85"/>
<circle cx="146.6" cy="278.54" r="0.9" fill="#222" fill-opacity="0.85"/>
<circle cx="146.6" cy="283.99" r="0.9" fill="#222" fill-opacity="0.85"/>
<circle cx="146.6" cy="276.62" r="0.9" fill="#222" fill-opacity="0.85"/>
<circle cx="146.6" cy="275.33" r="0.9" fill="#222" fill-opacity="0.85"/>
<circle cx="146.6" cy="280.25" r="0.9" fill="#222" fill-opacity="0.85"/>
<circle cx="146.6" cy="272.04" r="0.9" fill="#222" fill-opacity="0.85"/>
<circle cx="146.6" cy="273.12" r="0.9" fill="#222" fill-opacity="0.85"/>
<circle cx="146.6" cy="284.62" r="0.9" fill="#222" fill-opacity="0.85"/>
<circle cx="146.6" cy="276.86" r="0.9" fill="#222" fill-opacity="0.85"/>
<circle cx="146.6" cy="277.32" r="0.9" fill="#222" fill-opacity="0.85"/>
<circle cx="146.6" cy="268.19" r="0.9" fill="#222" fill-opacity="0.85"/>
<circle cx="146.6" cy="275.06" r="0.9" fill="#222" fill-opacity="0.85"/>
<circle cx="146.6" cy="277.86" r="0.9" fill="#222" fill-opacity="0.85"/>
<circle cx="146.6" cy="268.34" r="0.9" fill="#222" fill-opacity="0.85"/>
<circle cx="146.6" cy="278.47" r="0.9" fill="#222" fill-opacity="0.85"/>
<circle cx="146.6" cy="278.75" r="0.9" fill="#222" fill-opacity="0.85"/>
<circle cx="146.6" cy="269.02" r="0.9" fill="#222" fill-opacity="0.85"/>
<rect x="120.2" y="306.4" width="53" height="8.6" fill="#E64B35" stroke="#222" stroke-width="0.7"/>
<line x1="120.2" y1="314.4" x2="173.2" y2="314.4" stroke="#111" stroke-width="1.1" />
<path d="M80.8 168.6 V164.6 H146.4 V169.2" fill="none" stroke="#1a1a1a" stroke-width="0.9"/>
<text transform="translate(113.6,165.9) scale(1,1.17)" font-size="7.2" text-anchor="middle" fill="#1a1a1a" >***</text>
<line x1="80.3" y1="322.7" x2="80.3" y2="326" stroke="#1a1a1a" stroke-width="0.9" />
<text transform="translate(80.3,334.8) scale(1,1.17)" font-size="7.7" text-anchor="middle" fill="#1a1a1a" >Normal</text>
<line x1="146.4" y1="322.7" x2="146.4" y2="326" stroke="#1a1a1a" stroke-width="0.9" />
<text transform="translate(146.4,334.8) scale(1,1.17)" font-size="7.7" text-anchor="middle" fill="#1a1a1a" >Tumor</text>
<text transform="translate(191.4,167.9) scale(1,1.1)" font-size="8" fill="#111">C</text>
<line x1="233.66" y1="165.8" x2="233.66" y2="322.3" stroke="#F0F0F0" stroke-width="0.6" />
<line x1="217.6" y1="306.72" x2="364.4" y2="306.72" stroke="#F0F0F0" stroke-width="0.6" />
<line x1="248.22" y1="165.8" x2="248.22" y2="322.3" stroke="#E6E6E6" stroke-width="0.6" />
<line x1="217.6" y1="291.14" x2="364.4" y2="291.14" stroke="#E6E6E6" stroke-width="0.6" />
<line x1="262.78" y1="165.8" x2="262.78" y2="322.3" stroke="#F0F0F0" stroke-width="0.6" />
<line x1="217.6" y1="275.56" x2="364.4" y2="275.56" stroke="#F0F0F0" stroke-width="0.6" />
<line x1="277.34" y1="165.8" x2="277.34" y2="322.3" stroke="#E6E6E6" stroke-width="0.6" />
<line x1="217.6" y1="259.98" x2="364.4" y2="259.98" stroke="#E6E6E6" stroke-width="0.6" />
<line x1="291.9" y1="165.8" x2="291.9" y2="322.3" stroke="#F0F0F0" stroke-width="0.6" />
<line x1="217.6" y1="244.4" x2="364.4" y2="244.4" stroke="#F0F0F0" stroke-width="0.6" />
<line x1="306.46" y1="165.8" x2="306.46" y2="322.3" stroke="#E6E6E6" stroke-width="0.6" />
<line x1="217.6" y1="228.82" x2="364.4" y2="228.82" stroke="#E6E6E6" stroke-width="0.6" />
<line x1="321.02" y1="165.8" x2="321.02" y2="322.3" stroke="#F0F0F0" stroke-width="0.6" />
<line x1="217.6" y1="213.24" x2="364.4" y2="213.24" stroke="#F0F0F0" stroke-width="0.6" />
<line x1="335.58" y1="165.8" x2="335.58" y2="322.3" stroke="#E6E6E6" stroke-width="0.6" />
<line x1="217.6" y1="197.66" x2="364.4" y2="197.66" stroke="#E6E6E6" stroke-width="0.6" />
<line x1="350.14" y1="165.8" x2="350.14" y2="322.3" stroke="#F0F0F0" stroke-width="0.6" />
<line x1="217.6" y1="182.08" x2="364.4" y2="182.08" stroke="#F0F0F0" stroke-width="0.6" />
<line x1="219.1" y1="322.3" x2="364.7" y2="166.5" stroke="#A8A8A8" stroke-width="0.85" />
<path d="M219.1 322.3 L280.8 215 L291 215 L291 210 L299.2 210 L299.2 205.4 L302.8 205.4 L302.8 195.7 L304.2 195.7 L304.2 190.8 L307 190.8 L307 184 L307.7 184 L307.7 177 L309 177 L309 171 L325.7 171 L325.7 166.3 L364.4 166.3" fill="none" stroke="#4DBBD5" stroke-width="1.2"/>
<rect x="217.6" y="165.8" width="146.8" height="156.5" fill="none" stroke="#1a1a1a" stroke-width="1.1"/>
<line x1="219.1" y1="322.3" x2="219.1" y2="325.7" stroke="#1a1a1a" stroke-width="0.9" />
<text transform="translate(219.1,335.3) scale(1,1.17)" font-size="8.2" text-anchor="middle" fill="#1a1a1a" >0.0</text>
<line x1="214" y1="322.3" x2="217.6" y2="322.3" stroke="#1a1a1a" stroke-width="0.9" />
<text transform="translate(211.4,325.7) scale(1,1.17)" font-size="8.2" text-anchor="end" fill="#1a1a1a" >0.0</text>
<line x1="248.22" y1="322.3" x2="248.22" y2="325.7" stroke="#1a1a1a" stroke-width="0.9" />
<text transform="translate(248.22,335.3) scale(1,1.17)" font-size="8.2" text-anchor="middle" fill="#1a1a1a" >0.2</text>
<line x1="214" y1="291.14" x2="217.6" y2="291.14" stroke="#1a1a1a" stroke-width="0.9" />
<text transform="translate(211.4,294.54) scale(1,1.17)" font-size="8.2" text-anchor="end" fill="#1a1a1a" >0.2</text>
<line x1="277.34" y1="322.3" x2="277.34" y2="325.7" stroke="#1a1a1a" stroke-width="0.9" />
<text transform="translate(277.34,335.3) scale(1,1.17)" font-size="8.2" text-anchor="middle" fill="#1a1a1a" >0.4</text>
<line x1="214" y1="259.98" x2="217.6" y2="259.98" stroke="#1a1a1a" stroke-width="0.9" />
<text transform="translate(211.4,263.38) scale(1,1.17)" font-size="8.2" text-anchor="end" fill="#1a1a1a" >0.4</text>
<line x1="306.46" y1="322.3" x2="306.46" y2="325.7" stroke="#1a1a1a" stroke-width="0.9" />
<text transform="translate(306.46,335.3) scale(1,1.17)" font-size="8.2" text-anchor="middle" fill="#1a1a1a" >0.6</text>
<line x1="214" y1="228.82" x2="217.6" y2="228.82" stroke="#1a1a1a" stroke-width="0.9" />
<text transform="translate(211.4,232.22) scale(1,1.17)" font-size="8.2" text-anchor="end" fill="#1a1a1a" >0.6</text>
<line x1="335.58" y1="322.3" x2="335.58" y2="325.7" stroke="#1a1a1a" stroke-width="0.9" />
<text transform="translate(335.58,335.3) scale(1,1.17)" font-size="8.2" text-anchor="middle" fill="#1a1a1a" >0.8</text>
<line x1="214" y1="197.66" x2="217.6" y2="197.66" stroke="#1a1a1a" stroke-width="0.9" />
<text transform="translate(211.4,201.06) scale(1,1.17)" font-size="8.2" text-anchor="end" fill="#1a1a1a" >0.8</text>
<line x1="364.7" y1="322.3" x2="364.7" y2="325.7" stroke="#1a1a1a" stroke-width="0.9" />
<text transform="translate(364.7,335.3) scale(1,1.17)" font-size="8.2" text-anchor="middle" fill="#1a1a1a" >1.0</text>
<line x1="214" y1="166.5" x2="217.6" y2="166.5" stroke="#1a1a1a" stroke-width="0.9" />
<text transform="translate(211.4,169.9) scale(1,1.17)" font-size="8.2" text-anchor="end" fill="#1a1a1a" >1.0</text>
<text transform="translate(193.4,243.5) rotate(-90)" font-size="9.2" text-anchor="middle" fill="#1a1a1a">Sensitivity (TPR)</text>
<text transform="translate(291.8,347.9) scale(1,1.17)" font-size="9.2" text-anchor="middle" fill="#1a1a1a" >1−Specificity (FPR)</text>
<text transform="translate(361.4,298.6) scale(1,1.17)" font-size="6.75" text-anchor="end" fill="#1a1a1a"  style="stroke-width:0.08px">MAGEA11</text>
<text transform="translate(361.4,307.7) scale(1,1.17)" font-size="6.75" text-anchor="end" fill="#1a1a1a"  style="stroke-width:0.08px">AUC: 0.667</text>
<text transform="translate(361.4,317.1) scale(1,1.17)" font-size="6.75" text-anchor="end" fill="#1a1a1a"  style="stroke-width:0.08px">CI: 0.596−0.737</text>
<text transform="translate(7.5,362.4) scale(1,1.1)" font-size="8" fill="#111">D</text>
<line x1="40.3" y1="363.5" x2="40.3" y2="520.7" stroke="#1a1a1a" stroke-width="1.0" />
<line x1="39.8" y1="520.7" x2="186.8" y2="520.7" stroke="#1a1a1a" stroke-width="1.0" />
<line x1="37" y1="513.4" x2="40.3" y2="513.4" stroke="#1a1a1a" stroke-width="0.9" />
<text transform="translate(33.9,516.8) scale(1,1.17)" font-size="8.2" text-anchor="end" fill="#1a1a1a" >0.0</text>
<line x1="37" y1="484.84" x2="40.3" y2="484.84" stroke="#1a1a1a" stroke-width="0.9" />
<text transform="translate(33.9,488.24) scale(1,1.17)" font-size="8.2" text-anchor="end" fill="#1a1a1a" >0.2</text>
<line x1="37" y1="456.28" x2="40.3" y2="456.28" stroke="#1a1a1a" stroke-width="0.9" />
<text transform="translate(33.9,459.68) scale(1,1.17)" font-size="8.2" text-anchor="end" fill="#1a1a1a" >0.4</text>
<line x1="37" y1="427.72" x2="40.3" y2="427.72" stroke="#1a1a1a" stroke-width="0.9" />
<text transform="translate(33.9,431.12) scale(1,1.17)" font-size="8.2" text-anchor="end" fill="#1a1a1a" >0.6</text>
<line x1="37" y1="399.16" x2="40.3" y2="399.16" stroke="#1a1a1a" stroke-width="0.9" />
<text transform="translate(33.9,402.56) scale(1,1.17)" font-size="8.2" text-anchor="end" fill="#1a1a1a" >0.8</text>
<line x1="37" y1="370.6" x2="40.3" y2="370.6" stroke="#1a1a1a" stroke-width="0.9" />
<text transform="translate(33.9,374) scale(1,1.17)" font-size="8.2" text-anchor="end" fill="#1a1a1a" >1.0</text>
<line x1="46.7" y1="520.7" x2="46.7" y2="524" stroke="#1a1a1a" stroke-width="0.9" />
<text transform="translate(46.7,532.8) scale(1,1.17)" font-size="8.2" text-anchor="middle" fill="#1a1a1a" >0</text>
<line x1="73.7" y1="520.7" x2="73.7" y2="524" stroke="#1a1a1a" stroke-width="0.9" />
<text transform="translate(73.7,532.8) scale(1,1.17)" font-size="8.2" text-anchor="middle" fill="#1a1a1a" >25</text>
<line x1="100.7" y1="520.7" x2="100.7" y2="524" stroke="#1a1a1a" stroke-width="0.9" />
<text transform="translate(100.7,532.8) scale(1,1.17)" font-size="8.2" text-anchor="middle" fill="#1a1a1a" >50</text>
<line x1="127.7" y1="520.7" x2="127.7" y2="524" stroke="#1a1a1a" stroke-width="0.9" />
<text transform="translate(127.7,532.8) scale(1,1.17)" font-size="8.2" text-anchor="middle" fill="#1a1a1a" >75</text>
<line x1="154.7" y1="520.7" x2="154.7" y2="524" stroke="#1a1a1a" stroke-width="0.9" />
<text transform="translate(154.7,532.8) scale(1,1.17)" font-size="8.2" text-anchor="middle" fill="#1a1a1a" >100</text>
<line x1="181.7" y1="520.7" x2="181.7" y2="524" stroke="#1a1a1a" stroke-width="0.9" />
<text transform="translate(181.7,532.8) scale(1,1.17)" font-size="8.2" text-anchor="middle" fill="#1a1a1a" >125</text>
<text transform="translate(16.8,442.2) rotate(-90)" font-size="9.2" text-anchor="middle" fill="#1a1a1a">Survival probability</text>
<text transform="translate(114,544.7) scale(1,1.17)" font-size="9.2" text-anchor="middle" fill="#1a1a1a" >Time (months)</text>
<path d="M45.8 370.4 H47.22 V372.12 H48.65 V373.85 H50.08 V375.57 H51.5 V377.3 H52.2 V378.92 H52.9 V380.54 H53.6 V382.16 H54.3 V383.78 H55 V385.4 H55.7 V387.24 H56.4 V389.08 H57.1 V390.92 H57.8 V392.76 H58.5 V394.6 H59.18 V396.22 H59.86 V397.84 H60.54 V399.46 H61.22 V401.08 H61.9 V402.7 H62.6 V404.54 H63.3 V406.38 H64 V408.22 H64.7 V410.06 H65.4 V411.9 H66.53 V413.83 H67.67 V415.77 H68.8 V417.7 H70.55 V420 H72.3 V422.3 H73.47 V424.23 H74.63 V426.17 H75.8 V428.1 H80.4 V430.4 H86.2 V432.7 H87.33 V434.57 H88.47 V436.43 H89.6 V438.3 H97.2 V444 H111.5 H111.9 V446 H112.3 V448 H112.7 V450 H125.4 H125.58 V451.73 H125.77 V453.47 H125.95 V455.2 H126.13 V456.93 H126.32 V458.67 H126.5 V460.4 H182.2" fill="none" stroke="#4DBBD5" stroke-width="1.15"/>
<path d="M45.8 370.4 H47.33 V372.33 H48.87 V374.27 H50.4 V376.2 H51.25 V377.9 H52.1 V379.6 H52.95 V381.3 H53.8 V383 H54.28 V384.86 H54.76 V386.72 H55.24 V388.58 H55.72 V390.44 H56.2 V392.3 H56.48 V394.02 H56.75 V395.75 H57.02 V397.48 H57.3 V399.2 H57.88 V400.93 H58.47 V402.67 H59.05 V404.4 H59.63 V406.13 H60.22 V407.87 H60.8 V409.6 H61.48 V411.22 H62.16 V412.84 H62.84 V414.46 H63.52 V416.08 H64.2 V417.7 H64.66 V419.54 H65.12 V421.38 H65.58 V423.22 H66.04 V425.06 H66.5 V426.9 H67.08 V428.62 H67.65 V430.35 H68.22 V432.07 H68.8 V433.8 H69.97 V435.73 H71.13 V437.67 H72.3 V439.6 H73.47 V441.53 H74.63 V443.47 H75.8 V445.4 H76.53 V447.33 H77.27 V449.27 H78 V451.2 H82.7 V453.5 H89.6 V455.8 H91.9 V457.5 H94.2 V459.2 H106.9 H107.14 V460.82 H107.38 V462.44 H107.62 V464.06 H107.86 V465.68 H108.1 V467.3 H108.87 V469.23 H109.63 V471.17 H110.4 V473.1 H121.9 V493.8 H163" fill="none" stroke="#E64B35" stroke-width="1.15"/>
<line x1="47" y1="369.65" x2="47" y2="374.05" stroke="#4DBBD5" stroke-width="0.85" />
<line x1="48.5" y1="371.47" x2="48.5" y2="375.87" stroke="#4DBBD5" stroke-width="0.85" />
<line x1="50" y1="373.28" x2="50" y2="377.68" stroke="#4DBBD5" stroke-width="0.85" />
<line x1="51.5" y1="375.1" x2="51.5" y2="379.5" stroke="#4DBBD5" stroke-width="0.85" />
<line x1="53" y1="378.57" x2="53" y2="382.97" stroke="#4DBBD5" stroke-width="0.85" />
<line x1="54.5" y1="382.04" x2="54.5" y2="386.44" stroke="#4DBBD5" stroke-width="0.85" />
<line x1="56" y1="385.83" x2="56" y2="390.23" stroke="#4DBBD5" stroke-width="0.85" />
<line x1="57" y1="388.46" x2="57" y2="392.86" stroke="#4DBBD5" stroke-width="0.85" />
<line x1="58" y1="391.09" x2="58" y2="395.49" stroke="#4DBBD5" stroke-width="0.85" />
<line x1="59" y1="393.59" x2="59" y2="397.99" stroke="#4DBBD5" stroke-width="0.85" />
<line x1="60.5" y1="397.16" x2="60.5" y2="401.56" stroke="#4DBBD5" stroke-width="0.85" />
<line x1="61.5" y1="399.55" x2="61.5" y2="403.95" stroke="#4DBBD5" stroke-width="0.85" />
<line x1="62.5" y1="402.08" x2="62.5" y2="406.48" stroke="#4DBBD5" stroke-width="0.85" />
<line x1="64" y1="406.02" x2="64" y2="410.42" stroke="#4DBBD5" stroke-width="0.85" />
<line x1="65" y1="408.65" x2="65" y2="413.05" stroke="#4DBBD5" stroke-width="0.85" />
<line x1="66" y1="410.72" x2="66" y2="415.12" stroke="#4DBBD5" stroke-width="0.85" />
<line x1="67" y1="412.43" x2="67" y2="416.83" stroke="#4DBBD5" stroke-width="0.85" />
<line x1="68.5" y1="414.99" x2="68.5" y2="419.39" stroke="#4DBBD5" stroke-width="0.85" />
<line x1="69.5" y1="416.42" x2="69.5" y2="420.82" stroke="#4DBBD5" stroke-width="0.85" />
<line x1="70.5" y1="417.73" x2="70.5" y2="422.13" stroke="#4DBBD5" stroke-width="0.85" />
<line x1="72" y1="419.71" x2="72" y2="424.11" stroke="#4DBBD5" stroke-width="0.85" />
<line x1="73" y1="421.26" x2="73" y2="425.66" stroke="#4DBBD5" stroke-width="0.85" />
<line x1="74.5" y1="423.75" x2="74.5" y2="428.15" stroke="#4DBBD5" stroke-width="0.85" />
<line x1="76" y1="426" x2="76" y2="430.4" stroke="#4DBBD5" stroke-width="0.85" />
<line x1="78" y1="427" x2="78" y2="431.4" stroke="#4DBBD5" stroke-width="0.85" />
<line x1="79.5" y1="427.75" x2="79.5" y2="432.15" stroke="#4DBBD5" stroke-width="0.85" />
<line x1="81" y1="428.44" x2="81" y2="432.84" stroke="#4DBBD5" stroke-width="0.85" />
<line x1="83" y1="429.23" x2="83" y2="433.63" stroke="#4DBBD5" stroke-width="0.85" />
<line x1="84" y1="429.63" x2="84" y2="434.03" stroke="#4DBBD5" stroke-width="0.85" />
<line x1="85.5" y1="430.22" x2="85.5" y2="434.62" stroke="#4DBBD5" stroke-width="0.85" />
<line x1="87" y1="431.82" x2="87" y2="436.22" stroke="#4DBBD5" stroke-width="0.85" />
<line x1="88" y1="433.46" x2="88" y2="437.86" stroke="#4DBBD5" stroke-width="0.85" />
<line x1="89" y1="435.11" x2="89" y2="439.51" stroke="#4DBBD5" stroke-width="0.85" />
<line x1="90.5" y1="436.1" x2="90.5" y2="440.5" stroke="#4DBBD5" stroke-width="0.85" />
<line x1="92" y1="436.1" x2="92" y2="440.5" stroke="#4DBBD5" stroke-width="0.85" />
<line x1="94.1" y1="436.1" x2="94.1" y2="440.5" stroke="#4DBBD5" stroke-width="0.85" />
<line x1="104.4" y1="441.8" x2="104.4" y2="446.2" stroke="#4DBBD5" stroke-width="0.85" />
<line x1="105.9" y1="441.8" x2="105.9" y2="446.2" stroke="#4DBBD5" stroke-width="0.85" />
<line x1="113.2" y1="447.8" x2="113.2" y2="452.2" stroke="#4DBBD5" stroke-width="0.85" />
<line x1="117.3" y1="447.8" x2="117.3" y2="452.2" stroke="#4DBBD5" stroke-width="0.85" />
<line x1="119.8" y1="447.8" x2="119.8" y2="452.2" stroke="#4DBBD5" stroke-width="0.85" />
<line x1="125.4" y1="447.8" x2="125.4" y2="452.2" stroke="#4DBBD5" stroke-width="0.85" />
<line x1="127" y1="458.2" x2="127" y2="462.6" stroke="#4DBBD5" stroke-width="0.85" />
<line x1="129" y1="458.2" x2="129" y2="462.6" stroke="#4DBBD5" stroke-width="0.85" />
<line x1="175" y1="458.2" x2="175" y2="462.6" stroke="#4DBBD5" stroke-width="0.85" />
<line x1="177" y1="458.2" x2="177" y2="462.6" stroke="#4DBBD5" stroke-width="0.85" />
<line x1="181" y1="458.2" x2="181" y2="462.6" stroke="#4DBBD5" stroke-width="0.85" />
<line x1="47" y1="369.71" x2="47" y2="374.11" stroke="#E64B35" stroke-width="0.85" />
<line x1="48" y1="370.97" x2="48" y2="375.37" stroke="#E64B35" stroke-width="0.85" />
<line x1="49.5" y1="372.87" x2="49.5" y2="377.27" stroke="#E64B35" stroke-width="0.85" />
<line x1="51" y1="375.2" x2="51" y2="379.6" stroke="#E64B35" stroke-width="0.85" />
<line x1="52.5" y1="378.2" x2="52.5" y2="382.6" stroke="#E64B35" stroke-width="0.85" />
<line x1="53.5" y1="380.2" x2="53.5" y2="384.6" stroke="#E64B35" stroke-width="0.85" />
<line x1="55" y1="385.45" x2="55" y2="389.85" stroke="#E64B35" stroke-width="0.85" />
<line x1="56" y1="389.32" x2="56" y2="393.72" stroke="#E64B35" stroke-width="0.85" />
<line x1="57" y1="395.12" x2="57" y2="399.52" stroke="#E64B35" stroke-width="0.85" />
<line x1="58" y1="399.08" x2="58" y2="403.48" stroke="#E64B35" stroke-width="0.85" />
<line x1="59" y1="402.05" x2="59" y2="406.45" stroke="#E64B35" stroke-width="0.85" />
<line x1="60" y1="405.02" x2="60" y2="409.42" stroke="#E64B35" stroke-width="0.85" />
<line x1="61" y1="407.88" x2="61" y2="412.28" stroke="#E64B35" stroke-width="0.85" />
<line x1="62" y1="410.26" x2="62" y2="414.66" stroke="#E64B35" stroke-width="0.85" />
<line x1="63" y1="412.64" x2="63" y2="417.04" stroke="#E64B35" stroke-width="0.85" />
<line x1="64" y1="415.02" x2="64" y2="419.42" stroke="#E64B35" stroke-width="0.85" />
<line x1="65" y1="418.7" x2="65" y2="423.1" stroke="#E64B35" stroke-width="0.85" />
<line x1="66" y1="422.7" x2="66" y2="427.1" stroke="#E64B35" stroke-width="0.85" />
<line x1="67" y1="426.2" x2="67" y2="430.6" stroke="#E64B35" stroke-width="0.85" />
<line x1="68" y1="429.2" x2="68" y2="433.6" stroke="#E64B35" stroke-width="0.85" />
<line x1="69" y1="431.93" x2="69" y2="436.33" stroke="#E64B35" stroke-width="0.85" />
<line x1="70.5" y1="434.42" x2="70.5" y2="438.82" stroke="#E64B35" stroke-width="0.85" />
<line x1="72" y1="436.9" x2="72" y2="441.3" stroke="#E64B35" stroke-width="0.85" />
<line x1="73.5" y1="439.39" x2="73.5" y2="443.79" stroke="#E64B35" stroke-width="0.85" />
<line x1="74.5" y1="441.05" x2="74.5" y2="445.45" stroke="#E64B35" stroke-width="0.85" />
<line x1="75.5" y1="442.7" x2="75.5" y2="447.1" stroke="#E64B35" stroke-width="0.85" />
<line x1="76.5" y1="445.05" x2="76.5" y2="449.45" stroke="#E64B35" stroke-width="0.85" />
<line x1="78" y1="449" x2="78" y2="453.4" stroke="#E64B35" stroke-width="0.85" />
<line x1="79.5" y1="449.73" x2="79.5" y2="454.13" stroke="#E64B35" stroke-width="0.85" />
<line x1="80.5" y1="450.22" x2="80.5" y2="454.62" stroke="#E64B35" stroke-width="0.85" />
<line x1="82" y1="450.96" x2="82" y2="455.36" stroke="#E64B35" stroke-width="0.85" />
<line x1="83.5" y1="451.57" x2="83.5" y2="455.97" stroke="#E64B35" stroke-width="0.85" />
<line x1="85" y1="452.07" x2="85" y2="456.47" stroke="#E64B35" stroke-width="0.85" />
<line x1="86.5" y1="452.57" x2="86.5" y2="456.97" stroke="#E64B35" stroke-width="0.85" />
<line x1="88" y1="453.07" x2="88" y2="457.47" stroke="#E64B35" stroke-width="0.85" />
<line x1="89.5" y1="453.57" x2="89.5" y2="457.97" stroke="#E64B35" stroke-width="0.85" />
<line x1="91" y1="454.63" x2="91" y2="459.03" stroke="#E64B35" stroke-width="0.85" />
<line x1="95.5" y1="457" x2="95.5" y2="461.4" stroke="#E64B35" stroke-width="0.85" />
<line x1="97" y1="457" x2="97" y2="461.4" stroke="#E64B35" stroke-width="0.85" />
<line x1="98.5" y1="457" x2="98.5" y2="461.4" stroke="#E64B35" stroke-width="0.85" />
<line x1="100" y1="457" x2="100" y2="461.4" stroke="#E64B35" stroke-width="0.85" />
<line x1="106.2" y1="457" x2="106.2" y2="461.4" stroke="#E64B35" stroke-width="0.85" />
<line x1="107.8" y1="463.07" x2="107.8" y2="467.47" stroke="#E64B35" stroke-width="0.85" />
<line x1="111" y1="470.9" x2="111" y2="475.3" stroke="#E64B35" stroke-width="0.85" />
<line x1="116.5" y1="470.9" x2="116.5" y2="475.3" stroke="#E64B35" stroke-width="0.85" />
<line x1="162" y1="491.6" x2="162" y2="496" stroke="#E64B35" stroke-width="0.85" />
<text transform="translate(149.4,371.9) scale(1,1.17)" font-size="6.8" text-anchor="start" fill="#1a1a1a"  style="stroke-width:0.08px">MAGEA11</text>
<line x1="150.8" y1="379.3" x2="162.6" y2="379.3" stroke="#4DBBD5" stroke-width="1.1" />
<line x1="156.7" y1="377.1" x2="156.7" y2="381.5" stroke="#4DBBD5" stroke-width="0.9" />
<line x1="150.8" y1="389" x2="162.6" y2="389" stroke="#E64B35" stroke-width="1.1" />
<line x1="156.7" y1="386.8" x2="156.7" y2="391.2" stroke="#E64B35" stroke-width="0.9" />
<text transform="translate(167.8,381.5) scale(1,1.17)" font-size="6.6" text-anchor="start" fill="#1a1a1a"  style="stroke-width:0.08px">Low</text>
<text transform="translate(167.8,391.3) scale(1,1.17)" font-size="6.6" text-anchor="start" fill="#1a1a1a"  style="stroke-width:0.08px">High</text>
<text transform="translate(46.8,494.8) scale(1,1.17)" font-size="6.7" text-anchor="start" fill="#1a1a1a"  style="stroke-width:0.08px">Overall Survival</text>
<text transform="translate(46.8,504.2) scale(1,1.17)" font-size="6.7" text-anchor="start" fill="#1a1a1a"  style="stroke-width:0.08px">HR = 1.43 (1.03−2.00)</text>
<text transform="translate(46.8,513.7) scale(1,1.17)" font-size="6.7" fill="#1a1a1a" style="stroke-width:0.08px"><tspan font-style="italic">p</tspan> = 0.034</text>
<text transform="translate(198.5,362.3) scale(1,1.1)" font-size="8" fill="#111">E</text>
<svg x="214.2" y="356.7" width="151.6" height="163.4" viewBox="0 0 151.6 163.4" overflow="hidden">
<rect width="151.6" height="163.4" fill="#000"/>
<defs><filter id="gtex" x="-10%" y="-10%" width="120%" height="120%" color-interpolation-filters="sRGB"><feGaussianBlur in="SourceGraphic" stdDeviation="5" result="b"/><feTurbulence type="fractalNoise" baseFrequency="0.04 0.22" numOctaves="4" seed="4" result="t"/><feColorMatrix in="t" type="matrix" values="1.8 0 0 0 -0.4  1.8 0 0 0 -0.4  1.8 0 0 0 -0.4  0 0 0 0 1" result="tg"/><feComposite in="b" in2="tg" operator="arithmetic" k1="0.9" k2="0.3" k3="0" k4="0"/></filter><filter id="rb" x="-10%" y="-10%" width="120%" height="120%" color-interpolation-filters="sRGB"><feGaussianBlur in="SourceGraphic" stdDeviation="2.6" result="b"/><feTurbulence type="fractalNoise" baseFrequency="0.035 0.28" numOctaves="4" seed="9" result="t"/><feColorMatrix in="t" type="matrix" values="2.6 0 0 0 -0.85  2.6 0 0 0 -0.85  2.6 0 0 0 -0.85  0 0 0 0 1" result="tg"/><feComposite in="b" in2="tg" operator="arithmetic" k1="1.15" k2="0.22" k3="0" k4="0"/></filter><filter id="ntex" x="-10%" y="-10%" width="120%" height="120%" color-interpolation-filters="sRGB"><feTurbulence type="fractalNoise" baseFrequency="0.11" numOctaves="2" seed="3" result="t"/><feColorMatrix in="t" type="matrix" values="0 0 0 0 0  0 0 0 0 0  0 0 0 0 0  3.4 0 0 0 -1.25" result="ta"/><feComposite in="SourceGraphic" in2="ta" operator="in" result="sp"/><feGaussianBlur in="sp" stdDeviation="1.4"/></filter><filter id="nb" x="-20%" y="-20%" width="140%" height="140%"><feGaussianBlur stdDeviation="2"/></filter>
<clipPath id="cpA"><path d="M80 0 C105.8 -1.3 192.3 -6.0 215 0 C237.7 6.0 220.2 25.7 216 36 C211.8 46.3 199.7 54.3 190 62 C180.3 69.7 167.7 79.7 158 82 C148.3 84.3 141.7 80.0 132 76 C122.3 72.0 108.7 63.7 100 58 C91.3 52.3 86.0 47.7 80 42 C74.0 36.3 67.3 29.7 64 24 C60.7 18.3 57.3 12.0 60 8 C62.7 4.0 54.2 1.3 80 0 Z"/></clipPath>
<clipPath id="cpB"><path d="M24 82 C29.0 82.7 47.3 92.7 60 96 C72.7 99.3 88.7 102.0 100 102 C111.3 102.0 118.0 99.3 128 96 C138.0 92.7 149.7 88.8 160 82 C170.3 75.2 181.0 62.0 190 55 C199.0 48.0 209.3 34.5 214 40 C218.7 45.5 220.3 78.0 218 88 C215.7 98.0 204.0 91.3 200 100 C196.0 108.7 194.7 122.5 194 140 C193.3 157.5 195.0 184.7 196 205 C197.0 225.3 207.7 252.5 200 262 C192.3 271.5 162.5 265.7 150 262 C137.5 258.3 129.7 250.3 125 240 C120.3 229.7 121.5 213.3 122 200 C122.5 186.7 128.0 172.0 128 160 C128.0 148.0 126.7 135.0 122 128 C117.3 121.0 110.0 121.3 100 118 C90.0 114.7 73.7 112.3 62 108 C50.3 103.7 36.3 96.3 30 92 C23.7 87.7 19.0 81.3 24 82 Z"/></clipPath>
<clipPath id="cpC"><path d="M192 92 C196.5 81.0 206.2 85.7 215 84 C223.8 82.3 237.8 80.7 245 82 C252.2 83.3 255.2 87.0 258 92 C260.8 97.0 262.3 102.3 262 112 C261.7 121.7 258.7 137.0 256 150 C253.3 163.0 248.7 179.2 246 190 C243.3 200.8 243.5 207.5 240 215 C236.5 222.5 231.7 231.7 225 235 C218.3 238.3 205.5 240.0 200 235 C194.5 230.0 194.0 219.2 192 205 C190.0 190.8 188.0 168.8 188 150 C188.0 131.2 187.5 103.0 192 92 Z"/></clipPath>
<clipPath id="cpD"><path d="M282 78 C286.7 74.0 294.0 69.3 300 70 C306.0 70.7 313.0 72.8 318 82 C323.0 91.2 327.3 110.7 330 125 C332.7 139.3 336.0 154.7 334 168 C332.0 181.3 325.0 195.0 318 205 C311.0 215.0 302.0 223.5 292 228 C282.0 232.5 265.7 235.8 258 232 C250.3 228.2 247.3 217.0 246 205 C244.7 193.0 247.3 173.8 250 160 C252.7 146.2 258.3 133.0 262 122 C265.7 111.0 268.7 101.3 272 94 C275.3 86.7 277.3 82.0 282 78 Z"/></clipPath>
<clipPath id="cpE"><path d="M312 2 C324.3 -6.0 377.0 -25.7 390 2 C403.0 29.7 396.7 139.7 390 168 C383.3 196.3 359.3 176.7 350 172 C340.7 167.3 338.7 152.0 334 140 C329.3 128.0 325.0 115.0 322 100 C319.0 85.0 317.7 66.3 316 50 C314.3 33.7 299.7 10.0 312 2 Z"/></clipPath>
<clipPath id="cpF"><path d="M0 273 C5.0 259.0 19.2 266.8 30 268 C40.8 269.2 55.3 274.7 65 280 C74.7 285.3 81.8 293.0 88 300 C94.2 307.0 102.5 315.7 102 322 C101.5 328.3 92.0 333.7 85 338 C78.0 342.3 69.2 346.3 60 348 C50.8 349.7 40.0 347.3 30 348 C20.0 348.7 5.0 364.5 0 352 C-5.0 339.5 -5.0 287.0 0 273 Z"/></clipPath>
<clipPath id="cpG"><path d="M74 285 C71.7 278.5 73.5 279.2 82 276 C90.5 272.8 111.2 268.7 125 266 C138.8 263.3 151.8 260.7 165 260 C178.2 259.3 196.5 255.3 204 262 C211.5 268.7 210.0 290.0 210 300 C210.0 310.0 208.0 314.5 204 322 C200.0 329.5 192.3 337.0 186 345 C179.7 353.0 173.3 364.5 166 370 C158.7 375.5 148.0 378.8 142 378 C136.0 377.2 134.5 372.2 130 365 C125.5 357.8 120.7 343.3 115 335 C109.3 326.7 102.8 323.3 96 315 C89.2 306.7 76.3 291.5 74 285 Z"/></clipPath>
<clipPath id="cpH"><path d="M215 228 C205.0 229.0 224.5 233.0 232 234 C239.5 235.0 251.2 232.2 260 234 C268.8 235.8 279.2 239.0 285 245 C290.8 251.0 292.5 260.0 295 270 C297.5 280.0 295.8 297.7 300 305 C304.2 312.3 310.0 314.5 320 314 C330.0 313.5 348.3 304.7 360 302 C371.7 299.3 385.0 320.0 390 298 C395.0 276.0 396.7 191.0 390 170 C383.3 149.0 359.7 171.3 350 172 C340.3 172.7 336.7 168.5 332 174 C327.3 179.5 328.7 196.0 322 205 C315.3 214.0 309.8 224.2 292 228 C274.2 231.8 225.0 227.0 215 228 Z"/></clipPath>
<clipPath id="cpI"><path d="M135 418 C128.3 414.2 150.0 402.0 160 395 C170.0 388.0 187.3 388.5 195 376 C202.7 363.5 197.7 330.7 206 320 C214.3 309.3 231.8 313.7 245 312 C258.2 310.3 275.0 307.8 285 310 C295.0 312.2 301.2 317.5 305 325 C308.8 332.5 309.7 345.8 308 355 C306.3 364.2 303.0 372.5 295 380 C287.0 387.5 271.7 395.7 260 400 C248.3 404.3 235.0 403.0 225 406 C215.0 409.0 215.0 416.0 200 418 C185.0 420.0 141.7 421.8 135 418 Z"/></clipPath>
<clipPath id="cpL"><path d="M0 124 C4.2 117.8 18.3 139.0 25 148 C31.7 157.0 36.2 168.0 40 178 C43.8 188.0 47.3 201.3 48 208 C48.7 214.7 46.7 217.3 44 218 C41.3 218.7 36.0 215.8 32 212 C28.0 208.2 25.3 199.5 20 195 C14.7 190.5 3.3 196.8 0 185 C-3.3 173.2 -4.2 130.2 0 124 Z"/></clipPath>
<clipPath id="cpBR"><path d="M345 302 C350.8 299.0 382.5 300.2 390 304 C397.5 307.8 396.7 313.2 390 325 C383.3 336.8 359.3 359.5 350 375 C340.7 390.5 338.7 410.8 334 418 C329.3 425.2 321.7 427.7 322 418 C322.3 408.3 330.5 376.0 336 360 C341.5 344.0 353.5 331.7 355 322 C356.5 312.3 339.2 305.0 345 302 Z"/></clipPath>
</defs>
<g transform="translate(-2.3,-2.6) scale(0.4)">
<g>
<g transform="rotate(7.5 129.5 38.8)"><g filter="url(#gtex)"><g transform="rotate(-7.5 129.5 38.8)"><path d="M80 0 C105.8 -1.3 192.3 -6.0 215 0 C237.7 6.0 220.2 25.7 216 36 C211.8 46.3 199.7 54.3 190 62 C180.3 69.7 167.7 79.7 158 82 C148.3 84.3 141.7 80.0 132 76 C122.3 72.0 108.7 63.7 100 58 C91.3 52.3 86.0 47.7 80 42 C74.0 36.3 67.3 29.7 64 24 C60.7 18.3 57.3 12.0 60 8 C62.7 4.0 54.2 1.3 80 0 Z" fill="#182d07"/></g></g></g>
<g transform="rotate(62.1 136.2 132.8)"><g filter="url(#gtex)"><g transform="rotate(-62.1 136.2 132.8)"><path d="M24 82 C29.0 82.7 47.3 92.7 60 96 C72.7 99.3 88.7 102.0 100 102 C111.3 102.0 118.0 99.3 128 96 C138.0 92.7 149.7 88.8 160 82 C170.3 75.2 181.0 62.0 190 55 C199.0 48.0 209.3 34.5 214 40 C218.7 45.5 220.3 78.0 218 88 C215.7 98.0 204.0 91.3 200 100 C196.0 108.7 194.7 122.5 194 140 C193.3 157.5 195.0 184.7 196 205 C197.0 225.3 207.7 252.5 200 262 C192.3 271.5 162.5 265.7 150 262 C137.5 258.3 129.7 250.3 125 240 C120.3 229.7 121.5 213.3 122 200 C122.5 186.7 128.0 172.0 128 160 C128.0 148.0 126.7 135.0 122 128 C117.3 121.0 110.0 121.3 100 118 C90.0 114.7 73.7 112.3 62 108 C50.3 103.7 36.3 96.3 30 92 C23.7 87.7 19.0 81.3 24 82 Z" fill="#2a520c"/></g></g></g>
<g transform="rotate(-82.4 226.6 153.5)"><g filter="url(#gtex)"><g transform="rotate(82.4 226.6 153.5)"><path d="M192 92 C196.5 81.0 206.2 85.7 215 84 C223.8 82.3 237.8 80.7 245 82 C252.2 83.3 255.2 87.0 258 92 C260.8 97.0 262.3 102.3 262 112 C261.7 121.7 258.7 137.0 256 150 C253.3 163.0 248.7 179.2 246 190 C243.3 200.8 243.5 207.5 240 215 C236.5 222.5 231.7 231.7 225 235 C218.3 238.3 205.5 240.0 200 235 C194.5 230.0 194.0 219.2 192 205 C190.0 190.8 188.0 168.8 188 150 C188.0 131.2 187.5 103.0 192 92 Z" fill="#4c7e0f"/></g></g></g>
<g transform="rotate(-81.7 288.5 147.4)"><g filter="url(#gtex)"><g transform="rotate(81.7 288.5 147.4)"><path d="M282 78 C286.7 74.0 294.0 69.3 300 70 C306.0 70.7 313.0 72.8 318 82 C323.0 91.2 327.3 110.7 330 125 C332.7 139.3 336.0 154.7 334 168 C332.0 181.3 325.0 195.0 318 205 C311.0 215.0 302.0 223.5 292 228 C282.0 232.5 265.7 235.8 258 232 C250.3 228.2 247.3 217.0 246 205 C244.7 193.0 247.3 173.8 250 160 C252.7 146.2 258.3 133.0 262 122 C265.7 111.0 268.7 101.3 272 94 C275.3 86.7 277.3 82.0 282 78 Z" fill="#193207"/></g></g></g>
<g transform="rotate(83.0 344.9 90.6)"><g filter="url(#gtex)"><g transform="rotate(-83.0 344.9 90.6)"><path d="M312 2 C324.3 -6.0 377.0 -25.7 390 2 C403.0 29.7 396.7 139.7 390 168 C383.3 196.3 359.3 176.7 350 172 C340.7 167.3 338.7 152.0 334 140 C329.3 128.0 325.0 115.0 322 100 C319.0 85.0 317.7 66.3 316 50 C314.3 33.7 299.7 10.0 312 2 Z" fill="#193207"/></g></g></g>
<g transform="rotate(22.0 51.1 314.3)"><g filter="url(#gtex)"><g transform="rotate(-22.0 51.1 314.3)"><path d="M0 273 C5.0 259.0 19.2 266.8 30 268 C40.8 269.2 55.3 274.7 65 280 C74.7 285.3 81.8 293.0 88 300 C94.2 307.0 102.5 315.7 102 322 C101.5 328.3 92.0 333.7 85 338 C78.0 342.3 69.2 346.3 60 348 C50.8 349.7 40.0 347.3 30 348 C20.0 348.7 5.0 364.5 0 352 C-5.0 339.5 -5.0 287.0 0 273 Z" fill="#315c0e"/></g></g></g>
<g transform="rotate(16.8 146.1 313.8)"><g filter="url(#gtex)"><g transform="rotate(-16.8 146.1 313.8)"><path d="M74 285 C71.7 278.5 73.5 279.2 82 276 C90.5 272.8 111.2 268.7 125 266 C138.8 263.3 151.8 260.7 165 260 C178.2 259.3 196.5 255.3 204 262 C211.5 268.7 210.0 290.0 210 300 C210.0 310.0 208.0 314.5 204 322 C200.0 329.5 192.3 337.0 186 345 C179.7 353.0 173.3 364.5 166 370 C158.7 375.5 148.0 378.8 142 378 C136.0 377.2 134.5 372.2 130 365 C125.5 357.8 120.7 343.3 115 335 C109.3 326.7 102.8 323.3 96 315 C89.2 306.7 76.3 291.5 74 285 Z" fill="#2c4e0c"/></g></g></g>
<g transform="rotate(-13.4 310.2 241.4)"><g filter="url(#gtex)"><g transform="rotate(13.4 310.2 241.4)"><path d="M215 228 C205.0 229.0 224.5 233.0 232 234 C239.5 235.0 251.2 232.2 260 234 C268.8 235.8 279.2 239.0 285 245 C290.8 251.0 292.5 260.0 295 270 C297.5 280.0 295.8 297.7 300 305 C304.2 312.3 310.0 314.5 320 314 C330.0 313.5 348.3 304.7 360 302 C371.7 299.3 385.0 320.0 390 298 C395.0 276.0 396.7 191.0 390 170 C383.3 149.0 359.7 171.3 350 172 C340.3 172.7 336.7 168.5 332 174 C327.3 179.5 328.7 196.0 322 205 C315.3 214.0 309.8 224.2 292 228 C274.2 231.8 225.0 227.0 215 228 Z" fill="#142906"/></g></g></g>
<g transform="rotate(-29.2 234.9 367.9)"><g filter="url(#gtex)"><g transform="rotate(29.2 234.9 367.9)"><path d="M135 418 C128.3 414.2 150.0 402.0 160 395 C170.0 388.0 187.3 388.5 195 376 C202.7 363.5 197.7 330.7 206 320 C214.3 309.3 231.8 313.7 245 312 C258.2 310.3 275.0 307.8 285 310 C295.0 312.2 301.2 317.5 305 325 C308.8 332.5 309.7 345.8 308 355 C306.3 364.2 303.0 372.5 295 380 C287.0 387.5 271.7 395.7 260 400 C248.3 404.3 235.0 403.0 225 406 C215.0 409.0 215.0 416.0 200 418 C185.0 420.0 141.7 421.8 135 418 Z" fill="#264a0a"/></g></g></g>
<g transform="rotate(66.6 26.1 183.5)"><g filter="url(#gtex)"><g transform="rotate(-66.6 26.1 183.5)"><path d="M0 124 C4.2 117.8 18.3 139.0 25 148 C31.7 157.0 36.2 168.0 40 178 C43.8 188.0 47.3 201.3 48 208 C48.7 214.7 46.7 217.3 44 218 C41.3 218.7 36.0 215.8 32 212 C28.0 208.2 25.3 199.5 20 195 C14.7 190.5 3.3 196.8 0 185 C-3.3 173.2 -4.2 130.2 0 124 Z" fill="#3a8012"/></g></g></g>
<g transform="rotate(-66.8 352.8 353.0)"><g filter="url(#gtex)"><g transform="rotate(66.8 352.8 353.0)"><path d="M345 302 C350.8 299.0 382.5 300.2 390 304 C397.5 307.8 396.7 313.2 390 325 C383.3 336.8 359.3 359.5 350 375 C340.7 390.5 338.7 410.8 334 418 C329.3 425.2 321.7 427.7 322 418 C322.3 408.3 330.5 376.0 336 360 C341.5 344.0 353.5 331.7 355 322 C356.5 312.3 339.2 305.0 345 302 Z" fill="#133107"/></g></g></g>
<circle cx="96" cy="203" r="6.5" fill="#50d020" filter="url(#nb)"/>
</g>
<g style="mix-blend-mode:screen">
<g transform="rotate(7.5 129.5 38.8)"><g filter="url(#rb)"><g transform="rotate(-7.5 129.5 38.8)">
<g clip-path="url(#cpA)">
<path d="M80 0 C105.8 -1.3 192.3 -6.0 215 0 C237.7 6.0 220.2 25.7 216 36 C211.8 46.3 199.7 54.3 190 62 C180.3 69.7 167.7 79.7 158 82 C148.3 84.3 141.7 80.0 132 76 C122.3 72.0 108.7 63.7 100 58 C91.3 52.3 86.0 47.7 80 42 C74.0 36.3 67.3 29.7 64 24 C60.7 18.3 57.3 12.0 60 8 C62.7 4.0 54.2 1.3 80 0 Z" fill="#481306" stroke="#aa290e" stroke-width="12" stroke-opacity="0.85"/>
<path d="M35.8 31.3 L58.0 42.0 L80.7 50.0 L103.8 54.4 L127.1 57.3 L150.1 61.8 L172.8 69.8 L195.0 80.5 L217.3 91.2" stroke="#aa290e" stroke-width="2.4" stroke-opacity="0.82" fill="none" stroke-linejoin="round"/><path d="M22.7 130.3 L46.9 126.0 L71.4 119.7 L96.1 112.7 L120.5 106.8 L144.7 103.0 L168.7 100.7 L192.7 98.1 L216.9 93.8" stroke="#aa290e" stroke-width="2.2" stroke-opacity="0.82" fill="none" stroke-linejoin="round"/><path d="M23.9 121.4 L48.2 116.3 L72.6 110.7 L96.9 106.4 L120.8 104.2 L144.6 103.3 L168.5 102.0 L192.6 98.8 L216.9 93.7" stroke="#aa290e" stroke-width="2.1" stroke-opacity="0.47" fill="none" stroke-linejoin="round"/><path d="M30.6 70.8 L55.0 64.9 L79.4 59.6 L103.6 55.3 L127.8 51.6 L152.0 47.5 L176.4 42.6 L200.8 36.8 L225.3 30.9" stroke="#aa290e" stroke-width="2.7" stroke-opacity="0.49" fill="none" stroke-linejoin="round"/><path d="M28.1 89.6 L52.2 86.1 L75.9 86.1 L99.4 87.7 L123.0 87.9 L147.1 84.6 L171.6 78.5 L196.1 72.3 L220.2 68.8" stroke="#aa290e" stroke-width="2.2" stroke-opacity="0.42" fill="none" stroke-linejoin="round"/><path d="M41.1 -8.6 L65.0 -10.6 L88.7 -11.1 L112.8 -13.6 L137.3 -19.9 L162.2 -29.2 L187.0 -38.1 L211.5 -43.8 L235.4 -45.8" stroke="#aa290e" stroke-width="1.5" stroke-opacity="0.45" fill="none" stroke-linejoin="round"/><path d="M29.0 82.6 L51.3 93.2 L73.6 103.1 L96.2 111.6 L118.9 119.3 L141.5 127.3 L164.0 136.3 L186.3 146.6 L208.5 157.2" stroke="#aa290e" stroke-width="2.1" stroke-opacity="0.83" fill="none" stroke-linejoin="round"/><path d="M29.4 79.2 L53.1 79.4 L77.3 75.3 L101.9 68.8 L126.2 63.4 L150.1 62.0 L173.5 64.2 L196.8 67.1 L220.4 67.3" stroke="#aa290e" stroke-width="2.7" stroke-opacity="0.70" fill="none" stroke-linejoin="round"/><path d="M25.7 107.7 L49.5 106.4 L73.5 104.4 L97.3 102.9 L121.0 103.0 L144.5 104.4 L168.0 106.0 L191.6 106.3 L215.5 105.0" stroke="#aa290e" stroke-width="1.4" stroke-opacity="0.43" fill="none" stroke-linejoin="round"/><path d="M44.1 -31.9 L68.3 -35.2 L92.2 -37.3 L115.8 -36.6 L139.1 -33.9 L162.5 -31.3 L186.1 -30.9 L210.0 -33.1 L234.2 -36.4" stroke="#aa290e" stroke-width="2.3" stroke-opacity="0.35" fill="none" stroke-linejoin="round"/><path d="M38.7 9.1 L62.7 6.8 L86.2 8.3 L109.3 12.3 L132.5 15.8 L156.2 16.2 L180.3 13.1 L204.5 8.9 L228.5 6.7" stroke="#aa290e" stroke-width="1.7" stroke-opacity="0.59" fill="none" stroke-linejoin="round"/><path d="M38.6 9.7 L61.5 16.2 L84.2 22.9 L107.0 29.5 L129.9 36.0 L152.7 42.1 L175.6 48.3 L198.4 54.5 L221.3 61.1" stroke="#aa290e" stroke-width="1.2" stroke-opacity="0.84" fill="none" stroke-linejoin="round"/><path d="M33.9 45.8 L56.4 54.6 L78.9 63.4 L101.4 72.0 L124.0 80.7 L146.5 89.3 L169.0 97.9 L191.6 106.7 L214.1 115.5" stroke="#aa290e" stroke-width="1.8" stroke-opacity="0.74" fill="none" stroke-linejoin="round"/><path d="M30.4 71.7 L54.7 67.0 L79.1 62.0 L103.4 56.9 L127.8 51.7 L152.1 46.8 L176.4 42.0 L200.7 37.3 L225.0 32.5" stroke="#aa290e" stroke-width="2.7" stroke-opacity="0.44" fill="none" stroke-linejoin="round"/>
</g></g></g></g>
<g transform="rotate(62.1 136.2 132.8)"><g filter="url(#rb)"><g transform="rotate(-62.1 136.2 132.8)">
<g clip-path="url(#cpB)">
<path d="M24 82 C29.0 82.7 47.3 92.7 60 96 C72.7 99.3 88.7 102.0 100 102 C111.3 102.0 118.0 99.3 128 96 C138.0 92.7 149.7 88.8 160 82 C170.3 75.2 181.0 62.0 190 55 C199.0 48.0 209.3 34.5 214 40 C218.7 45.5 220.3 78.0 218 88 C215.7 98.0 204.0 91.3 200 100 C196.0 108.7 194.7 122.5 194 140 C193.3 157.5 195.0 184.7 196 205 C197.0 225.3 207.7 252.5 200 262 C192.3 271.5 162.5 265.7 150 262 C137.5 258.3 129.7 250.3 125 240 C120.3 229.7 121.5 213.3 122 200 C122.5 186.7 128.0 172.0 128 160 C128.0 148.0 126.7 135.0 122 128 C117.3 121.0 110.0 121.3 100 118 C90.0 114.7 73.7 112.3 62 108 C50.3 103.7 36.3 96.3 30 92 C23.7 87.7 19.0 81.3 24 82 Z" fill="#1a0a04" stroke="#8a2c0e" stroke-width="12" stroke-opacity="0.85"/>
<path d="M161.1 -43.5 L168.4 -6.6 L178.6 28.8 L192.5 62.2 L207.9 94.8 L221.7 128.3 L231.8 163.7 L239.1 200.6 L246.4 237.5" stroke="#8a2c0e" stroke-width="1.8" stroke-opacity="0.82" fill="none" stroke-linejoin="round"/><path d="M100.8 -11.5 L116.6 20.8 L135.5 51.6 L155.3 81.9 L173.5 113.0 L188.6 145.8 L201.6 179.7 L214.8 213.4 L230.8 245.8" stroke="#8a2c0e" stroke-width="2.4" stroke-opacity="0.40" fill="none" stroke-linejoin="round"/><path d="M32.5 24.6 L41.5 60.6 L50.5 96.6 L59.4 132.7 L68.1 168.8 L76.8 205.0 L85.5 241.1 L94.3 277.2 L103.3 313.2" stroke="#8a2c0e" stroke-width="1.3" stroke-opacity="0.82" fill="none" stroke-linejoin="round"/><path d="M114.5 -18.8 L132.9 12.2 L148.8 44.6 L161.0 78.9 L171.1 114.3 L182.5 149.0 L197.3 182.0 L215.2 213.3 L233.6 244.3" stroke="#8a2c0e" stroke-width="2.7" stroke-opacity="0.52" fill="none" stroke-linejoin="round"/><path d="M42.9 19.1 L64.4 48.5 L84.5 78.6 L104.1 109.0 L124.2 139.1 L145.5 168.6 L167.8 197.6 L190.2 226.5 L211.6 255.9" stroke="#8a2c0e" stroke-width="1.3" stroke-opacity="0.44" fill="none" stroke-linejoin="round"/>
</g></g></g></g>
<g transform="rotate(-82.4 226.6 153.5)"><g filter="url(#rb)"><g transform="rotate(82.4 226.6 153.5)">
<g clip-path="url(#cpC)">
<path d="M192 92 C196.5 81.0 206.2 85.7 215 84 C223.8 82.3 237.8 80.7 245 82 C252.2 83.3 255.2 87.0 258 92 C260.8 97.0 262.3 102.3 262 112 C261.7 121.7 258.7 137.0 256 150 C253.3 163.0 248.7 179.2 246 190 C243.3 200.8 243.5 207.5 240 215 C236.5 222.5 231.7 231.7 225 235 C218.3 238.3 205.5 240.0 200 235 C194.5 230.0 194.0 219.2 192 205 C190.0 190.8 188.0 168.8 188 150 C188.0 131.2 187.5 103.0 192 92 Z" fill="#3b1d05" stroke="#aa520e" stroke-width="12" stroke-opacity="0.85"/>
<path d="M150.3 229.8 L160.6 209.5 L167.3 188.8 L169.8 167.5 L170.3 146.0 L172.7 124.7 L179.6 104.0 L189.9 83.7 L200.2 63.5" stroke="#aa520e" stroke-width="1.3" stroke-opacity="0.43" fill="none" stroke-linejoin="round"/><path d="M289.7 248.4 L293.3 227.3 L295.2 205.9 L296.4 184.5 L298.6 163.1 L302.7 142.0 L308.0 121.1 L313.1 100.2 L316.6 79.0" stroke="#aa520e" stroke-width="2.2" stroke-opacity="0.47" fill="none" stroke-linejoin="round"/><path d="M270.0 245.8 L270.5 224.2 L270.6 202.6 L271.8 181.2 L274.9 160.0 L279.2 138.9 L283.1 117.8 L285.3 96.5 L285.8 74.9" stroke="#aa520e" stroke-width="2.7" stroke-opacity="0.38" fill="none" stroke-linejoin="round"/><path d="M144.8 229.1 L143.5 207.3 L144.7 185.8 L149.6 164.8 L156.7 144.2 L162.5 123.3 L164.9 102.0 L164.0 80.3 L162.6 58.5" stroke="#aa520e" stroke-width="2.4" stroke-opacity="0.42" fill="none" stroke-linejoin="round"/><path d="M272.7 246.2 L276.4 225.0 L283.6 204.4 L292.5 183.9 L299.9 163.3 L303.9 142.2 L305.1 120.7 L306.1 99.3 L309.9 78.1" stroke="#aa520e" stroke-width="1.9" stroke-opacity="0.40" fill="none" stroke-linejoin="round"/><path d="M139.4 228.3 L148.4 207.9 L157.9 187.6 L166.7 167.1 L174.2 146.5 L180.8 125.8 L187.4 105.0 L195.2 84.4 L204.2 64.0" stroke="#aa520e" stroke-width="2.8" stroke-opacity="0.58" fill="none" stroke-linejoin="round"/>
</g></g></g></g>
<g transform="rotate(-81.7 288.5 147.4)"><g filter="url(#rb)"><g transform="rotate(81.7 288.5 147.4)">
<g clip-path="url(#cpD)">
<path d="M282 78 C286.7 74.0 294.0 69.3 300 70 C306.0 70.7 313.0 72.8 318 82 C323.0 91.2 327.3 110.7 330 125 C332.7 139.3 336.0 154.7 334 168 C332.0 181.3 325.0 195.0 318 205 C311.0 215.0 302.0 223.5 292 228 C282.0 232.5 265.7 235.8 258 232 C250.3 228.2 247.3 217.0 246 205 C244.7 193.0 247.3 173.8 250 160 C252.7 146.2 258.3 133.0 262 122 C265.7 111.0 268.7 101.3 272 94 C275.3 86.7 277.3 82.0 282 78 Z" fill="#551306" stroke="#be290e" stroke-width="12" stroke-opacity="0.85"/>
<path d="M302.3 240.3 L315.0 219.4 L326.2 198.4 L335.4 177.0 L343.7 155.5 L352.9 134.1 L364.2 113.0 L376.9 92.2 L389.7 71.3" stroke="#be290e" stroke-width="2.4" stroke-opacity="0.59" fill="none" stroke-linejoin="round"/><path d="M287.2 238.1 L287.4 215.4 L286.0 192.5 L283.9 169.5 L282.8 146.6 L283.5 124.0 L285.4 101.5 L287.2 79.1 L287.4 56.4" stroke="#be290e" stroke-width="1.8" stroke-opacity="0.42" fill="none" stroke-linejoin="round"/><path d="M328.5 244.1 L336.4 222.6 L343.6 200.9 L352.6 179.5 L364.4 158.5 L377.9 137.8 L390.9 116.9 L401.3 95.8 L409.2 74.2" stroke="#be290e" stroke-width="1.7" stroke-opacity="0.60" fill="none" stroke-linejoin="round"/><path d="M224.5 228.9 L220.4 205.6 L218.7 182.6 L220.4 160.2 L224.1 138.0 L226.8 115.7 L226.1 92.9 L222.4 69.6 L218.3 46.3" stroke="#be290e" stroke-width="1.8" stroke-opacity="0.78" fill="none" stroke-linejoin="round"/><path d="M301.1 240.1 L307.7 218.4 L317.3 197.1 L328.4 176.0 L338.3 154.7 L345.1 133.0 L349.5 110.9 L353.7 88.8 L360.4 67.1" stroke="#be290e" stroke-width="2.4" stroke-opacity="0.68" fill="none" stroke-linejoin="round"/><path d="M239.3 231.1 L246.7 209.5 L254.6 187.9 L261.8 166.2 L267.9 144.4 L272.9 122.4 L278.1 100.5 L284.3 78.7 L291.8 57.0" stroke="#be290e" stroke-width="2.4" stroke-opacity="0.59" fill="none" stroke-linejoin="round"/><path d="M317.3 242.5 L322.2 220.5 L324.6 198.1 L322.7 175.1 L318.1 151.7 L314.2 128.5 L314.0 105.7 L317.7 83.5 L322.6 61.5" stroke="#be290e" stroke-width="2.1" stroke-opacity="0.67" fill="none" stroke-linejoin="round"/><path d="M195.3 224.7 L199.8 202.6 L203.2 180.4 L205.9 158.1 L208.9 135.8 L213.0 113.7 L218.0 91.7 L223.2 69.7 L227.7 47.7" stroke="#be290e" stroke-width="1.9" stroke-opacity="0.69" fill="none" stroke-linejoin="round"/><path d="M321.7 243.1 L324.9 220.9 L326.4 198.4 L329.1 176.1 L335.3 154.3 L344.4 132.9 L353.8 111.5 L360.5 89.8 L363.7 67.5" stroke="#be290e" stroke-width="2.2" stroke-opacity="0.52" fill="none" stroke-linejoin="round"/><path d="M294.0 239.1 L300.6 217.3 L307.8 195.7 L316.6 174.2 L326.7 153.0 L336.6 131.7 L345.3 110.3 L352.5 88.6 L359.1 66.9" stroke="#be290e" stroke-width="2.6" stroke-opacity="0.77" fill="none" stroke-linejoin="round"/><path d="M272.9 236.0 L281.0 214.5 L293.4 193.6 L308.8 173.1 L323.5 152.5 L334.6 131.4 L341.7 109.8 L347.5 87.9 L355.7 66.4" stroke="#be290e" stroke-width="2.0" stroke-opacity="0.61" fill="none" stroke-linejoin="round"/><path d="M195.5 224.7 L206.1 203.5 L219.3 182.7 L231.6 161.8 L240.0 140.3 L244.7 118.3 L248.5 96.1 L255.0 74.4 L265.6 53.2" stroke="#be290e" stroke-width="2.3" stroke-opacity="0.59" fill="none" stroke-linejoin="round"/><path d="M295.8 239.4 L303.5 217.8 L311.0 196.1 L317.7 174.4 L323.8 152.6 L329.8 130.7 L336.3 109.0 L343.7 87.3 L351.4 65.7" stroke="#be290e" stroke-width="2.1" stroke-opacity="0.74" fill="none" stroke-linejoin="round"/><path d="M308.5 241.2 L312.6 219.1 L313.9 196.6 L313.0 173.7 L312.1 150.9 L313.4 128.3 L317.4 106.2 L322.7 84.3 L326.7 62.1" stroke="#be290e" stroke-width="2.2" stroke-opacity="0.74" fill="none" stroke-linejoin="round"/><path d="M341.2 246.0 L336.8 222.6 L331.9 199.2 L327.1 175.8 L322.9 152.4 L319.4 129.2 L316.1 106.0 L312.4 82.8 L308.1 59.4" stroke="#be290e" stroke-width="2.2" stroke-opacity="0.57" fill="none" stroke-linejoin="round"/><path d="M221.4 228.5 L224.4 206.2 L227.9 184.0 L233.9 162.2 L242.6 140.7 L251.9 119.4 L259.5 97.7 L264.3 75.7 L267.3 53.4" stroke="#be290e" stroke-width="2.0" stroke-opacity="0.37" fill="none" stroke-linejoin="round"/><path d="M259.2 234.0 L255.0 210.7 L251.4 187.4 L248.2 164.2 L245.2 141.1 L241.8 117.9 L237.7 94.6 L233.3 71.2 L229.2 47.9" stroke="#be290e" stroke-width="1.5" stroke-opacity="0.51" fill="none" stroke-linejoin="round"/><path d="M252.6 233.0 L249.1 209.8 L247.2 186.8 L245.4 163.8 L242.1 140.6 L236.7 117.1 L230.3 93.5 L224.8 70.0 L221.3 46.7" stroke="#be290e" stroke-width="2.2" stroke-opacity="0.54" fill="none" stroke-linejoin="round"/>
</g></g></g></g>
<g transform="rotate(83.0 344.9 90.6)"><g filter="url(#rb)"><g transform="rotate(-83.0 344.9 90.6)">
<g clip-path="url(#cpE)">
<path d="M312 2 C324.3 -6.0 377.0 -25.7 390 2 C403.0 29.7 396.7 139.7 390 168 C383.3 196.3 359.3 176.7 350 172 C340.7 167.3 338.7 152.0 334 140 C329.3 128.0 325.0 115.0 322 100 C319.0 85.0 317.7 66.3 316 50 C314.3 33.7 299.7 10.0 312 2 Z" fill="#551306" stroke="#be290e" stroke-width="12" stroke-opacity="0.85"/>
<path d="M298.5 -3.9 L301.9 20.8 L308.5 45.0 L319.0 68.7 L331.2 92.3 L341.7 116.0 L348.2 140.2 L351.5 164.9 L354.9 189.5" stroke="#be290e" stroke-width="1.8" stroke-opacity="0.35" fill="none" stroke-linejoin="round"/><path d="M365.2 -12.1 L369.7 12.4 L374.8 36.8 L379.9 61.2 L384.9 85.6 L389.3 110.1 L393.3 134.7 L397.4 159.2 L402.0 183.7" stroke="#be290e" stroke-width="1.8" stroke-opacity="0.77" fill="none" stroke-linejoin="round"/><path d="M422.4 -19.2 L423.8 5.7 L425.4 30.5 L426.7 55.4 L427.6 80.3 L428.2 105.3 L428.9 130.3 L430.0 155.2 L431.5 180.0" stroke="#be290e" stroke-width="1.7" stroke-opacity="0.62" fill="none" stroke-linejoin="round"/><path d="M349.3 -10.1 L348.4 15.0 L345.1 40.5 L338.0 66.4 L329.0 92.5 L321.1 118.6 L316.6 144.2 L315.3 169.4 L314.4 194.5" stroke="#be290e" stroke-width="2.5" stroke-opacity="0.56" fill="none" stroke-linejoin="round"/><path d="M299.0 -3.9 L304.5 20.4 L309.4 44.9 L313.9 69.4 L318.8 93.8 L324.2 118.2 L330.2 142.5 L336.1 166.8 L341.6 191.1" stroke="#be290e" stroke-width="2.1" stroke-opacity="0.65" fill="none" stroke-linejoin="round"/><path d="M287.3 -2.5 L280.1 23.5 L271.9 49.5 L265.1 75.4 L261.0 100.9 L258.9 126.2 L256.6 151.6 L252.0 177.2 L244.8 203.1" stroke="#be290e" stroke-width="2.6" stroke-opacity="0.53" fill="none" stroke-linejoin="round"/><path d="M395.1 -15.8 L402.1 8.4 L410.5 32.4 L421.4 56.1 L434.1 79.5 L446.3 103.1 L456.2 126.9 L463.8 151.0 L470.8 175.2" stroke="#be290e" stroke-width="1.4" stroke-opacity="0.66" fill="none" stroke-linejoin="round"/><path d="M335.2 -8.4 L330.7 17.2 L328.0 42.6 L326.2 67.8 L323.9 93.2 L320.1 118.7 L314.8 144.4 L309.3 170.1 L304.8 195.7" stroke="#be290e" stroke-width="1.6" stroke-opacity="0.57" fill="none" stroke-linejoin="round"/><path d="M400.1 -16.4 L396.1 9.1 L392.9 34.5 L389.2 60.1 L383.7 85.8 L376.9 111.6 L370.0 137.5 L364.3 163.3 L360.4 188.8" stroke="#be290e" stroke-width="2.7" stroke-opacity="0.83" fill="none" stroke-linejoin="round"/><path d="M296.6 -3.6 L308.9 19.9 L319.2 43.7 L325.1 68.0 L327.6 92.7 L330.3 117.4 L336.6 141.7 L347.1 165.4 L359.4 188.9" stroke="#be290e" stroke-width="1.9" stroke-opacity="0.60" fill="none" stroke-linejoin="round"/><path d="M399.8 -16.4 L395.8 9.1 L389.6 35.0 L381.9 60.9 L374.5 86.9 L368.9 112.6 L365.5 138.1 L362.7 163.5 L358.6 189.0" stroke="#be290e" stroke-width="2.0" stroke-opacity="0.49" fill="none" stroke-linejoin="round"/><path d="M410.9 -17.8 L410.8 7.3 L409.5 32.5 L408.7 57.6 L409.6 82.6 L412.4 107.3 L415.6 131.9 L417.5 156.7 L417.4 181.8" stroke="#be290e" stroke-width="2.5" stroke-opacity="0.50" fill="none" stroke-linejoin="round"/><path d="M242.7 3.0 L251.4 27.0 L260.9 50.9 L272.7 74.5 L286.5 97.8 L300.5 121.1 L312.9 144.6 L322.8 168.4 L331.6 192.4" stroke="#be290e" stroke-width="2.7" stroke-opacity="0.49" fill="none" stroke-linejoin="round"/><path d="M264.4 0.4 L270.9 24.6 L278.7 48.7 L287.3 72.6 L296.0 96.6 L303.8 120.7 L310.4 144.9 L316.4 169.2 L323.0 193.4" stroke="#be290e" stroke-width="2.8" stroke-opacity="0.43" fill="none" stroke-linejoin="round"/><path d="M374.0 -13.2 L376.0 11.6 L379.5 36.2 L382.8 60.8 L384.3 85.7 L383.7 110.8 L382.5 136.0 L382.3 161.1 L384.3 185.9" stroke="#be290e" stroke-width="2.2" stroke-opacity="0.67" fill="none" stroke-linejoin="round"/><path d="M260.1 0.9 L273.6 24.3 L286.4 47.7 L296.1 71.6 L302.7 95.8 L308.5 120.1 L316.4 144.2 L327.7 167.8 L341.1 191.2" stroke="#be290e" stroke-width="2.1" stroke-opacity="0.50" fill="none" stroke-linejoin="round"/><path d="M348.6 -10.1 L357.2 13.9 L363.6 38.2 L367.9 62.7 L371.8 87.2 L377.4 111.6 L385.3 135.7 L394.6 159.5 L403.1 183.5" stroke="#be290e" stroke-width="1.8" stroke-opacity="0.58" fill="none" stroke-linejoin="round"/><path d="M295.6 -3.5 L297.1 21.4 L298.4 46.2 L299.7 71.1 L301.1 96.0 L302.7 120.8 L304.4 145.7 L306.0 170.5 L307.4 195.4" stroke="#be290e" stroke-width="1.9" stroke-opacity="0.48" fill="none" stroke-linejoin="round"/>
</g></g></g></g>
<g transform="rotate(22.0 51.1 314.3)"><g filter="url(#rb)"><g transform="rotate(-22.0 51.1 314.3)">
<g clip-path="url(#cpF)">
<path d="M0 273 C5.0 259.0 19.2 266.8 30 268 C40.8 269.2 55.3 274.7 65 280 C74.7 285.3 81.8 293.0 88 300 C94.2 307.0 102.5 315.7 102 322 C101.5 328.3 92.0 333.7 85 338 C78.0 342.3 69.2 346.3 60 348 C50.8 349.7 40.0 347.3 30 348 C20.0 348.7 5.0 364.5 0 352 C-5.0 339.5 -5.0 287.0 0 273 Z" fill="#331a05" stroke="#b8440e" stroke-width="12" stroke-opacity="0.85"/>
<path d="M-21.6 318.8 L-9.0 331.5 L4.3 342.4 L18.5 351.0 L33.2 358.7 L47.4 367.4 L60.7 378.3 L73.3 391.0 L85.9 403.6" stroke="#b8440e" stroke-width="2.4" stroke-opacity="0.36" fill="none" stroke-linejoin="round"/><path d="M-6.6 281.8 L8.1 289.2 L24.0 293.8 L40.3 297.3 L55.9 302.5 L70.4 310.6 L83.9 320.8 L97.7 330.7 L112.4 338.0" stroke="#b8440e" stroke-width="2.0" stroke-opacity="0.67" fill="none" stroke-linejoin="round"/><path d="M-30.9 341.7 L-14.6 345.2 L1.9 348.3 L18.0 352.4 L33.4 358.1 L48.4 364.9 L63.5 371.3 L79.2 376.3 L95.5 379.8" stroke="#b8440e" stroke-width="1.5" stroke-opacity="0.78" fill="none" stroke-linejoin="round"/><path d="M4.9 253.3 L18.8 262.7 L32.7 272.3 L46.4 282.1 L60.1 292.1 L73.8 302.0 L87.6 311.7 L101.6 321.1 L115.5 330.5" stroke="#b8440e" stroke-width="2.3" stroke-opacity="0.77" fill="none" stroke-linejoin="round"/><path d="M-9.2 288.1 L7.4 291.0 L22.6 297.2 L37.2 304.8 L52.4 311.2 L68.8 314.3 L86.4 314.8 L103.9 315.3 L120.4 318.3" stroke="#b8440e" stroke-width="1.4" stroke-opacity="0.81" fill="none" stroke-linejoin="round"/><path d="M-6.9 282.6 L7.4 290.9 L21.5 300.0 L35.9 308.0 L51.2 314.0 L67.2 318.4 L83.0 323.1 L98.2 329.4 L112.6 337.7" stroke="#b8440e" stroke-width="1.4" stroke-opacity="0.52" fill="none" stroke-linejoin="round"/><path d="M-8.2 285.7 L5.6 295.5 L19.4 305.1 L33.3 314.5 L47.3 323.7 L61.3 332.9 L75.2 342.4 L89.0 352.1 L102.8 361.9" stroke="#b8440e" stroke-width="2.5" stroke-opacity="0.47" fill="none" stroke-linejoin="round"/><path d="M-20.0 314.8 L-5.5 322.7 L9.1 330.6 L23.6 338.4 L38.2 346.2 L52.7 354.1 L67.2 362.1 L81.7 370.2 L96.2 378.1" stroke="#b8440e" stroke-width="2.8" stroke-opacity="0.71" fill="none" stroke-linejoin="round"/>
</g></g></g></g>
<g transform="rotate(16.8 146.1 313.8)"><g filter="url(#rb)"><g transform="rotate(-16.8 146.1 313.8)">
<g clip-path="url(#cpG)">
<path d="M74 285 C71.7 278.5 73.5 279.2 82 276 C90.5 272.8 111.2 268.7 125 266 C138.8 263.3 151.8 260.7 165 260 C178.2 259.3 196.5 255.3 204 262 C211.5 268.7 210.0 290.0 210 300 C210.0 310.0 208.0 314.5 204 322 C200.0 329.5 192.3 337.0 186 345 C179.7 353.0 173.3 364.5 166 370 C158.7 375.5 148.0 378.8 142 378 C136.0 377.2 134.5 372.2 130 365 C125.5 357.8 120.7 343.3 115 335 C109.3 326.7 102.8 323.3 96 315 C89.2 306.7 76.3 291.5 74 285 Z" fill="#3a1005" stroke="#b8310e" stroke-width="12" stroke-opacity="0.85"/>
<path d="M54.7 347.5 L72.5 356.0 L90.2 364.3 L108.1 372.4 L126.0 380.3 L143.8 388.4 L161.6 396.7 L179.3 405.2 L197.0 413.6" stroke="#b8310e" stroke-width="1.6" stroke-opacity="0.77" fill="none" stroke-linejoin="round"/><path d="M71.9 290.7 L88.6 302.6 L106.1 311.6 L124.0 319.6 L141.4 329.2 L157.9 341.9 L173.7 356.8 L189.6 371.3 L206.3 383.1" stroke="#b8310e" stroke-width="1.7" stroke-opacity="0.42" fill="none" stroke-linejoin="round"/><path d="M48.3 368.7 L69.0 367.4 L89.9 365.5 L110.3 365.2 L129.8 367.5 L148.9 371.5 L168.2 375.0 L188.1 376.1 L208.8 374.7" stroke="#b8310e" stroke-width="1.5" stroke-opacity="0.56" fill="none" stroke-linejoin="round"/><path d="M59.6 331.5 L80.1 330.7 L100.5 330.2 L120.8 330.1 L141.1 330.3 L161.3 330.4 L181.7 330.0 L202.3 329.3 L222.8 328.4" stroke="#b8310e" stroke-width="1.3" stroke-opacity="0.54" fill="none" stroke-linejoin="round"/><path d="M91.8 224.9 L110.4 230.6 L128.0 239.4 L145.2 249.7 L162.7 258.7 L181.2 264.5 L200.5 267.8 L219.8 271.1 L238.4 276.8" stroke="#b8310e" stroke-width="1.4" stroke-opacity="0.79" fill="none" stroke-linejoin="round"/><path d="M72.6 288.5 L91.3 293.7 L109.7 299.9 L128.5 304.8 L148.1 307.2 L168.2 307.6 L188.3 308.2 L207.8 311.0 L226.5 316.2" stroke="#b8310e" stroke-width="2.7" stroke-opacity="0.59" fill="none" stroke-linejoin="round"/><path d="M70.2 296.5 L89.5 299.7 L109.3 301.3 L130.0 299.7 L151.4 296.2 L172.6 293.2 L193.0 292.9 L212.5 295.4 L231.8 298.6" stroke="#b8310e" stroke-width="2.2" stroke-opacity="0.43" fill="none" stroke-linejoin="round"/><path d="M77.3 272.8 L93.9 284.9 L111.3 294.5 L129.1 302.7 L146.7 311.6 L163.7 322.7 L180.0 335.9 L196.1 349.6 L212.8 361.6" stroke="#b8310e" stroke-width="1.6" stroke-opacity="0.66" fill="none" stroke-linejoin="round"/><path d="M64.5 315.3 L84.7 315.6 L105.3 314.3 L125.7 314.1 L145.1 317.1 L163.6 322.8 L182.1 328.7 L201.4 332.2 L221.6 332.5" stroke="#b8310e" stroke-width="1.4" stroke-opacity="0.61" fill="none" stroke-linejoin="round"/><path d="M79.9 264.2 L100.1 264.5 L119.9 266.2 L138.7 271.1 L156.8 278.4 L174.9 285.6 L193.8 290.2 L213.6 291.7 L233.8 292.0" stroke="#b8310e" stroke-width="2.3" stroke-opacity="0.44" fill="none" stroke-linejoin="round"/><path d="M59.5 331.5 L80.3 330.0 L100.2 331.4 L119.4 334.8 L138.8 337.8 L158.9 338.3 L179.9 336.1 L201.1 333.0 L221.9 331.6" stroke="#b8310e" stroke-width="1.4" stroke-opacity="0.40" fill="none" stroke-linejoin="round"/>
</g></g></g></g>
<g transform="rotate(-13.4 310.2 241.4)"><g filter="url(#rb)"><g transform="rotate(13.4 310.2 241.4)">
<g clip-path="url(#cpH)">
<path d="M215 228 C205.0 229.0 224.5 233.0 232 234 C239.5 235.0 251.2 232.2 260 234 C268.8 235.8 279.2 239.0 285 245 C290.8 251.0 292.5 260.0 295 270 C297.5 280.0 295.8 297.7 300 305 C304.2 312.3 310.0 314.5 320 314 C330.0 313.5 348.3 304.7 360 302 C371.7 299.3 385.0 320.0 390 298 C395.0 276.0 396.7 191.0 390 170 C383.3 149.0 359.7 171.3 350 172 C340.3 172.7 336.7 168.5 332 174 C327.3 179.5 328.7 196.0 322 205 C315.3 214.0 309.8 224.2 292 228 C274.2 231.8 225.0 227.0 215 228 Z" fill="#551306" stroke="#be290e" stroke-width="12" stroke-opacity="0.85"/>
<path d="M214.8 302.8 L240.7 295.9 L265.8 285.9 L290.0 272.1 L313.9 256.7 L338.1 243.0 L363.3 233.1 L389.1 226.2 L415.0 219.2" stroke="#be290e" stroke-width="1.7" stroke-opacity="0.59" fill="none" stroke-linejoin="round"/><path d="M228.3 359.6 L252.4 345.2 L275.8 327.9 L298.9 309.5 L322.4 292.7 L346.7 279.2 L371.5 267.9 L396.3 256.2 L420.4 241.8" stroke="#be290e" stroke-width="1.4" stroke-opacity="0.38" fill="none" stroke-linejoin="round"/><path d="M223.4 338.9 L250.0 335.1 L276.6 331.1 L303.3 327.7 L330.2 325.3 L357.3 323.5 L384.3 321.5 L411.1 318.6 L437.7 314.8" stroke="#be290e" stroke-width="2.8" stroke-opacity="0.41" fill="none" stroke-linejoin="round"/><path d="M207.9 273.8 L235.2 272.8 L262.5 272.2 L290.1 272.2 L317.6 272.5 L345.2 272.7 L372.6 272.3 L399.9 271.3 L427.1 270.3" stroke="#be290e" stroke-width="1.8" stroke-opacity="0.66" fill="none" stroke-linejoin="round"/><path d="M196.5 225.9 L221.6 215.9 L247.4 208.5 L273.4 202.4 L299.2 195.2 L324.4 185.3 L349.0 173.3 L373.7 161.2 L398.8 151.2" stroke="#be290e" stroke-width="1.8" stroke-opacity="0.52" fill="none" stroke-linejoin="round"/><path d="M183.3 170.2 L211.2 172.3 L239.5 175.4 L267.4 177.1 L294.7 176.0 L321.4 172.8 L348.2 169.8 L375.5 169.1 L403.5 171.2" stroke="#be290e" stroke-width="1.9" stroke-opacity="0.75" fill="none" stroke-linejoin="round"/><path d="M221.2 329.8 L248.1 326.9 L274.5 322.5 L300.3 315.4 L325.8 306.7 L351.3 298.3 L377.4 292.3 L404.0 288.7 L430.8 285.8" stroke="#be290e" stroke-width="2.4" stroke-opacity="0.64" fill="none" stroke-linejoin="round"/><path d="M208.4 276.1 L232.7 262.6 L257.0 249.0 L281.3 235.3 L305.5 221.6 L329.8 208.1 L354.1 194.7 L378.4 181.3 L402.7 167.8" stroke="#be290e" stroke-width="1.3" stroke-opacity="0.45" fill="none" stroke-linejoin="round"/><path d="M224.8 344.9 L250.3 336.2 L275.3 325.8 L300.6 316.6 L326.7 310.7 L353.5 307.5 L380.3 304.5 L406.5 299.1 L431.9 290.3" stroke="#be290e" stroke-width="2.0" stroke-opacity="0.35" fill="none" stroke-linejoin="round"/><path d="M221.7 331.5 L247.7 325.3 L273.9 320.0 L300.6 316.5 L327.6 314.5 L354.6 312.4 L381.3 308.8 L407.5 303.3 L433.5 297.1" stroke="#be290e" stroke-width="1.4" stroke-opacity="0.58" fill="none" stroke-linejoin="round"/><path d="M196.3 225.1 L220.6 211.7 L245.3 199.9 L270.3 189.3 L295.3 178.5 L319.8 166.3 L344.1 152.5 L368.2 138.2 L392.5 124.8" stroke="#be290e" stroke-width="2.6" stroke-opacity="0.54" fill="none" stroke-linejoin="round"/><path d="M194.4 217.3 L219.6 207.2 L244.8 197.9 L270.1 188.3 L295.0 177.6 L319.7 165.8 L344.4 153.8 L369.2 142.5 L394.3 132.5" stroke="#be290e" stroke-width="1.7" stroke-opacity="0.43" fill="none" stroke-linejoin="round"/><path d="M194.6 217.7 L220.5 211.4 L246.5 204.9 L272.5 198.4 L298.4 191.7 L324.3 185.1 L350.3 178.5 L376.2 172.0 L402.2 165.7" stroke="#be290e" stroke-width="1.8" stroke-opacity="0.81" fill="none" stroke-linejoin="round"/><path d="M222.8 336.2 L250.1 335.6 L276.8 332.1 L302.9 326.3 L329.0 320.4 L355.7 316.8 L383.0 316.2 L410.7 316.8 L438.1 316.2" stroke="#be290e" stroke-width="2.7" stroke-opacity="0.59" fill="none" stroke-linejoin="round"/><path d="M186.5 183.9 L213.2 180.3 L239.6 175.8 L266.1 171.4 L292.8 168.1 L319.8 166.0 L346.9 164.4 L373.9 162.0 L400.5 158.4" stroke="#be290e" stroke-width="2.4" stroke-opacity="0.69" fill="none" stroke-linejoin="round"/><path d="M196.3 224.9 L221.0 213.1 L245.7 201.4 L270.4 189.7 L295.2 178.2 L319.9 166.7 L344.7 155.1 L369.4 143.4 L394.1 131.6" stroke="#be290e" stroke-width="1.3" stroke-opacity="0.47" fill="none" stroke-linejoin="round"/><path d="M193.3 212.5 L221.1 213.5 L249.2 216.1 L277.6 220.1 L306.1 224.3 L334.4 227.4 L362.3 228.9 L389.9 229.5 L417.7 230.6" stroke="#be290e" stroke-width="1.9" stroke-opacity="0.51" fill="none" stroke-linejoin="round"/><path d="M191.4 204.5 L218.6 203.2 L246.4 204.4 L274.2 205.8 L301.5 204.8 L328.0 200.7 L354.2 195.1 L380.7 190.8 L407.9 189.5" stroke="#be290e" stroke-width="1.6" stroke-opacity="0.43" fill="none" stroke-linejoin="round"/><path d="M205.5 263.5 L234.1 268.3 L262.7 273.0 L290.8 275.4 L318.2 275.1 L345.4 273.6 L372.9 273.6 L401.1 276.3 L429.7 281.2" stroke="#be290e" stroke-width="2.8" stroke-opacity="0.57" fill="none" stroke-linejoin="round"/><path d="M191.8 206.3 L216.7 195.4 L240.9 181.4 L264.4 164.3 L287.6 146.2 L311.2 130.1 L335.7 117.4 L360.7 107.0 L385.6 96.0" stroke="#be290e" stroke-width="1.3" stroke-opacity="0.56" fill="none" stroke-linejoin="round"/>
</g></g></g></g>
<g transform="rotate(-29.2 234.9 367.9)"><g filter="url(#rb)"><g transform="rotate(29.2 234.9 367.9)">
<g clip-path="url(#cpI)">
<path d="M135 418 C128.3 414.2 150.0 402.0 160 395 C170.0 388.0 187.3 388.5 195 376 C202.7 363.5 197.7 330.7 206 320 C214.3 309.3 231.8 313.7 245 312 C258.2 310.3 275.0 307.8 285 310 C295.0 312.2 301.2 317.5 305 325 C308.8 332.5 309.7 345.8 308 355 C306.3 364.2 303.0 372.5 295 380 C287.0 387.5 271.7 395.7 260 400 C248.3 404.3 235.0 403.0 225 406 C215.0 409.0 215.0 416.0 200 418 C185.0 420.0 141.7 421.8 135 418 Z" fill="#401105" stroke="#be330e" stroke-width="12" stroke-opacity="0.85"/>
<path d="M123.4 397.5 L153.7 394.3 L183.0 389.6 L211.3 382.8 L239.0 375.2 L267.2 368.5 L296.6 363.8 L326.9 360.7 L357.1 357.5" stroke="#be330e" stroke-width="1.4" stroke-opacity="0.53" fill="none" stroke-linejoin="round"/><path d="M81.3 322.0 L109.6 315.5 L136.9 307.1 L163.9 298.1 L191.4 290.1 L220.0 284.0 L249.4 279.3 L278.7 274.3 L307.0 267.8" stroke="#be330e" stroke-width="1.3" stroke-opacity="0.82" fill="none" stroke-linejoin="round"/><path d="M130.4 410.0 L149.7 387.3 L168.8 364.2 L188.5 342.1 L209.0 321.5 L230.1 302.0 L251.0 282.1 L271.1 260.8 L290.4 238.1" stroke="#be330e" stroke-width="1.6" stroke-opacity="0.38" fill="none" stroke-linejoin="round"/><path d="M135.7 419.5 L158.1 402.3 L180.6 385.3 L203.2 368.5 L225.9 351.7 L248.5 335.0 L271.1 318.0 L293.5 300.9 L315.9 283.7" stroke="#be330e" stroke-width="2.8" stroke-opacity="0.37" fill="none" stroke-linejoin="round"/><path d="M104.7 363.9 L128.9 350.0 L154.0 337.6 L179.5 325.9 L204.6 313.6 L228.9 299.8 L252.4 284.7 L276.0 269.5 L300.2 255.6" stroke="#be330e" stroke-width="1.3" stroke-opacity="0.62" fill="none" stroke-linejoin="round"/><path d="M132.5 413.8 L154.1 395.1 L176.1 377.3 L197.6 358.4 L217.8 337.3 L237.2 314.7 L256.7 292.2 L277.1 271.6 L298.7 252.9" stroke="#be330e" stroke-width="2.2" stroke-opacity="0.81" fill="none" stroke-linejoin="round"/><path d="M183.2 504.6 L204.9 486.1 L226.6 467.7 L248.3 449.1 L269.9 430.6 L291.5 412.0 L313.2 393.5 L334.9 375.0 L356.6 356.6" stroke="#be330e" stroke-width="2.0" stroke-opacity="0.62" fill="none" stroke-linejoin="round"/><path d="M150.3 445.5 L174.1 430.9 L196.6 413.8 L218.2 395.3 L240.2 377.4 L263.5 361.9 L288.1 348.5 L312.8 335.5 L336.6 320.8" stroke="#be330e" stroke-width="2.7" stroke-opacity="0.71" fill="none" stroke-linejoin="round"/><path d="M122.8 396.4 L145.5 379.8 L167.3 361.5 L189.8 344.5 L214.1 330.6 L239.8 319.3 L265.6 308.3 L290.1 294.9 L312.8 278.2" stroke="#be330e" stroke-width="1.4" stroke-opacity="0.46" fill="none" stroke-linejoin="round"/><path d="M135.5 419.2 L154.0 395.0 L173.3 372.2 L194.3 352.4 L216.5 335.0 L238.7 317.4 L259.5 297.4 L278.7 274.4 L297.2 250.3" stroke="#be330e" stroke-width="1.7" stroke-opacity="0.76" fill="none" stroke-linejoin="round"/><path d="M116.6 385.3 L136.7 363.9 L157.3 343.5 L178.3 323.8 L199.2 304.0 L219.7 283.3 L239.6 261.8 L259.4 239.9 L279.5 218.6" stroke="#be330e" stroke-width="1.9" stroke-opacity="0.39" fill="none" stroke-linejoin="round"/><path d="M154.4 453.0 L176.5 435.2 L198.6 417.5 L220.7 399.7 L242.6 381.7 L264.5 363.5 L286.3 345.3 L308.2 327.2 L330.2 309.3" stroke="#be330e" stroke-width="1.3" stroke-opacity="0.70" fill="none" stroke-linejoin="round"/>
</g></g></g></g>
<g transform="rotate(66.6 26.1 183.5)"><g filter="url(#rb)"><g transform="rotate(-66.6 26.1 183.5)">
<g clip-path="url(#cpL)">
<path d="M0 124 C4.2 117.8 18.3 139.0 25 148 C31.7 157.0 36.2 168.0 40 178 C43.8 188.0 47.3 201.3 48 208 C48.7 214.7 46.7 217.3 44 218 C41.3 218.7 36.0 215.8 32 212 C28.0 208.2 25.3 199.5 20 195 C14.7 190.5 3.3 196.8 0 185 C-3.3 173.2 -4.2 130.2 0 124 Z" fill="#161004" stroke="#3a300c" stroke-width="12" stroke-opacity="0.85"/>

</g></g></g></g>
<g transform="rotate(-66.8 352.8 353.0)"><g filter="url(#rb)"><g transform="rotate(66.8 352.8 353.0)">
<g clip-path="url(#cpBR)">
<path d="M345 302 C350.8 299.0 382.5 300.2 390 304 C397.5 307.8 396.7 313.2 390 325 C383.3 336.8 359.3 359.5 350 375 C340.7 390.5 338.7 410.8 334 418 C329.3 425.2 321.7 427.7 322 418 C322.3 408.3 330.5 376.0 336 360 C341.5 344.0 353.5 331.7 355 322 C356.5 312.3 339.2 305.0 345 302 Z" fill="#060300" stroke="#142207" stroke-width="12" stroke-opacity="0.85"/>

</g></g></g></g>
<path d="M52 348 C60 370 70 392 82 416" stroke="#a08a10" stroke-width="2.5" fill="none" filter="url(#nb)"/>
</g>
<g filter="url(#nb)">
<ellipse cx="120" cy="28" rx="25" ry="22" transform="rotate(0 120 28)" fill="#3264e2"/>
<ellipse cx="152.5" cy="138.5" rx="25" ry="31" transform="rotate(5 152.5 138.5)" fill="#3468e6"/>
<ellipse cx="222.5" cy="136" rx="25" ry="28" transform="rotate(10 222.5 136)" fill="#22a8d0"/>
<ellipse cx="287" cy="140" rx="20" ry="40" transform="rotate(20 287 140)" fill="#3264e2"/>
<ellipse cx="360.5" cy="104.5" rx="20.5" ry="34.5" transform="rotate(-5 360.5 104.5)" fill="#3264e2"/>
<ellipse cx="36" cy="315" rx="24" ry="27.5" transform="rotate(0 36 315)" fill="#3468e6"/>
<ellipse cx="153.5" cy="312.5" rx="22.5" ry="27.5" transform="rotate(-5 153.5 312.5)" fill="#3468e6"/>
<ellipse cx="328" cy="245" rx="24" ry="25" transform="rotate(0 328 245)" fill="#3264e2"/>
<ellipse cx="275.5" cy="352.5" rx="25.5" ry="25" transform="rotate(0 275.5 352.5)" fill="#3264e2"/>
<ellipse cx="320" cy="421" rx="14" ry="10" transform="rotate(0 320 421)" fill="#3264e2"/>
</g>
<g filter="url(#ntex)">
<ellipse cx="120" cy="28" rx="21.2" ry="18.7" transform="rotate(0 120 28)" fill="#20c8a8" fill-opacity="0.5"/>
<ellipse cx="152.5" cy="138.5" rx="21.2" ry="26.3" transform="rotate(5 152.5 138.5)" fill="#28d8a0" fill-opacity="0.6"/>
<ellipse cx="222.5" cy="136" rx="21.2" ry="23.8" transform="rotate(10 222.5 136)" fill="#48f0a0" fill-opacity="0.8"/>
<ellipse cx="287" cy="140" rx="17.0" ry="34.0" transform="rotate(20 287 140)" fill="#28a8c8" fill-opacity="0.45"/>
<ellipse cx="360.5" cy="104.5" rx="17.4" ry="29.3" transform="rotate(-5 360.5 104.5)" fill="#2898d0" fill-opacity="0.4"/>
<ellipse cx="36" cy="315" rx="20.4" ry="23.4" transform="rotate(0 36 315)" fill="#28c8b0" fill-opacity="0.55"/>
<ellipse cx="153.5" cy="312.5" rx="19.1" ry="23.4" transform="rotate(-5 153.5 312.5)" fill="#28c0b0" fill-opacity="0.5"/>
<ellipse cx="328" cy="245" rx="20.4" ry="21.2" transform="rotate(0 328 245)" fill="#2898d0" fill-opacity="0.4"/>
<ellipse cx="275.5" cy="352.5" rx="21.7" ry="21.2" transform="rotate(0 275.5 352.5)" fill="#28c0a8" fill-opacity="0.5"/>
<ellipse cx="320" cy="421" rx="11.9" ry="8.5" transform="rotate(0 320 421)" fill="#2898d0" fill-opacity="0.3"/>
</g>
</g>
</svg>
</svg>
</body></html>
